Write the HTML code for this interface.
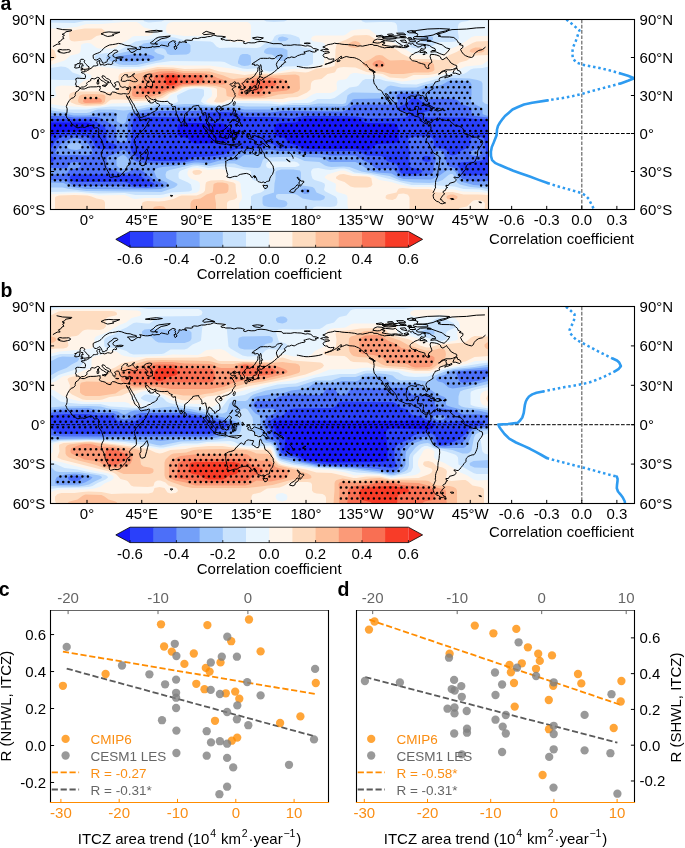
<!DOCTYPE html>
<html><head><meta charset="utf-8"><title>Figure</title>
<style>
html,body{margin:0;padding:0;background:#fff;}
svg{display:block;font-family:'Liberation Sans', Arial, sans-serif;font-size:15px;}
</style></head>
<body>
<svg width="685" height="848" viewBox="0 0 685 848">
<rect width="685" height="848" fill="#fff"/>
<clipPath id="clipa"><rect x="50.5" y="19.5" width="438" height="190"/></clipPath>
<g clip-path="url(#clipa)">
<rect x="50.5" y="19.5" width="438" height="190" fill="#fff4e9"/>
<rect x="49.5" y="18.5" width="440.0" height="192.0" fill="#1717fa"/>
<path fill="#2a40fa" fill-rule="evenodd" d="M49.5 18.5 489.5 18.5 489.5 210.5 49.5 210.5 49.5 137 52 136.5 56.5 133 59.5 132 88.5 131.5 93.5 129.5 95 127.5 94 125.5 93 124.5 90.5 123.5 87.5 122.5 49.5 122.5 49.5 18.5ZM180.5 123.5 178.5 124.5 177.5 126.5 177.5 134.5 180 136.5 187.5 138 191.5 142 194.5 143.5 223.5 143 226.5 141.5 228.5 139 230.5 138 236.5 136.5 238.5 136 240 133.5 238.5 131 236.5 130.5 230.5 129 225.5 124.5 222.5 123.5 196.5 123 184.5 123 180.5 123.5ZM303.5 118.5 295.5 122.5 280.5 123 276.5 124 275 125.5 274.5 127.5 274.5 133.5 275.5 135.5 277.5 136.5 284.5 138 290 143.5 296.5 145 302.5 148 306.5 149 355.5 149 367.5 150.5 371.5 149 374.5 145.5 377.5 144 394.5 143 397.5 142 399 140.5 398 126.5 397 124.5 394.5 123.5 366.5 123 363.5 122 358.5 119 354.5 118.5 303.5 118.5Z"/>
<path fill="#4c6ff9" fill-rule="evenodd" d="M49.5 18.5 489.5 18.5 489.5 119.5 475.5 119 464.5 117.5 428.5 117.5 424.5 117 422 115.5 422 113.5 424.5 112 431.5 110.5 433.5 108.5 433 106.5 430.5 105 424 103.5 418.5 99 415.5 98 411.5 98.5 406.5 103.5 399.5 106.5 398 107.5 397.5 108.5 398 109.5 399.5 110.5 408 112.5 409 114.5 408.5 116 405.5 117.5 396.5 118 367.5 118.5 356.5 116.5 343.5 116 304.5 116 292.5 118 280.5 117.5 269.5 117 245.5 117 241.5 116 234.5 112.5 222.5 112 206.5 112.5 204 113.5 199.5 117 196.5 117.5 136.5 117 134.5 117.5 133 120.5 132 126.5 131.5 140.5 130 146.5 132 152.5 134.5 155.5 143.5 160 154.5 161 173.5 161 185.5 160.5 194.5 157 209.5 156.5 224 154.5 226.5 153.5 231 150.5 237.5 149 259.5 148 261.5 147.5 265.5 144.5 269.5 143.5 273.5 144.5 277.5 147.5 279.5 148 282.5 148.5 294.5 148 302.5 151 305.5 151.5 355.5 151 359.5 152 366.5 155.5 381.5 156 384 157.5 387.5 161.5 394.5 163 396.5 164.5 398 166.5 399.5 171.5 401.5 173.5 404.5 174 415.5 174 419.5 173.5 421.5 172.5 422.5 171.5 422 170.5 420.5 169.5 412.5 168 410.5 167 409.5 165.5 409.5 146.5 408 140.5 409 138.5 410.5 137.5 416.5 136.5 427.5 136.5 431.5 137.5 433.5 139.5 434 145.5 434.5 146.5 436.5 147.5 444.5 149 447 150.5 449.5 154.5 452.5 155.5 456.5 154.5 461.5 150.5 468.5 147.5 470 145.5 470.5 139.5 471.5 138 475.5 136.5 480.5 137 483.5 138 484.5 139.5 485 146.5 486.5 152.5 486 155.5 484.5 158.5 482.5 160 479.5 161 460.5 162.5 458 163.5 457.5 164.5 457.5 165.5 460 168.5 462.5 174 464.5 175.5 489.5 175 489.5 210.5 49.5 210.5 49.5 162.5 53 161.5 54.5 159.5 53.5 157.5 49.5 155.5 49.5 149.5 52 147.5 54.5 142.5 56 140.5 60.5 137.5 64.5 136 72.5 135 80.5 135.5 86.5 136.5 90.5 138.5 93 141.5 95.5 147 98.5 149 112.5 149.5 115.5 148.5 117 146.5 116.5 145.5 115.5 144.5 107.5 141.5 106.5 139.5 106.5 131.5 105 127.5 103 125.5 94.5 121 91.5 120 87.5 119.5 49.5 119 49.5 18.5ZM424.5 156 422.5 157.5 422 158.5 422.5 160.5 424.5 161.5 427.5 162 429.5 161.5 430.5 160.5 431.5 158.5 430 156.5 427.5 156 424.5 156ZM73.5 174.5 71 175.5 69.5 177.5 70.5 179.5 74.5 182 123.5 182 127.5 182.5 132.5 185.5 135.5 186 149.5 186 154.5 184.5 154 183.5 152.5 182.5 145.5 179.5 140 175.5 136.5 174 123.5 175.5 111.5 174 98.5 174.5 73.5 174.5Z"/>
<path fill="#74a0f8" fill-rule="evenodd" d="M49.5 18.5 489.5 18.5 489.5 117.5 478.5 116.5 473 115.5 472 114.5 471.5 113.5 471.5 109.5 470.5 107.5 468.5 106.5 461.5 104 458 100.5 455.5 99.5 450.5 98.5 427.5 99 425.5 98.5 421.5 95.5 418.5 94 402.5 93 398.5 94 396.5 95.5 396.5 96.5 398 101.5 396 103.5 393.5 104.5 354.5 104.5 352 105.5 346.5 110 342.5 111.5 282.5 111 270.5 112.5 246.5 112.5 243.5 112.5 233.5 109.5 209.5 109.5 204.5 109.5 196.5 111 159.5 111 149.5 112.5 134.5 113.5 132.5 114 131 115.5 127.5 126.5 127 140.5 126.5 141.5 124.5 142.5 121.5 142.5 118.5 141.5 116.5 139.5 116 128.5 115.5 126.5 100.5 118 96.5 117 74.5 117.5 63.5 116 49.5 116 49.5 18.5ZM71.5 138.5 74.5 138 78.5 138.5 81.5 139.5 87.5 143 89 144.5 92.5 151.5 92.5 153.5 90.5 155 87.5 155.5 74.5 155 62.5 155.5 58.5 155 56 153.5 55 152.5 55.5 151.5 60.5 144 66.5 140.5 71.5 138.5ZM475 149.5 477.5 149.5 480.5 150.5 481.5 152.5 481 154.5 478.5 156 475.5 156 472.5 155.5 470 154.5 469.5 152.5 470.5 151.5 475 149.5ZM121 150.5 123.5 150 125.5 150.5 133.5 160 136.5 161.5 143.5 163 160.5 163.5 174.5 163.5 186.5 162 196.5 160 209.5 160.5 218.5 158 231.5 156.5 234 155.5 238 152.5 241.5 151.5 260.5 151 269.5 149.5 279.5 151 294.5 151 305.5 154 320.5 154 330.5 155.5 354.5 155.5 356.5 156 363.5 160.5 369.5 163 376 168.5 379.5 169 391.5 168.5 393.5 169.5 399.5 175.5 401.5 176.5 404.5 176.5 423.5 176 428.5 175 432 173.5 433.5 171.5 434 165.5 436 159.5 435.5 157.5 434 152.5 435 151.5 436.5 151 440.5 150.5 442.5 151.5 443.5 152.5 447.5 165.5 449 166.5 454.5 168 456.5 169.5 458 171.5 460.5 177 462.5 179 475.5 181.5 489.5 181 489.5 210.5 49.5 210.5 49.5 180 63.5 180 66.5 181 73.5 185.5 85.5 186 123.5 186 133.5 187.5 147.5 188 156.5 187 160 186.5 162 185.5 163 184.5 162.5 183.5 153.5 179.5 142.5 171 139.5 169.5 134.5 169 127.5 172.5 122.5 173 119.5 172.5 108 167.5 107 166.5 106.5 164.5 107 157.5 108.5 156 114.5 154 121 150.5ZM71.5 162.5 75.5 162 78.5 162.5 80.5 164.5 80.5 166.5 79.5 167.5 77.5 168.5 69.5 169.5 68 172.5 64.5 174.5 49.5 174.5 49.5 168 62.5 168.5 67.5 168 69.5 164 71.5 162.5Z"/>
<path fill="#9ec6fb" fill-rule="evenodd" d="M49.5 18.5 489.5 18.5 489.5 116 486.5 115.5 483.5 114.5 482.5 113.5 482.5 109.5 481.5 107.5 473 103.5 470.5 101.5 471.5 94.5 471.5 84.5 470.5 82.5 469 81.5 465.5 81 453.5 80.5 448.5 81 442.5 84.5 439.5 85.5 426.5 87 418.5 90.5 400.5 90.5 391.5 91.5 388.5 93.5 384.5 97 381.5 98.5 354.5 99 352.5 99.5 347.5 105 345.5 106 342.5 106.5 318.5 106.5 281.5 107.5 278.5 107.5 271.5 109.5 267.5 109.5 244.5 109.5 233.5 107 219.5 107.5 196.5 106.5 158.5 107 144.5 110 133.5 111.5 129.5 112.5 127.5 114.5 126 121.5 125.5 122.5 123.5 124 120.5 123.5 117 121.5 116.5 119.5 117 114.5 116.5 113.5 113.5 112.5 98.5 112.5 91.5 115 86.5 115.5 73.5 115.5 64.5 113.5 49.5 113 49.5 18.5ZM130.5 54.5 119.5 56 117 57.5 117 58.5 119.5 60.5 122.5 61.5 135.5 61.5 150.5 59.5 153.5 58.5 154.5 57.5 154 56.5 152 55.5 148.5 54.5 135.5 54 130.5 54.5ZM73 142.5 76.5 142.5 79.5 143.5 82 145.5 82 147.5 80.5 149 76.5 150 71.5 149.5 68.5 148.5 67.5 147.5 67.5 145.5 70 143.5 73 142.5ZM262.5 154.5 294.5 154 305.5 157 320.5 157.5 323.5 158.5 328.5 161.5 330.5 162 355.5 162 359 163.5 368 169.5 372.5 171.5 377.5 172.5 391.5 173.5 398.5 177.5 403.5 179 430.5 179.5 433.5 178.5 439.5 175.5 446.5 170.5 452.5 170 455.5 172 459.5 180 462.5 182 473.5 185 489.5 186 489.5 210.5 49.5 210.5 49.5 182.5 63.5 183 71.5 187 86.5 189 146.5 189.5 160.5 189 165.5 187.5 168 185.5 168.5 184.5 167 182.5 159.5 179.5 156.5 177.5 154 171.5 155 169.5 157.5 168 162.5 167 174.5 166 194.5 162.5 198.5 162.5 209.5 163.5 219.5 160.5 235.5 160.5 238 159.5 242.5 156 244.5 155 262.5 154.5ZM301.5 189.5 300.5 190.5 300.5 191.5 304.5 194 308.5 193.5 310 191.5 309.5 189.5 307.5 189 304.5 188.5 301.5 189.5ZM121.5 155.5 123.5 155 125.5 156 127 157.5 128.5 160.5 129.5 165.5 127.5 167.5 125.5 168.5 123.5 169 121 168.5 118.5 167.5 116.5 165.5 116.5 161.5 116.5 158.5 118.5 157 121.5 155.5Z"/>
<path fill="#c8e2fd" fill-rule="evenodd" d="M49.5 18.5 489.5 18.5 489.5 105 485 103.5 482.5 101.5 482.5 83.5 481.5 81.5 477.5 80 469.5 78.5 452.5 78 447.5 78.5 435.5 82.5 425.5 84.5 416.5 87.5 401.5 87.5 390.5 85.5 387.5 86.5 382.5 91.5 379.5 93 355.5 92.5 352.5 92.5 349.5 94 347.5 95.5 346 102.5 344.5 103.5 342.5 104 318.5 103.5 308.5 105 292.5 105 268.5 106.5 245.5 106.5 233.5 105 223.5 106 214.5 106 205.5 105.5 196.5 104 184.5 104 173.5 105 158.5 105 139.5 109 123.5 110.5 113.5 109.5 98.5 109.5 95.5 110 89.5 112.5 86.5 113 74.5 113 54.5 111 49.5 110 49.5 18.5ZM157.5 41.5 143.5 43.5 137.5 47.5 127.5 51.5 109.5 55.5 107 56.5 106 57.5 106.5 58.5 109.5 60.5 119 64.5 123.5 65 136.5 65 160.5 60 164 58.5 164.5 56.5 164 55.5 157.5 53.5 154.5 51.5 154.5 50.5 155 49.5 157.5 48.5 160.5 48 163.5 48.5 165.5 50 167.5 54 170.5 55 186.5 54.5 189 53.5 190.5 51.5 190.5 45.5 189.5 44 187.5 43 172.5 41 157.5 41.5ZM242.5 54 240.5 55 239.5 56.5 238 61.5 238 63.5 241.5 65.5 244.5 66 248.5 65.5 250.5 64.5 251 62.5 251 58.5 250.5 55.5 247.5 54 242.5 54ZM269.5 47.5 267.5 48 265 49.5 264 51.5 264 52.5 266.5 54 271.5 54.5 273.5 55.5 277 59.5 279.5 61 283.5 61 285.5 60.5 287 59.5 287.5 57.5 287.5 52.5 287.5 50.5 286.5 49.5 282.5 48 269.5 47.5ZM279.5 37 278 38.5 278 39.5 278.5 40.5 280.5 41.5 285.5 41 288 39.5 288.5 38.5 286.5 37.5 282.5 36.5 279.5 37ZM426.5 35.5 423.5 36 421.5 37 420.5 38.5 421.5 40.5 423.5 41.5 427.5 42 430.5 41.5 433 39.5 433 37.5 432 36.5 429.5 35.5 426.5 35.5ZM266.5 157.5 278.5 157 295.5 157 304.5 161 319.5 162 325 165.5 328 166.5 331.5 167 343.5 166.5 349.5 167 361.5 171.5 389.5 176 400.5 180.5 413.5 182.5 429.5 183 437.5 182 442.5 180 448.5 175 450.5 174 452.5 174 454.5 176.5 457 182.5 460 184.5 470.5 187 481.5 188 489.5 189 489.5 210.5 49.5 210.5 49.5 187.5 62.5 187.5 69.5 189 77.5 190 86.5 191 161.5 192 174.5 187.5 177 185.5 177.5 184.5 177 183.5 167 178.5 166 177.5 165.5 174.5 166.5 171.5 169.5 170 193.5 164.5 198.5 164.5 209.5 166 221.5 163.5 234.5 163.5 243.5 167 257.5 168 259.5 167.5 260.5 166.5 263 159.5 266.5 157.5ZM277.5 170.5 276 171.5 275.5 172.5 275.5 178.5 274.5 183.5 274 192.5 264.5 195.5 263 196.5 262.5 197.5 262.5 203.5 263.5 205.5 264.5 206 268.5 207 281.5 207.5 284.5 207 286.5 206 287.5 203.5 286.5 201.5 284.5 200.5 278.5 199.5 276 197.5 276 195.5 276.5 194.5 278.5 194 294.5 194 297.5 195 302.5 198.5 313.5 200.5 320.5 200.5 323.5 199.5 324.5 198.5 325 196.5 323.5 195.5 316.5 192.5 314.5 188.5 312.5 187 302.5 185.5 300.5 184.5 300 183.5 301 178.5 301 172.5 300 170.5 293.5 169.5 281.5 169.5 277.5 170.5Z"/>
<path fill="#e9f5fe" fill-rule="evenodd" d="M116 19.5 117 18.5 142 18.5 144.5 21.5 148.5 22.5 161.5 21.5 164.5 20 166 18.5 263.5 18.5 264.5 20.5 266.5 21.5 273.5 22 284 21.5 286.5 20.5 287.5 18.5 361 18.5 361.5 20.5 362.5 21.5 365.5 22.5 380.5 22 391.5 22 394.5 22.5 396 23.5 397 25.5 397.5 31.5 398 33.5 400.5 35 406.5 35.5 409.5 37 410.5 38.5 410.5 39.5 408.5 43.5 409 45.5 411.5 47.5 415.5 48.5 429.5 47.5 431.5 47 436.5 43 439.5 42 451.5 42 455.5 41.5 457.5 40.5 459 38.5 458 32.5 458 26.5 458.5 24.5 459.5 23 461.5 22 467.5 21 469.5 20 470 18.5 489.5 18.5 489.5 66.5 482.5 68 473.5 68.5 470.5 69.5 466.5 72.5 463.5 74 447.5 76 416.5 84.5 401.5 84 393.5 82 385.5 81 379.5 79 365.5 79 362.5 80.5 358.5 85.5 356.5 86.5 349.5 87.5 334.5 98 330.5 99 317.5 99 310.5 102.5 307.5 103 293.5 103 281.5 104.5 269.5 103.5 233.5 103 221.5 105.5 207.5 104.5 203.5 103.5 201 101.5 201.5 99.5 204 95.5 204 90.5 203.5 89.5 201.5 89 195.5 88.5 189 89.5 178.5 94.5 177 95.5 177 96.5 178 101.5 176.5 102.5 173.5 103.5 158.5 103 137.5 106.5 110.5 106.5 96.5 108 86.5 109.5 61.5 109.5 49.5 107 49.5 79.5 59.5 80 75.5 80 79.5 78.5 81.5 76.5 80.5 75.5 78.5 74.5 72.5 72.5 68.5 68.5 65.5 67 61 66.5 49.5 68 49.5 22.5 74.5 23 84.5 21 111.5 20.5 116 19.5ZM278.5 34.5 276.5 35 274.5 36.5 272.5 40.5 271.5 41.5 265.5 43 260.5 47 256.5 48 232.5 47.5 219.5 48 216.5 46.5 213 42.5 210.5 41.5 196.5 41 183.5 40 174.5 37.5 159.5 36 151 39.5 141.5 40.5 135.5 41.5 117 51.5 113 52.5 102.5 53.5 97.5 54 95.5 55.5 94.5 57.5 95.5 59.5 97.5 61 109.5 65 120.5 67 138.5 67 156.5 63 171.5 61 220.5 61.5 224.5 62 231.5 65.5 242.5 68.5 247.5 69 258.5 68 261.5 69 265 70.5 269.5 71.5 275 70.5 280.5 68 284.5 66.5 307.5 66 311.5 64.5 313 63.5 313 50.5 312.5 49.5 310.5 48.5 303.5 47.5 301 46.5 300 44.5 300 39.5 299 37.5 295.5 36 290.5 34.5 283.5 34 278.5 34.5ZM268.5 161.5 294.5 161.5 297.5 162.5 299.5 164.5 299.5 165.5 298.5 166 295.5 167 279.5 167 269.5 168.5 267 167.5 266 165.5 266.5 163 268.5 161.5ZM192.5 166.5 197.5 166 208.5 168 219.5 166.5 224.5 166.5 234.5 167.5 249.5 170.5 251 171.5 251 172.5 251.5 177.5 252.5 179.5 254.5 180.5 261.5 181.5 264 183.5 264.5 186.5 264 190.5 261 192.5 253.5 194.5 251 196.5 251 203.5 250 210.5 49.5 210.5 49.5 192 75.5 191.5 98.5 193.5 124.5 193 135.5 195 159.5 195 163.5 194.5 171.5 192.5 189 191.5 191.5 190.5 192 189.5 191 184.5 188 182.5 179 178.5 178.5 176.5 178.5 173.5 179.5 171.5 181 170.5 192.5 166.5ZM313.5 168.5 318.5 168 325.5 169.5 330.5 170 339.5 168.5 344.5 168.5 348.5 169.5 354.5 172.5 371.5 174.5 391.5 179.5 401.5 182.5 411.5 185 430.5 185 454.5 186.5 463.5 189 479.5 189.5 489.5 191.5 489.5 210.5 312 210.5 312.5 209 313.5 207.5 316.5 206.5 330.5 207 334.5 206.5 336.5 205.5 337.5 202.5 337 198.5 335.5 196.5 325.5 191.5 324.5 190.5 324 189.5 325 185.5 324.5 183.5 321.5 182 314.5 180 312.5 178.5 311.5 175.5 311 171.5 312 169.5 313.5 168.5Z"/>
<path fill="#fff4e9" fill-rule="evenodd" d="M118.5 22.5 123.5 22 136.5 22 139.5 23.5 144 27.5 152 29.5 153 30.5 153.5 32.5 152 34.5 148.5 36 135.5 36 132.5 36.5 126.5 41 120.5 43.5 115.5 47.5 112.5 48.5 98.5 48.5 96 47.5 91 43.5 87.5 43 83.5 43.5 81.5 44.5 81 45.5 80.5 51.5 79.5 53 77.5 54 70.5 55.5 64.5 60.5 49.5 65.5 49.5 28.5 63.5 28.5 76.5 27 86.5 24 101.5 24 118.5 22.5ZM169.5 22.5 173.5 22 247.5 22 250 23.5 251 25.5 251 38.5 250.5 40.5 247.5 42 232.5 42 229.5 41.5 225 36.5 221.5 35.5 184.5 36 169.5 34 166.5 32.5 166 29.5 166.5 25.5 167.5 24 169.5 22.5ZM357 29.5 365.5 29 369.5 29.5 376.5 35 381.5 37 388.5 41 395.5 43.5 411.5 53 415.5 54.5 441.5 54.5 444.5 53 449.5 49 456.5 46.5 465.5 41.5 471.5 37 475.5 36 489.5 36 489.5 60.5 487.5 61 482.5 64.5 480.5 65 465.5 66.5 455.5 71 432.5 77 406.5 81 402.5 81.5 388.5 79.5 379.5 75.5 365.5 74.5 356.5 73 353.5 73 350.5 74 346.5 79 344.5 79.5 339.5 80 337.5 81 336.5 83.5 337 89.5 333.5 92 330.5 93 316.5 93 312.5 94.5 305.5 99 300.5 100 291.5 100.5 283.5 102.5 279 102.5 270.5 101 233.5 101 230.5 101.5 225 103.5 221.5 104 210.5 103.5 207 102.5 206 101.5 207.5 99.5 211.5 96.5 212 93.5 211.5 89.5 210 88.5 206.5 87.5 196.5 87.5 184.5 88.5 177.5 92.5 171.5 94.5 170 95.5 167.5 99 165.5 100 149.5 102.5 111.5 103.5 103.5 106 86.5 107.5 60.5 105.5 49.5 104 49.5 98.5 54.5 97.5 56.5 95.5 55 89.5 55.5 87.5 56.5 86.5 61.5 85.5 76.5 86 78.5 85 83.5 81 89.5 79 91.5 77.5 91.5 75.5 90 74.5 83.5 72.5 80.5 70.5 80.5 69.5 81 68.5 83.5 67.5 99.5 66.5 119.5 69 135.5 69 139.5 69 158.5 65 184.5 65.5 209.5 65.5 234.5 69 243.5 71.5 257.5 71.5 269.5 73 276 72.5 291.5 69 307.5 68.5 322.5 64.5 324 63.5 324 62.5 324.5 51.5 325 44.5 324.5 43.5 322.5 42.5 314.5 41.5 312.5 41 311.5 39.5 311 38.5 312.5 36.5 315.5 35.5 318.5 35.5 343.5 35.5 346 34.5 351 30.5 357 29.5ZM192 168.5 196.5 168 208.5 170 219.5 169 223.5 169.5 226 170.5 226.5 171.5 227 176.5 228.5 178.5 236.5 180.5 239 181.5 240.5 183.5 241 190.5 242 196.5 241.5 199.5 239 203.5 239 210.5 49.5 210.5 49.5 194.5 54.5 194 75.5 193 89.5 194 98.5 195.5 124.5 195 127.5 196 132.5 198.5 135.5 199 145.5 198 161.5 198 176.5 194.5 191.5 193.5 197 192.5 199.5 190.5 200 185.5 199.5 182.5 197.5 181 190.5 178.5 188.5 176.5 187.5 174.5 187.5 172.5 188 170.5 192 168.5ZM340.5 170.5 344.5 170.5 353.5 174 370 175.5 373.5 176.5 379.5 180 391.5 182 399.5 184.5 408.5 186.5 414.5 187 429.5 187 439.5 189 454.5 189.5 462.5 191.5 477.5 192 489.5 193 489.5 210.5 348.5 210.5 347.5 204.5 347.5 197.5 347 195.5 345.5 194.5 338.5 192.5 336.5 191.5 335.5 189.5 336 185.5 335.5 183.5 327 179.5 324.5 177.5 325.5 176 327.5 174.5 340.5 170.5Z"/>
<path fill="#fedcc0" fill-rule="evenodd" d="M84.5 28.5 101.5 28.5 104.5 30.5 105 32.5 103 34.5 96.5 36 91.5 39.5 89.5 40 74.5 41.5 71.5 41 69.5 39.5 69 33.5 69.5 31.5 72.5 30.5 84.5 28.5ZM354 35.5 366.5 35 369.5 35.5 376.5 40 382.5 42.5 388.5 46.5 395.5 49 401.5 53.5 410.5 58 413.5 59 429.5 59 438.5 60 442.5 59.5 444.5 58.5 449.5 55 456.5 52 472.5 43 476.5 41.5 489.5 41 489.5 55 475.5 55.5 472.5 56.5 467 60.5 459.5 62.5 454.5 67 440 72.5 434.5 74 428.5 75 413.5 75 406.5 78 403.5 78.5 390 77.5 382.5 74 366.5 72 355.5 67.5 343.5 67 339.5 67.5 337 68.5 335.5 71.5 334.5 72.5 327.5 74 321.5 79 314.5 80 312 81.5 311 83.5 310.5 89.5 307 92.5 297.5 97 288.5 97.5 282.5 99 245.5 99.5 231.5 99.5 227.5 100 222.5 102.5 216.5 102.5 214 101.5 214.5 100.5 217 96.5 217 89.5 216.5 88.5 213.5 87.5 203.5 86.5 191.5 86.5 183 87.5 176 91.5 169.5 93.5 162.5 98 151.5 100.5 134.5 101 123.5 99.5 111.5 99.5 109.5 100.5 105.5 104 100.5 105.5 85.5 106 76 104.5 71 102.5 70 100.5 69 97.5 69 95.5 70 93.5 72 92.5 75.5 91.5 100.5 91.5 111.5 92.5 116.5 91.5 119 89.5 118.5 76.5 119.5 74.5 120.5 73.5 125.5 72 139.5 71 157.5 67 173.5 67.5 184.5 69 209.5 68.5 219.5 71.5 244.5 75 256.5 73.5 273.5 74 293.5 71.5 305.5 72.5 308.5 72 316.5 68.5 328.5 67.5 334.5 66 335 63.5 335.5 49.5 336.5 44.5 338.5 42.5 346.5 39.5 354 35.5ZM49.5 48.5 49.5 48 51.5 48.5 54.5 50.5 56.5 56.5 55.5 58.5 52.5 60.5 49.5 61.5 49.5 48.5ZM193.5 170.5 196.5 170 199.5 170 202 171.5 202 172.5 199.5 174.5 195.5 175 193.5 174 192.5 172.5 192.5 171.5 193.5 170.5ZM339.5 174.5 343.5 174 352.5 176 366.5 176.5 369.5 177 371.5 178.5 371.5 179.5 372.5 184.5 371 186.5 367.5 187.5 354.5 187.5 350.5 186.5 344.5 182 338.5 180 336 178.5 336 177.5 336.5 176.5 339.5 174.5ZM211 180.5 222.5 180 233.5 182.5 235.5 184 236 191.5 237 195.5 237 197.5 234.5 199.5 229.5 200.5 227.5 202 227 203.5 227 210.5 143 210.5 142 206.5 142 203.5 142.5 202.5 144.5 201.5 147.5 201 158.5 201.5 164.5 201 173.5 199 178.5 196.5 181.5 195.5 196.5 195.5 200.5 194 203.5 192.5 205 190.5 205.5 184.5 206 182.5 207.5 181.5 211 180.5ZM399 188.5 402.5 188 413.5 189 428.5 189 431.5 189.5 435.5 192 438.5 192.5 452.5 192 463.5 194.5 478.5 194.5 489.5 195 489.5 210.5 484.5 210.5 485 203.5 483.5 201.5 480.5 200.5 476.5 200 473.5 200.5 472 201.5 467 206.5 459.5 208 458 210.5 409.5 210.5 409.5 197.5 408.5 195.5 407.5 194.5 403.5 193.5 398.5 194 396 198.5 392.5 200 388 199.5 386 198.5 385.5 197.5 386 195.5 387.5 194.5 396.5 192.5 398 189.5 399 188.5ZM59 195.5 74.5 195 87.5 195.5 91.5 196.5 96.5 198.5 102 199.5 104 200.5 105 202.5 105 210.5 55 210.5 55 197.5 56 196.5 59 195.5Z"/>
<path fill="#fdbf9a" fill-rule="evenodd" d="M352.5 41.5 355.5 41 358.5 42 360.5 43.5 360.5 45.5 358.5 47 355.5 48 351.5 47.5 348.5 46.5 348 45.5 348.5 43.5 352.5 41.5ZM475.5 47.5 479.5 47.5 483 48.5 484 49.5 484.5 50.5 484 51.5 481.5 52.5 476.5 53 471.5 52.5 469.5 51.5 470.5 49.5 472.5 48.5 475.5 47.5ZM376 55.5 379.5 55 382.5 55.5 388 59.5 390.5 60.5 403.5 60 413.5 61.5 430.5 62 432.5 63 434 64.5 434.5 69.5 434 70.5 432.5 71.5 428.5 72.5 414.5 72.5 403.5 74 391.5 74 383.5 72 373 70.5 365.5 67 362.5 64.5 362.5 63.5 363.5 62 370 59.5 376 55.5ZM155.5 69.5 159.5 69 172.5 69 183.5 71 209.5 71.5 223.5 75.5 230.5 78.5 233.5 79 246.5 77.5 256.5 75.5 273.5 75.5 295.5 74.5 298.5 75.5 299.5 76.5 300 88.5 299 90.5 297.5 91.5 292.5 93.5 278.5 94.5 271 96.5 263.5 98 243.5 98.5 228 96.5 226.5 95.5 226.5 94.5 226 89.5 225 88.5 222 87.5 215.5 86 208.5 85.5 190.5 86 181.5 87 174.5 90.5 168 92.5 160.5 96.5 152.5 98.5 134.5 99 131 98.5 128.5 97 127.5 94.5 127 88.5 129.5 82.5 130 76.5 131 75.5 133.5 74.5 155.5 69.5ZM82.5 94.5 91.5 94 103 94.5 105 95.5 105.5 96.5 105 101.5 103 103.5 100.5 104 87.5 104.5 81.5 104 78.5 102.5 78 100.5 79 96.5 80 95.5 82.5 94.5ZM217.5 182.5 222.5 182.5 227 183.5 228 184.5 228.5 185.5 228.5 189.5 228 191.5 226.5 193 223.5 193.5 217.5 194 216 194.5 215 195.5 215 197.5 216 203.5 216 210.5 190.5 210.5 190.5 203.5 191.5 201 193.5 199.5 200.5 198.5 206.5 194.5 212.5 192.5 213 190.5 213.5 184.5 214.5 183.5 217.5 182.5ZM447.5 195.5 450.5 194.5 453.5 194.5 456 195.5 457.5 196.5 457.5 197.5 457 198.5 455.5 199.5 449.5 199.5 447.5 199 446.5 197.5 446.5 196.5 447.5 195.5ZM155 206.5 159.5 206 163.5 206.5 165.5 208 166 210.5 153 210.5 153.5 207.5 155 206.5Z"/>
<path fill="#fb9a78" fill-rule="evenodd" d="M377 60.5 379.5 60 383 61.5 384.5 63.5 384.5 65.5 382.5 67 380.5 67.5 377.5 67.5 374.5 66.5 372.5 64.5 372.5 63.5 374.5 61.5 377 60.5ZM159 71.5 172.5 71 183.5 73 198.5 73 205 73.5 210 74.5 217.5 78 222.5 79.5 225.5 81 226.5 82.5 225.5 84 222.5 84.5 207.5 84 183.5 85.5 179.5 86.5 173.5 89.5 167.5 91 160.5 94 151.5 96.5 135.5 97 132.5 96 132 93.5 132.5 88.5 134.5 86.5 140.5 83.5 141.5 82.5 142.5 76.5 146 74.5 159 71.5ZM252.5 78.5 257.5 77.5 270.5 77.5 282.5 79 285.5 80.5 287 81.5 288.5 84.5 289 88.5 288.5 89.5 286.5 90.5 272.5 92 269.5 92.5 264 95.5 260.5 96.5 244.5 96.5 241.5 96.5 238.5 95.5 238 94.5 238.5 92.5 240 84.5 241 82.5 243.5 81 252.5 78.5ZM85 98.5 87.5 98 99.5 98 101.5 99.5 102 101.5 100.5 102.5 99.5 102.5 85.5 103 84 102.5 83 101.5 83.5 99.5 85 98.5Z"/>
<path fill="#f96f53" fill-rule="evenodd" d="M163 73.5 172.5 73 183.5 75 198.5 75 201.5 75.5 203 76.5 203.5 78.5 203 81.5 200.5 83 197.5 83.5 182.5 84 172.5 88 160.5 91.5 147.5 93 143.5 92.5 141.5 91.5 140.5 89.5 141.5 88 144.5 87 150.5 85.5 153.5 83.5 154 77.5 155.5 75.5 163 73.5ZM256 80.5 272 80.5 275 81.5 276.5 82.5 276.5 83.5 276 84.5 274.5 86 265.5 87.5 259.5 93 255.5 93 252.5 92.5 250.5 90.5 250 84.5 251 82.5 252.5 81.5 256 80.5Z"/>
<path fill="#f83c28" fill-rule="evenodd" d="M167 75.5 172.5 75 176.5 75.5 178 77.5 178 82.5 175 84.5 171.5 85.5 168.5 85.5 166 84.5 165 82.5 165 77.5 165.5 76.5 167 75.5Z"/>
<path d="M134.7 54.4h0M140.2 54.4h0M145.7 54.4h0M120.9 59.8h0M126.4 59.8h0M131.9 59.8h0M137.4 59.8h0M142.9 59.8h0M148.4 59.8h0M376.6 65.3h0M382.1 65.3h0M145.7 76.2h0M151.2 76.2h0M156.7 76.2h0M162.2 76.2h0M167.7 76.2h0M173.2 76.2h0M178.7 76.2h0M184.2 76.2h0M189.7 76.2h0M195.2 76.2h0M200.7 76.2h0M206.2 76.2h0M211.7 76.2h0M142.9 81.7h0M148.4 81.7h0M153.9 81.7h0M159.4 81.7h0M164.9 81.7h0M170.4 81.7h0M175.9 81.7h0M181.4 81.7h0M186.9 81.7h0M192.4 81.7h0M197.9 81.7h0M203.4 81.7h0M208.9 81.7h0M214.4 81.7h0M219.9 81.7h0M225.4 81.7h0M247.4 81.7h0M252.9 81.7h0M258.4 81.7h0M263.9 81.7h0M269.4 81.7h0M274.9 81.7h0M280.4 81.7h0M285.9 81.7h0M450.9 81.7h0M456.4 81.7h0M461.9 81.7h0M467.4 81.7h0M134.7 87.2h0M140.2 87.2h0M145.7 87.2h0M151.2 87.2h0M156.7 87.2h0M162.2 87.2h0M167.7 87.2h0M173.2 87.2h0M239.2 87.2h0M244.7 87.2h0M250.2 87.2h0M255.7 87.2h0M261.1 87.2h0M266.6 87.2h0M272.1 87.2h0M277.6 87.2h0M283.1 87.2h0M288.6 87.2h0M426.1 87.2h0M431.6 87.2h0M437.1 87.2h0M442.6 87.2h0M448.1 87.2h0M453.6 87.2h0M459.1 87.2h0M464.6 87.2h0M470.1 87.2h0M137.4 92.7h0M142.9 92.7h0M148.4 92.7h0M153.9 92.7h0M159.4 92.7h0M241.9 92.7h0M247.4 92.7h0M252.9 92.7h0M258.4 92.7h0M263.9 92.7h0M269.4 92.7h0M390.4 92.7h0M395.9 92.7h0M401.4 92.7h0M406.9 92.7h0M412.4 92.7h0M417.9 92.7h0M423.4 92.7h0M428.9 92.7h0M434.4 92.7h0M439.9 92.7h0M445.4 92.7h0M450.9 92.7h0M456.4 92.7h0M461.9 92.7h0M467.4 92.7h0M85.2 98.1h0M90.7 98.1h0M96.2 98.1h0M382.1 98.1h0M387.6 98.1h0M393.1 98.1h0M398.6 98.1h0M404.1 98.1h0M409.6 98.1h0M415.1 98.1h0M420.6 98.1h0M426.1 98.1h0M431.6 98.1h0M437.1 98.1h0M442.6 98.1h0M448.1 98.1h0M453.6 98.1h0M459.1 98.1h0M464.6 98.1h0M470.1 98.1h0M351.9 103.6h0M357.4 103.6h0M362.9 103.6h0M368.4 103.6h0M373.9 103.6h0M379.4 103.6h0M384.9 103.6h0M390.4 103.6h0M395.9 103.6h0M401.4 103.6h0M406.9 103.6h0M412.4 103.6h0M417.9 103.6h0M423.4 103.6h0M428.9 103.6h0M434.4 103.6h0M439.9 103.6h0M445.4 103.6h0M450.9 103.6h0M456.4 103.6h0M461.9 103.6h0M467.4 103.6h0M472.9 103.6h0M151.2 109.1h0M156.7 109.1h0M162.2 109.1h0M167.7 109.1h0M173.2 109.1h0M178.7 109.1h0M184.2 109.1h0M189.7 109.1h0M195.2 109.1h0M200.7 109.1h0M206.2 109.1h0M211.7 109.1h0M217.2 109.1h0M222.7 109.1h0M228.2 109.1h0M233.7 109.1h0M239.2 109.1h0M272.1 109.1h0M277.6 109.1h0M283.1 109.1h0M288.6 109.1h0M294.1 109.1h0M299.6 109.1h0M305.1 109.1h0M310.6 109.1h0M316.1 109.1h0M321.6 109.1h0M327.1 109.1h0M332.6 109.1h0M338.1 109.1h0M343.6 109.1h0M349.1 109.1h0M354.6 109.1h0M360.1 109.1h0M365.6 109.1h0M371.1 109.1h0M376.6 109.1h0M382.1 109.1h0M387.6 109.1h0M393.1 109.1h0M398.6 109.1h0M404.1 109.1h0M409.6 109.1h0M415.1 109.1h0M420.6 109.1h0M426.1 109.1h0M431.6 109.1h0M437.1 109.1h0M442.6 109.1h0M448.1 109.1h0M453.6 109.1h0M459.1 109.1h0M464.6 109.1h0M470.1 109.1h0M475.6 109.1h0M481.1 109.1h0M54.9 114.5h0M60.4 114.5h0M65.9 114.5h0M93.4 114.5h0M98.9 114.5h0M104.4 114.5h0M109.9 114.5h0M115.4 114.5h0M131.9 114.5h0M137.4 114.5h0M142.9 114.5h0M148.4 114.5h0M153.9 114.5h0M159.4 114.5h0M164.9 114.5h0M170.4 114.5h0M175.9 114.5h0M181.4 114.5h0M186.9 114.5h0M192.4 114.5h0M197.9 114.5h0M203.4 114.5h0M208.9 114.5h0M214.4 114.5h0M219.9 114.5h0M225.4 114.5h0M230.9 114.5h0M236.4 114.5h0M241.9 114.5h0M247.4 114.5h0M252.9 114.5h0M258.4 114.5h0M263.9 114.5h0M269.4 114.5h0M274.9 114.5h0M280.4 114.5h0M285.9 114.5h0M291.4 114.5h0M296.9 114.5h0M302.4 114.5h0M307.9 114.5h0M313.4 114.5h0M318.9 114.5h0M324.4 114.5h0M329.9 114.5h0M335.4 114.5h0M340.9 114.5h0M346.4 114.5h0M351.9 114.5h0M357.4 114.5h0M362.9 114.5h0M368.4 114.5h0M373.9 114.5h0M379.4 114.5h0M384.9 114.5h0M390.4 114.5h0M395.9 114.5h0M401.4 114.5h0M406.9 114.5h0M412.4 114.5h0M417.9 114.5h0M423.4 114.5h0M428.9 114.5h0M434.4 114.5h0M439.9 114.5h0M445.4 114.5h0M450.9 114.5h0M456.4 114.5h0M461.9 114.5h0M467.4 114.5h0M472.9 114.5h0M478.4 114.5h0M52.2 120.0h0M57.7 120.0h0M63.2 120.0h0M68.7 120.0h0M74.2 120.0h0M79.7 120.0h0M85.2 120.0h0M90.7 120.0h0M96.2 120.0h0M101.7 120.0h0M107.2 120.0h0M112.7 120.0h0M129.2 120.0h0M134.7 120.0h0M140.2 120.0h0M145.7 120.0h0M151.2 120.0h0M156.7 120.0h0M162.2 120.0h0M167.7 120.0h0M173.2 120.0h0M178.7 120.0h0M184.2 120.0h0M189.7 120.0h0M195.2 120.0h0M200.7 120.0h0M206.2 120.0h0M211.7 120.0h0M217.2 120.0h0M222.7 120.0h0M228.2 120.0h0M233.7 120.0h0M239.2 120.0h0M244.7 120.0h0M250.2 120.0h0M255.7 120.0h0M261.1 120.0h0M266.6 120.0h0M272.1 120.0h0M277.6 120.0h0M283.1 120.0h0M288.6 120.0h0M294.1 120.0h0M299.6 120.0h0M305.1 120.0h0M310.6 120.0h0M316.1 120.0h0M321.6 120.0h0M327.1 120.0h0M332.6 120.0h0M338.1 120.0h0M343.6 120.0h0M349.1 120.0h0M354.6 120.0h0M360.1 120.0h0M365.6 120.0h0M371.1 120.0h0M376.6 120.0h0M382.1 120.0h0M387.6 120.0h0M393.1 120.0h0M398.6 120.0h0M404.1 120.0h0M409.6 120.0h0M415.1 120.0h0M420.6 120.0h0M426.1 120.0h0M431.6 120.0h0M437.1 120.0h0M442.6 120.0h0M448.1 120.0h0M453.6 120.0h0M459.1 120.0h0M464.6 120.0h0M470.1 120.0h0M475.6 120.0h0M481.1 120.0h0M486.6 120.0h0M54.9 125.5h0M60.4 125.5h0M65.9 125.5h0M71.4 125.5h0M76.9 125.5h0M82.4 125.5h0M87.9 125.5h0M93.4 125.5h0M98.9 125.5h0M104.4 125.5h0M109.9 125.5h0M115.4 125.5h0M120.9 125.5h0M126.4 125.5h0M131.9 125.5h0M137.4 125.5h0M142.9 125.5h0M148.4 125.5h0M153.9 125.5h0M159.4 125.5h0M164.9 125.5h0M170.4 125.5h0M175.9 125.5h0M181.4 125.5h0M186.9 125.5h0M192.4 125.5h0M197.9 125.5h0M203.4 125.5h0M208.9 125.5h0M214.4 125.5h0M219.9 125.5h0M225.4 125.5h0M230.9 125.5h0M236.4 125.5h0M241.9 125.5h0M247.4 125.5h0M252.9 125.5h0M258.4 125.5h0M263.9 125.5h0M269.4 125.5h0M274.9 125.5h0M280.4 125.5h0M285.9 125.5h0M291.4 125.5h0M296.9 125.5h0M302.4 125.5h0M307.9 125.5h0M313.4 125.5h0M318.9 125.5h0M324.4 125.5h0M329.9 125.5h0M335.4 125.5h0M340.9 125.5h0M346.4 125.5h0M351.9 125.5h0M357.4 125.5h0M362.9 125.5h0M368.4 125.5h0M373.9 125.5h0M379.4 125.5h0M384.9 125.5h0M390.4 125.5h0M395.9 125.5h0M401.4 125.5h0M406.9 125.5h0M412.4 125.5h0M417.9 125.5h0M423.4 125.5h0M428.9 125.5h0M434.4 125.5h0M439.9 125.5h0M445.4 125.5h0M450.9 125.5h0M456.4 125.5h0M461.9 125.5h0M467.4 125.5h0M472.9 125.5h0M478.4 125.5h0M483.9 125.5h0M52.2 130.9h0M57.7 130.9h0M63.2 130.9h0M68.7 130.9h0M74.2 130.9h0M79.7 130.9h0M85.2 130.9h0M90.7 130.9h0M96.2 130.9h0M101.7 130.9h0M107.2 130.9h0M112.7 130.9h0M118.2 130.9h0M123.7 130.9h0M129.2 130.9h0M134.7 130.9h0M140.2 130.9h0M145.7 130.9h0M151.2 130.9h0M156.7 130.9h0M162.2 130.9h0M167.7 130.9h0M173.2 130.9h0M178.7 130.9h0M184.2 130.9h0M189.7 130.9h0M195.2 130.9h0M200.7 130.9h0M206.2 130.9h0M211.7 130.9h0M217.2 130.9h0M222.7 130.9h0M228.2 130.9h0M233.7 130.9h0M239.2 130.9h0M244.7 130.9h0M250.2 130.9h0M255.7 130.9h0M261.1 130.9h0M266.6 130.9h0M272.1 130.9h0M277.6 130.9h0M283.1 130.9h0M288.6 130.9h0M294.1 130.9h0M299.6 130.9h0M305.1 130.9h0M310.6 130.9h0M316.1 130.9h0M321.6 130.9h0M327.1 130.9h0M332.6 130.9h0M338.1 130.9h0M343.6 130.9h0M349.1 130.9h0M354.6 130.9h0M360.1 130.9h0M365.6 130.9h0M371.1 130.9h0M376.6 130.9h0M382.1 130.9h0M387.6 130.9h0M393.1 130.9h0M398.6 130.9h0M404.1 130.9h0M409.6 130.9h0M415.1 130.9h0M420.6 130.9h0M426.1 130.9h0M431.6 130.9h0M437.1 130.9h0M442.6 130.9h0M448.1 130.9h0M453.6 130.9h0M459.1 130.9h0M464.6 130.9h0M470.1 130.9h0M475.6 130.9h0M481.1 130.9h0M486.6 130.9h0M54.9 136.4h0M60.4 136.4h0M65.9 136.4h0M71.4 136.4h0M76.9 136.4h0M82.4 136.4h0M87.9 136.4h0M93.4 136.4h0M98.9 136.4h0M104.4 136.4h0M109.9 136.4h0M115.4 136.4h0M120.9 136.4h0M126.4 136.4h0M131.9 136.4h0M137.4 136.4h0M142.9 136.4h0M148.4 136.4h0M153.9 136.4h0M159.4 136.4h0M164.9 136.4h0M170.4 136.4h0M175.9 136.4h0M181.4 136.4h0M186.9 136.4h0M192.4 136.4h0M197.9 136.4h0M203.4 136.4h0M208.9 136.4h0M214.4 136.4h0M219.9 136.4h0M225.4 136.4h0M230.9 136.4h0M236.4 136.4h0M241.9 136.4h0M247.4 136.4h0M252.9 136.4h0M258.4 136.4h0M263.9 136.4h0M269.4 136.4h0M274.9 136.4h0M280.4 136.4h0M285.9 136.4h0M291.4 136.4h0M296.9 136.4h0M302.4 136.4h0M307.9 136.4h0M313.4 136.4h0M318.9 136.4h0M324.4 136.4h0M329.9 136.4h0M335.4 136.4h0M340.9 136.4h0M346.4 136.4h0M351.9 136.4h0M357.4 136.4h0M362.9 136.4h0M368.4 136.4h0M373.9 136.4h0M379.4 136.4h0M384.9 136.4h0M390.4 136.4h0M395.9 136.4h0M401.4 136.4h0M406.9 136.4h0M412.4 136.4h0M417.9 136.4h0M423.4 136.4h0M428.9 136.4h0M434.4 136.4h0M439.9 136.4h0M445.4 136.4h0M450.9 136.4h0M456.4 136.4h0M461.9 136.4h0M467.4 136.4h0M472.9 136.4h0M478.4 136.4h0M483.9 136.4h0M52.2 141.9h0M57.7 141.9h0M63.2 141.9h0M68.7 141.9h0M74.2 141.9h0M79.7 141.9h0M85.2 141.9h0M90.7 141.9h0M96.2 141.9h0M101.7 141.9h0M107.2 141.9h0M112.7 141.9h0M118.2 141.9h0M123.7 141.9h0M129.2 141.9h0M134.7 141.9h0M140.2 141.9h0M145.7 141.9h0M151.2 141.9h0M156.7 141.9h0M162.2 141.9h0M167.7 141.9h0M173.2 141.9h0M178.7 141.9h0M184.2 141.9h0M189.7 141.9h0M195.2 141.9h0M200.7 141.9h0M206.2 141.9h0M211.7 141.9h0M217.2 141.9h0M222.7 141.9h0M228.2 141.9h0M233.7 141.9h0M239.2 141.9h0M244.7 141.9h0M250.2 141.9h0M255.7 141.9h0M261.1 141.9h0M266.6 141.9h0M272.1 141.9h0M277.6 141.9h0M283.1 141.9h0M288.6 141.9h0M294.1 141.9h0M299.6 141.9h0M305.1 141.9h0M310.6 141.9h0M316.1 141.9h0M321.6 141.9h0M327.1 141.9h0M332.6 141.9h0M338.1 141.9h0M343.6 141.9h0M349.1 141.9h0M354.6 141.9h0M360.1 141.9h0M365.6 141.9h0M371.1 141.9h0M376.6 141.9h0M382.1 141.9h0M387.6 141.9h0M393.1 141.9h0M398.6 141.9h0M404.1 141.9h0M409.6 141.9h0M415.1 141.9h0M420.6 141.9h0M426.1 141.9h0M431.6 141.9h0M437.1 141.9h0M442.6 141.9h0M448.1 141.9h0M453.6 141.9h0M459.1 141.9h0M464.6 141.9h0M470.1 141.9h0M475.6 141.9h0M481.1 141.9h0M486.6 141.9h0M54.9 147.3h0M60.4 147.3h0M65.9 147.3h0M82.4 147.3h0M87.9 147.3h0M93.4 147.3h0M98.9 147.3h0M104.4 147.3h0M109.9 147.3h0M115.4 147.3h0M120.9 147.3h0M126.4 147.3h0M131.9 147.3h0M137.4 147.3h0M142.9 147.3h0M148.4 147.3h0M153.9 147.3h0M159.4 147.3h0M164.9 147.3h0M170.4 147.3h0M175.9 147.3h0M181.4 147.3h0M186.9 147.3h0M192.4 147.3h0M197.9 147.3h0M203.4 147.3h0M208.9 147.3h0M214.4 147.3h0M219.9 147.3h0M225.4 147.3h0M230.9 147.3h0M236.4 147.3h0M241.9 147.3h0M247.4 147.3h0M252.9 147.3h0M258.4 147.3h0M263.9 147.3h0M269.4 147.3h0M274.9 147.3h0M280.4 147.3h0M285.9 147.3h0M291.4 147.3h0M296.9 147.3h0M302.4 147.3h0M307.9 147.3h0M313.4 147.3h0M318.9 147.3h0M324.4 147.3h0M329.9 147.3h0M335.4 147.3h0M340.9 147.3h0M346.4 147.3h0M351.9 147.3h0M357.4 147.3h0M362.9 147.3h0M368.4 147.3h0M373.9 147.3h0M379.4 147.3h0M384.9 147.3h0M390.4 147.3h0M395.9 147.3h0M401.4 147.3h0M406.9 147.3h0M412.4 147.3h0M417.9 147.3h0M423.4 147.3h0M428.9 147.3h0M434.4 147.3h0M439.9 147.3h0M445.4 147.3h0M450.9 147.3h0M456.4 147.3h0M461.9 147.3h0M467.4 147.3h0M472.9 147.3h0M478.4 147.3h0M483.9 147.3h0M52.2 152.8h0M57.7 152.8h0M63.2 152.8h0M68.7 152.8h0M74.2 152.8h0M79.7 152.8h0M85.2 152.8h0M90.7 152.8h0M96.2 152.8h0M101.7 152.8h0M107.2 152.8h0M112.7 152.8h0M118.2 152.8h0M123.7 152.8h0M129.2 152.8h0M134.7 152.8h0M140.2 152.8h0M145.7 152.8h0M151.2 152.8h0M156.7 152.8h0M162.2 152.8h0M167.7 152.8h0M173.2 152.8h0M178.7 152.8h0M184.2 152.8h0M189.7 152.8h0M195.2 152.8h0M200.7 152.8h0M206.2 152.8h0M211.7 152.8h0M217.2 152.8h0M222.7 152.8h0M228.2 152.8h0M233.7 152.8h0M239.2 152.8h0M244.7 152.8h0M250.2 152.8h0M255.7 152.8h0M261.1 152.8h0M266.6 152.8h0M272.1 152.8h0M277.6 152.8h0M283.1 152.8h0M288.6 152.8h0M294.1 152.8h0M299.6 152.8h0M305.1 152.8h0M310.6 152.8h0M316.1 152.8h0M321.6 152.8h0M327.1 152.8h0M332.6 152.8h0M338.1 152.8h0M343.6 152.8h0M349.1 152.8h0M354.6 152.8h0M360.1 152.8h0M365.6 152.8h0M371.1 152.8h0M376.6 152.8h0M382.1 152.8h0M387.6 152.8h0M393.1 152.8h0M398.6 152.8h0M404.1 152.8h0M409.6 152.8h0M415.1 152.8h0M420.6 152.8h0M426.1 152.8h0M431.6 152.8h0M437.1 152.8h0M442.6 152.8h0M448.1 152.8h0M453.6 152.8h0M459.1 152.8h0M464.6 152.8h0M470.1 152.8h0M475.6 152.8h0M481.1 152.8h0M486.6 152.8h0M54.9 158.3h0M60.4 158.3h0M65.9 158.3h0M71.4 158.3h0M76.9 158.3h0M82.4 158.3h0M87.9 158.3h0M93.4 158.3h0M98.9 158.3h0M104.4 158.3h0M109.9 158.3h0M115.4 158.3h0M131.9 158.3h0M137.4 158.3h0M142.9 158.3h0M148.4 158.3h0M153.9 158.3h0M159.4 158.3h0M164.9 158.3h0M170.4 158.3h0M175.9 158.3h0M181.4 158.3h0M186.9 158.3h0M192.4 158.3h0M197.9 158.3h0M203.4 158.3h0M208.9 158.3h0M214.4 158.3h0M219.9 158.3h0M225.4 158.3h0M230.9 158.3h0M236.4 158.3h0M324.4 158.3h0M329.9 158.3h0M335.4 158.3h0M340.9 158.3h0M346.4 158.3h0M351.9 158.3h0M357.4 158.3h0M362.9 158.3h0M368.4 158.3h0M373.9 158.3h0M379.4 158.3h0M384.9 158.3h0M390.4 158.3h0M395.9 158.3h0M401.4 158.3h0M406.9 158.3h0M412.4 158.3h0M417.9 158.3h0M423.4 158.3h0M428.9 158.3h0M434.4 158.3h0M439.9 158.3h0M445.4 158.3h0M450.9 158.3h0M456.4 158.3h0M461.9 158.3h0M467.4 158.3h0M472.9 158.3h0M478.4 158.3h0M483.9 158.3h0M52.2 163.8h0M57.7 163.8h0M63.2 163.8h0M68.7 163.8h0M74.2 163.8h0M79.7 163.8h0M85.2 163.8h0M90.7 163.8h0M96.2 163.8h0M101.7 163.8h0M107.2 163.8h0M112.7 163.8h0M129.2 163.8h0M134.7 163.8h0M140.2 163.8h0M145.7 163.8h0M151.2 163.8h0M156.7 163.8h0M162.2 163.8h0M167.7 163.8h0M173.2 163.8h0M178.7 163.8h0M184.2 163.8h0M206.2 163.8h0M360.1 163.8h0M365.6 163.8h0M371.1 163.8h0M376.6 163.8h0M382.1 163.8h0M387.6 163.8h0M393.1 163.8h0M398.6 163.8h0M404.1 163.8h0M409.6 163.8h0M415.1 163.8h0M420.6 163.8h0M426.1 163.8h0M431.6 163.8h0M437.1 163.8h0M442.6 163.8h0M448.1 163.8h0M453.6 163.8h0M459.1 163.8h0M464.6 163.8h0M470.1 163.8h0M475.6 163.8h0M481.1 163.8h0M486.6 163.8h0M54.9 169.2h0M60.4 169.2h0M65.9 169.2h0M71.4 169.2h0M76.9 169.2h0M82.4 169.2h0M87.9 169.2h0M93.4 169.2h0M98.9 169.2h0M104.4 169.2h0M109.9 169.2h0M115.4 169.2h0M120.9 169.2h0M126.4 169.2h0M131.9 169.2h0M137.4 169.2h0M142.9 169.2h0M148.4 169.2h0M153.9 169.2h0M368.4 169.2h0M373.9 169.2h0M379.4 169.2h0M384.9 169.2h0M390.4 169.2h0M395.9 169.2h0M401.4 169.2h0M406.9 169.2h0M412.4 169.2h0M417.9 169.2h0M423.4 169.2h0M428.9 169.2h0M434.4 169.2h0M439.9 169.2h0M445.4 169.2h0M450.9 169.2h0M456.4 169.2h0M461.9 169.2h0M467.4 169.2h0M472.9 169.2h0M478.4 169.2h0M483.9 169.2h0M52.2 174.7h0M57.7 174.7h0M63.2 174.7h0M68.7 174.7h0M74.2 174.7h0M79.7 174.7h0M85.2 174.7h0M90.7 174.7h0M96.2 174.7h0M101.7 174.7h0M107.2 174.7h0M112.7 174.7h0M118.2 174.7h0M123.7 174.7h0M129.2 174.7h0M134.7 174.7h0M140.2 174.7h0M145.7 174.7h0M151.2 174.7h0M398.6 174.7h0M404.1 174.7h0M409.6 174.7h0M415.1 174.7h0M420.6 174.7h0M426.1 174.7h0M431.6 174.7h0M437.1 174.7h0M459.1 174.7h0M464.6 174.7h0M470.1 174.7h0M475.6 174.7h0M481.1 174.7h0M486.6 174.7h0M54.9 180.2h0M60.4 180.2h0M65.9 180.2h0M71.4 180.2h0M76.9 180.2h0M82.4 180.2h0M87.9 180.2h0M93.4 180.2h0M98.9 180.2h0M104.4 180.2h0M109.9 180.2h0M115.4 180.2h0M120.9 180.2h0M126.4 180.2h0M131.9 180.2h0M137.4 180.2h0M142.9 180.2h0M148.4 180.2h0M153.9 180.2h0M159.4 180.2h0M461.9 180.2h0M467.4 180.2h0M472.9 180.2h0M478.4 180.2h0M483.9 180.2h0M68.7 185.6h0M74.2 185.6h0M79.7 185.6h0M85.2 185.6h0M90.7 185.6h0M96.2 185.6h0M101.7 185.6h0M107.2 185.6h0M112.7 185.6h0M118.2 185.6h0M123.7 185.6h0M129.2 185.6h0M134.7 185.6h0M140.2 185.6h0M145.7 185.6h0M151.2 185.6h0M156.7 185.6h0M162.2 185.6h0M167.7 185.6h0M481.1 185.6h0M486.6 185.6h0M302.4 191.1h0M307.9 191.1h0" stroke="#000" stroke-width="2.5" stroke-linecap="round"/>
<path d="M126.3 93.9 123.5 93.6 121.1 94.1 117.7 93.5 115.0 92.2 112.5 92.0 111.3 93.0 110.8 94.9 108.9 94.7 106.0 93.5 105.5 92.6 102.8 91.8 100.6 91.4 99.3 90.2 100.4 88.4 99.8 87.0 100.5 86.5 98.9 86.3 96.7 86.8 93.1 86.9 90.7 86.9 88.2 87.3 85.8 88.4 84.3 89.0 81.5 88.9 79.8 88.2 79.1 89.8 77.8 90.9 75.7 92.3 75.1 94.7 75.3 95.6 73.6 97.7 71.2 98.4 69.4 100.4 67.7 103.1 66.3 106.4 67.2 108.8 67.0 112.0 66.6 113.7 65.7 114.9 66.6 116.8 66.7 117.8 68.3 119.1 69.7 120.8 70.9 122.2 71.9 124.1 73.4 125.0 75.4 126.7 77.9 127.9 80.3 127.2 82.7 127.0 84.6 127.5 87.0 126.4 89.2 125.6 91.3 125.4 92.8 125.8 94.2 128.1 95.5 127.9 97.3 127.7 98.6 128.6 98.9 130.6 98.6 132.2 98.2 134.1 98.8 136.0 100.5 138.4 101.6 139.8 102.0 141.2 102.8 143.5 103.3 145.5 103.8 147.4 103.5 148.8 102.1 151.1 101.4 153.8 101.4 155.4 102.6 158.2 103.9 161.0 104.6 162.5 105.1 165.8 105.6 167.7 107.1 169.7 108.2 171.9 109.1 173.7 109.4 175.8 109.5 176.7 110.8 177.6 111.9 177.2 114.4 176.6 117.2 176.8 119.2 176.3 121.1 174.9 122.9 173.0 124.5 171.2 125.9 169.9 126.7 167.7 127.0 166.4 127.8 165.7 129.6 164.7 130.2 163.3 130.1 161.4 129.3 159.1 131.2 157.4 132.6 155.7 135.2 154.3 136.4 152.5 136.3 149.3 136.2 146.7 134.9 143.6 134.7 141.7 134.2 139.8 135.2 138.8 135.9 136.9 137.5 135.7 138.8 134.1 140.5 132.2 142.4 130.8 143.9 129.2 145.4 127.4 146.6 125.3 147.8 123.0 148.8 121.5 149.3 120.2 149.4 118.6 148.4 118.4 146.6 119.2 144.8 119.4 143.0 119.8 141.1 120.3 139.7 118.9 139.1 117.8 137.9 116.3 136.8 115.1 135.3 114.1 134.3 112.5 133.8 110.7 132.5 108.5 132.3 106.9 131.9 105.6 130.4 103.2 129.6 101.2 128.7 99.6 127.8 98.3 126.8 96.6 126.5 95.6M126.5 95.6 127.4 97.3 128.7 98.4 129.1 97.3 129.6 96.1 129.5 97.4 130.4 99.0 131.5 100.8 132.6 102.8 134.1 104.9 134.6 106.4 135.7 108.3 137.1 111.0 138.5 113.0 139.1 114.8 139.7 116.7 139.9 117.4 141.8 117.3 144.2 116.4 146.3 115.8 147.8 114.6 150.5 113.7 152.1 112.5 154.3 111.6 155.6 110.7 157.1 109.6 157.3 107.9 158.3 107.0 159.8 105.1 159.0 104.5 158.3 103.6 157.0 103.4 155.6 102.1 155.5 100.3 154.6 101.1 153.3 102.7 151.5 103.0 149.8 102.8 149.8 101.5 149.4 100.4 148.8 102.0 148.0 100.8 147.8 99.8 146.6 98.7 145.9 97.4 145.3 96.0 146.1 95.6 147.3 95.5 148.1 96.3 148.8 97.4 149.7 98.2 151.5 99.3 153.6 99.9 155.5 99.0 156.8 100.8 159.5 101.3 161.9 101.6 164.3 101.6 167.8 101.3 168.6 102.2 169.1 103.2 170.6 103.9 172.5 104.6 171.2 105.3 172.8 107.0 175.3 106.4 175.6 108.2 175.6 109.6 176.1 111.3 176.4 113.4 177.2 114.9 177.9 117.0 178.7 118.9 179.7 121.0 180.4 122.6 181.3 123.2 182.1 122.2 183.1 121.0 184.1 120.5 184.2 118.9 184.7 116.4 184.6 114.5 185.3 113.5 187.0 112.5 188.5 111.2 190.2 109.2 192.2 107.9 192.8 106.3 194.3 106.0 195.3 105.8 197.1 105.6 198.7 105.4 198.9 106.6 199.4 107.4 200.5 108.4 201.6 109.9 202.0 112.0 201.7 113.2 202.9 113.5 204.4 112.6 205.7 112.6 205.9 114.5 206.5 116.4 206.8 118.3 207.0 120.2 206.6 122.1 206.6 123.6 207.8 124.9 209.0 126.5 209.3 128.4 210.2 130.0 212.0 131.2 212.9 131.9 213.8 131.7 212.9 130.0 212.8 128.4 212.2 126.4 211.2 125.6 210.2 124.8 209.2 124.1 208.7 122.7 207.7 121.7 207.7 120.2 208.1 118.9 208.5 117.3 208.8 116.5 209.8 116.5 209.8 117.4 210.7 117.5 211.8 118.2 212.3 119.6 213.0 120.2 214.0 120.3 214.5 121.3 214.5 122.6 215.0 122.5 216.5 121.5 216.8 120.3 218.0 120.1 219.5 119.2 219.9 118.3 220.0 116.4 219.5 114.2 218.8 113.1 217.4 112.0 216.6 111.0 215.6 109.4 216.0 108.3 216.8 107.3 218.3 106.3 219.0 106.0 220.3 106.3 220.7 107.8 221.4 107.2 222.8 106.1 224.5 105.6 225.5 105.3 226.1 105.1 227.9 104.6 229.0 104.0 230.3 103.1 231.4 102.3 232.5 101.1 232.5 99.6 233.5 98.7 234.2 97.4 235.1 96.4 235.3 95.5 234.5 94.6 235.3 94.1 234.2 92.6 233.7 91.3 233.1 90.1 232.0 89.4 232.6 88.5 233.7 87.8 234.8 86.9 236.0 86.6 235.6 86.0 233.9 85.6 232.1 86.5 231.7 85.9 230.6 85.2 230.0 84.5 230.4 83.8 231.7 84.0 232.5 83.0 233.7 82.3 234.9 81.7 235.7 82.3 234.7 83.5 234.6 84.2 235.2 84.1 236.3 83.3 237.4 83.1 238.2 83.0 239.0 83.3 239.4 84.1 239.2 85.0 239.9 85.6 240.5 85.7 241.0 86.6 240.5 87.3 240.9 88.4 240.7 89.7 242.0 89.7 243.3 89.2 244.2 88.9 244.6 87.9 244.4 86.6 243.8 85.9 243.1 84.7 242.2 83.7 242.6 83.0 243.5 82.5 244.8 81.7 244.8 80.8 245.8 79.9 246.6 79.3 248.0 78.7 249.4 79.3 251.2 78.4 253.1 77.0 254.8 75.5 255.5 74.0 256.7 72.4 257.7 71.2 257.9 69.5 257.9 67.9 259.0 66.5 258.5 65.4 257.1 64.8 255.1 65.4 253.9 65.0 254.5 64.1 251.9 64.2 253.6 62.7 255.1 61.9 257.2 60.5 259.0 59.3 260.5 58.4 263.4 58.3 265.1 58.3 267.6 58.4 269.7 58.0 271.9 58.8 274.6 58.5 275.6 57.5 277.4 55.9 279.8 55.2 281.7 55.0 282.3 56.2 281.1 56.9 279.2 60.0 277.7 61.3 276.9 62.8 276.3 64.5 277.3 67.3 277.7 68.9 279.2 67.9 280.1 66.5 281.5 66.1 281.7 64.8 283.9 63.6 284.2 62.4 285.7 62.2 284.3 60.3 285.7 59.0 287.8 57.6 289.3 57.8 291.4 56.9 294.2 57.5 295.7 56.9 297.5 55.7 299.4 55.1 301.7 54.3 304.7 54.0 305.1 52.8 303.8 52.1 305.4 51.7 307.2 51.2 309.6 50.7 312.1 51.8 314.5 52.1 316.3 51.4 315.1 50.4 317.9 50.0 318.5 49.8 316.3 48.9 313.3 48.5 310.9 46.4 307.8 45.7 305.4 46.1 301.1 45.1 297.5 45.0 294.2 44.7 290.8 45.3 286.5 45.2 282.9 45.3 281.7 43.8 278.0 43.6 273.1 43.7 269.7 42.8 265.9 41.9 261.0 41.4 257.3 41.8 254.9 42.8 251.2 42.9 248.2 42.6 245.2 43.7 243.3 42.9 244.6 41.7 242.7 40.9 240.9 40.4 237.3 40.3 234.2 41.2 230.6 40.3 225.7 40.3 223.9 39.5 222.1 39.8 220.8 38.8 223.9 37.5 225.5 36.9 222.1 36.3 217.2 36.1 213.9 35.1 210.5 36.5 207.4 36.7 205.0 37.4 201.4 37.4 197.7 38.5 194.1 38.2 192.2 39.0 192.8 39.9 191.0 40.4 186.8 40.1 184.9 40.4 184.9 42.0 187.0 42.4 184.3 41.9 182.1 41.9 181.3 42.4 179.2 41.8 178.9 43.6 177.6 45.5 176.4 46.6 177.0 48.0 175.2 49.5 174.6 48.6 174.0 46.7 175.9 46.1 175.2 44.5 175.6 43.2 174.4 42.4 175.5 41.3 172.8 40.7 170.9 41.7 169.1 42.9 168.3 44.1 168.9 45.5 167.8 46.4 165.5 45.8 161.1 45.0 159.5 46.6 157.0 46.6 153.9 47.0 152.3 46.2 152.1 47.1 147.8 47.7 145.4 47.7 143.0 47.4 140.5 46.7 139.7 46.6 140.8 48.1 140.3 49.6 138.2 49.3 136.3 49.8 135.4 51.0 132.0 52.6 130.2 51.8 129.3 50.0 127.4 49.1 129.6 48.8 134.4 48.9 136.9 48.3 135.9 47.5 133.2 47.0 130.2 45.8 127.1 45.6 124.7 45.1 121.7 43.9 118.5 43.4 115.6 44.1 112.5 44.6 109.5 45.0 107.1 46.1 105.2 47.2 103.4 48.6 102.2 50.2 101.0 51.4 99.2 52.6 97.3 53.3 94.9 54.2 93.1 55.2 93.2 56.9 93.4 58.4 93.8 59.0 94.9 59.9 96.6 60.0 98.6 58.9 99.8 58.1 100.1 58.9 100.9 59.4 101.4 60.4 102.1 61.8 102.6 63.1 104.4 63.1 105.0 62.3 106.5 62.2 107.2 61.2 107.4 59.5 108.9 58.8 110.0 57.6 108.3 56.7 108.0 55.2 108.8 54.1 110.7 52.9 112.5 51.8 113.2 50.7 114.1 50.2 116.4 50.2 117.9 51.2 117.7 51.8 115.6 52.7 113.8 53.7 112.9 55.0 113.2 56.4 114.4 57.1 115.6 57.6 118.6 57.0 121.1 56.9 123.3 57.2 122.5 57.8 121.1 58.1 119.2 58.1 116.2 58.4 115.6 58.9 116.4 59.7 116.6 60.8 116.0 61.3 114.4 60.5 113.0 61.2 112.5 62.3 112.8 63.5 112.1 64.0 110.8 64.6 109.6 64.3 107.7 64.1 105.9 64.8 104.3 65.2 102.8 64.6 101.0 64.8 100.3 65.1 100.3 63.8 99.2 63.2 99.7 62.2 99.9 60.5 98.9 60.9 97.5 61.2 96.9 61.9 97.0 63.2 97.5 64.0 98.0 65.1 97.6 65.5 96.7 65.6 95.5 65.9 94.3 65.9 93.1 66.1 92.6 67.0 91.9 67.8 91.0 68.4 90.0 68.8 88.9 69.0 88.8 69.9 87.2 70.5 86.4 71.1 85.4 70.9 84.7 70.5 85.1 71.8 83.3 71.7 81.3 72.1 81.8 73.0 83.6 73.3 84.3 73.8 85.1 74.9 85.5 75.7 85.4 77.4 85.1 78.5 84.0 78.5 82.1 78.4 79.7 78.3 77.3 78.1 75.7 78.8 76.0 80.3 76.3 81.6 76.0 82.8 75.4 84.4 76.2 84.7 76.3 86.0 76.0 86.6 77.9 86.5 79.2 86.9 79.7 87.6 80.4 87.9 81.5 87.1 83.5 87.0 84.4 86.9 85.2 86.1 86.1 85.9 87.2 84.5 86.6 83.6 87.0 82.8 88.0 81.8 89.7 81.2 90.9 80.4 90.8 79.0 91.9 78.4 93.3 78.7 94.9 78.9 96.1 78.0 97.7 77.3 99.2 77.8 99.8 79.0 100.6 79.8 102.1 80.8 103.4 81.3 104.0 81.8 105.2 82.6 106.1 83.0 106.6 84.4 106.1 85.4 106.6 85.4 107.2 84.6 107.9 83.8 107.2 82.6 107.9 82.2 109.4 82.7 108.9 81.9 107.6 81.3 106.2 80.6 104.6 79.9 103.5 78.4 102.1 77.4 102.0 76.1 103.4 75.6 103.8 76.4 104.6 76.2 105.5 77.4 106.5 78.4 108.3 79.0 109.5 79.8 110.6 80.6 110.5 81.9 111.2 83.1 112.2 84.1 112.7 85.0 113.3 86.5 114.4 87.4 115.1 87.1 114.7 85.9 115.6 85.4 116.2 85.0 115.0 84.0 114.5 82.8 115.5 82.5 116.6 81.8 118.6 81.8 118.9 82.5 119.4 83.5 119.6 84.5 120.1 85.6 120.5 86.6 121.4 86.9 122.9 87.5 124.2 86.9 125.7 87.1 126.9 87.9 128.4 87.5 129.3 86.9 130.7 87.1 130.6 88.4 130.7 89.3 130.2 90.6 129.7 91.6 129.5 92.5 129.0 93.5 127.8 94.0 126.3 93.9M121.1 80.6 121.8 78.4 121.8 77.4 123.0 76.2 124.4 74.7 125.7 74.6 127.9 75.1 126.7 76.0 127.8 77.1 129.8 76.8 131.4 76.2 133.2 74.0 134.7 73.7 133.5 74.7 132.7 75.9 133.6 77.0 135.2 78.4 137.5 80.3 137.5 80.9 135.7 81.7 133.5 81.7 131.8 81.1 129.8 80.3 127.4 80.3 125.1 81.3 122.5 81.3 121.1 80.6M146.6 74.6 149.3 74.0 151.7 74.3 151.5 76.1 149.4 77.1 149.4 78.9 151.1 79.7 151.2 81.3 152.7 81.8 152.5 83.5 152.6 86.3 149.7 86.9 146.7 85.9 146.5 84.9 147.1 82.7 148.2 82.5 146.7 81.2 144.8 79.2 144.8 77.9 143.8 77.1 144.5 75.7 146.6 74.6M80.9 70.2 83.3 69.4 85.8 69.3 88.6 68.8 89.1 66.9 87.4 65.9 86.4 64.5 85.2 63.3 84.6 62.6 84.0 61.9 84.8 60.7 83.3 59.3 80.9 59.3 80.1 60.7 80.3 62.2 79.5 62.6 81.0 63.7 83.0 64.1 82.7 64.8 83.3 65.9 81.4 66.0 82.0 66.6 80.7 67.9 83.1 68.4 81.5 68.8 80.9 70.2M79.7 67.4 79.5 65.2 80.3 64.3 79.3 63.6 78.0 63.5 76.7 64.0 76.7 64.8 74.8 64.8 75.4 66.0 74.5 67.6 76.0 68.1 77.3 67.9 79.7 67.4M60.2 52.6 63.9 53.2 67.5 52.4 70.0 51.8 70.5 50.5 68.8 49.6 66.3 49.8 62.7 49.9 59.6 49.4 57.8 50.5 60.2 51.4 57.8 51.4 60.2 52.6M101.0 33.9 104.6 32.4 108.9 31.9 113.8 32.3 119.8 32.2 115.0 33.9 112.5 34.4 113.8 35.5 107.7 36.5 105.2 35.6 103.4 34.7 101.0 33.9M150.3 42.9 153.9 40.4 155.7 38.5 158.8 37.2 164.9 36.5 170.3 36.0 167.3 37.6 161.2 38.8 157.6 41.0 155.1 42.9 154.5 44.1 151.5 43.8 150.3 42.9M202.6 33.4 206.2 31.3 211.1 32.8 214.8 33.9 209.9 34.1 203.8 34.7 202.6 33.4M145.4 31.8 150.3 30.9 156.3 30.3 162.4 31.0 157.6 31.9 150.3 32.2 145.4 31.8M252.5 37.9 257.3 37.1 263.4 37.9 259.8 39.8 254.9 39.1 252.5 37.9M304.2 43.3 307.2 42.9 310.3 43.3 307.2 43.8 304.2 43.3M259.8 75.2 261.6 74.5 261.0 71.4 262.6 71.3 261.2 68.9 261.3 66.4 260.6 64.6 260.1 65.7 259.5 67.6 259.9 71.4 259.6 73.3 259.8 75.2M257.3 80.9 258.8 80.6 259.5 79.5 261.3 80.3 264.0 78.7 263.2 77.8 261.0 77.1 259.5 76.0 259.2 78.0 257.8 78.7 257.3 80.0 257.3 80.9M246.3 90.4 247.5 89.7 248.8 88.5 250.6 88.4 252.5 88.2 253.1 86.6 254.0 86.0 255.5 85.6 256.8 84.7 257.3 82.8 257.2 81.8 258.1 81.3 259.2 81.2 259.5 82.8 259.6 84.1 258.5 85.1 258.4 86.6 258.2 87.9 257.6 89.0 256.1 89.3 255.5 89.7 253.7 89.7 253.4 90.6 252.1 91.1 251.4 90.1 250.0 89.7 248.2 90.1 246.7 90.6 246.3 90.4M244.7 91.2 246.3 90.6 247.2 91.4 246.9 93.7 245.9 94.2 245.4 93.6 244.9 92.1 244.7 91.2M248.2 91.3 249.4 90.1 250.9 90.3 250.3 91.4 248.8 92.1 248.2 91.3M233.1 104.4 233.9 105.6 234.8 104.6 235.3 102.3 234.8 101.5 233.6 102.5 233.1 104.4M219.1 109.2 220.3 110.4 221.6 110.1 222.1 108.5 221.1 108.0 219.3 108.5 219.1 109.2M233.7 110.1 235.7 110.1 235.4 112.0 234.8 113.9 235.1 115.5 236.7 115.9 238.0 117.5 236.8 117.0 235.2 116.0 233.7 115.4 233.0 114.5 232.8 112.6 233.7 110.1M235.4 124.6 237.4 123.6 238.2 122.6 239.7 121.5 241.0 124.3 240.3 125.5 239.6 126.4 237.9 124.9 235.4 124.6M235.4 119.8 236.7 118.9 238.5 117.7 239.7 119.6 239.1 120.8 237.3 121.5 236.0 121.1 235.4 119.8M229.6 122.9 231.3 121.2 232.5 119.2 232.0 120.8 230.4 122.6 229.6 122.9M219.6 131.6 220.3 131.0 222.1 131.2 224.5 129.4 226.3 127.8 228.1 125.9 229.3 124.6 230.1 125.6 232.0 126.7 230.6 127.8 230.1 129.1 230.6 131.0 231.7 132.2 230.3 132.5 230.0 134.1 228.7 135.4 228.4 137.9 226.3 138.6 224.5 137.6 223.0 137.9 221.1 137.2 220.8 135.4 219.6 133.5 219.6 131.6M202.9 126.4 205.6 126.9 207.1 128.7 209.0 130.7 210.5 131.2 212.3 132.9 213.3 134.8 214.8 136.3 216.0 137.3 215.7 140.8 214.3 141.0 212.3 139.2 210.6 137.6 209.2 135.0 207.7 133.2 206.8 131.3 205.3 129.8 203.8 128.1 202.9 126.4M215.0 142.1 216.0 141.0 218.8 141.5 221.4 142.2 224.0 142.2 226.3 143.4 226.2 144.5 223.9 144.1 220.8 143.8 218.4 143.4 216.5 142.9 215.0 142.1M226.9 144.0 228.7 144.8 231.8 144.4 234.2 144.4 236.7 144.1 239.1 144.0 241.5 144.0 239.1 145.5 237.3 146.5 234.2 145.9 231.8 145.5 228.7 144.8M232.4 140.5 232.8 137.9 231.8 137.2 232.8 133.5 233.6 132.5 236.7 132.4 238.6 131.6 239.1 132.0 237.3 133.1 234.2 132.9 234.6 134.5 237.0 134.6 236.0 136.0 235.8 139.2 234.6 139.6 234.1 137.0 233.5 140.5 232.4 140.5M242.1 131.0 243.6 131.9 243.1 133.1 242.7 134.5 242.2 132.5 242.1 131.0M246.4 135.0 248.2 134.0 250.0 134.6 250.4 137.0 251.9 137.8 254.3 135.5 257.3 136.5 259.8 137.4 262.8 138.4 264.4 140.1 264.9 141.7 266.6 142.1 266.3 143.6 267.8 144.9 269.5 146.4 268.3 146.7 265.9 146.3 264.6 144.3 262.4 143.1 261.0 144.9 258.5 145.0 256.1 143.8 254.9 144.1 254.5 140.5 251.9 139.1 249.5 138.7 248.5 138.6 247.6 137.0 248.8 136.4 247.5 135.5 246.4 135.0M267.4 140.6 269.5 140.2 271.4 138.8 272.2 139.6 270.5 141.2 268.3 141.4 267.4 140.6M276.2 141.5 278.6 143.0 281.4 144.3 283.5 145.9 282.3 146.2 279.2 144.9 277.4 143.0 276.2 141.5M286.5 159.1 288.4 160.5 290.2 161.7 289.3 161.6 287.1 160.0 286.5 159.1M289.7 152.5 290.5 153.5 291.6 154.5 293.0 157.3 293.2 158.6M302.7 155.7 304.2 155.4 304.2 156.6 302.8 156.4 302.7 155.7 304.8 154.1 306.0 154.4 304.5 154.8M184.1 125.9 185.1 126.0 186.5 124.4 185.9 122.7 184.5 121.1 184.1 123.4 184.1 125.9M147.0 148.7 148.3 153.0 147.6 155.3 146.6 159.5 144.9 165.0 142.0 165.8 140.5 165.0 139.7 161.4 140.9 159.5 140.9 156.9 140.5 155.0 143.3 153.5 145.4 150.7 147.0 148.7M102.1 85.6 105.4 86.6 106.0 85.0 103.4 85.2 102.1 85.6M97.2 84.1 98.7 84.0 98.9 81.6 98.2 81.3 97.0 81.8 97.2 84.1M97.5 81.1 98.4 81.1 98.6 79.2 97.5 79.9 97.5 81.1M115.6 88.8 119.0 88.9 117.2 89.3 115.6 88.8M126.3 89.5 128.4 89.3 129.1 88.3 127.0 88.9 126.3 89.5M225.1 161.4 225.9 162.0 225.7 166.4 226.3 169.6 226.9 172.1 227.8 174.7 227.0 176.1 226.9 176.9 230.0 177.8 232.4 176.9 234.8 176.3 237.3 176.4 238.5 175.2 240.3 174.4 243.9 173.7 246.6 173.4 248.8 174.2 250.3 175.0 251.5 177.3 252.5 177.6 254.3 175.3 254.7 178.0 255.5 177.6 255.1 175.9 256.7 178.8 257.0 180.4 258.1 181.6 259.8 182.1 261.6 182.6 263.4 181.9 265.0 183.0 266.5 181.6 267.4 181.4 269.5 180.9 269.7 178.8 270.6 176.8 271.1 175.9 272.5 174.4 273.3 171.9 273.9 170.0 273.3 168.0 273.1 165.8 271.9 164.7 270.5 162.1 268.6 160.1 267.6 158.8 265.0 157.4 264.5 154.9 263.8 152.5 262.2 151.5 261.6 149.6 260.7 147.4 260.0 147.6 259.4 150.2 259.2 153.8 258.3 155.5 256.5 155.5 253.7 153.6 251.9 152.5 253.1 150.6 253.6 149.0 251.9 148.7 249.4 148.3 248.2 148.1 246.4 149.0 245.2 150.0 244.6 152.2 243.0 152.4 241.5 151.0 240.1 151.9 238.5 153.1 237.3 154.8 235.7 155.8 235.1 157.3 233.0 158.7 230.6 159.3 228.7 159.7 226.7 160.9 225.1 161.4M262.9 185.1 265.2 185.6 267.4 185.3 267.4 187.0 266.5 188.2 264.8 188.6 263.7 187.0 262.9 185.1M297.1 177.1 299.1 178.5 299.9 179.9 301.1 181.1 303.6 181.1 303.9 182.3 302.4 183.3 302.1 184.4 300.3 186.1 299.7 185.8 300.2 184.5 298.7 183.3 299.6 181.6 299.3 180.4 297.5 178.1 297.1 177.1M297.1 184.8 299.1 185.4 298.6 187.0 297.2 188.6 295.4 189.5 294.8 191.6 293.0 192.5 289.6 191.8 289.9 190.8 291.8 189.2 294.4 188.0 295.7 186.4 297.1 184.8M433.1 120.3 431.9 122.1 430.8 122.6 429.5 121.6 428.2 121.3 426.4 122.2 425.4 122.1 424.0 120.8 423.2 119.6 423.3 117.7 423.5 115.8 423.8 114.5 422.2 113.4 420.4 113.4 417.8 113.5 417.6 112.0 417.7 110.1 418.5 108.8 418.7 106.9 417.3 106.3 415.1 106.8 414.9 108.4 413.7 110.1 411.8 110.2 410.0 110.4 408.4 109.7 407.6 108.4 406.6 106.3 406.0 105.0 406.1 103.1 406.7 100.8 406.5 98.7 407.6 97.4 409.7 96.4 411.2 95.8 413.1 96.0 414.9 96.5 416.5 96.6 416.1 95.2 417.7 95.0 419.8 95.0 421.2 95.9 422.8 95.4 424.0 96.8 424.5 98.7 425.5 100.4 426.4 101.6 427.2 101.5 427.5 99.9 426.9 97.5 426.1 95.8 426.0 94.6 426.6 93.0 428.6 91.4 430.2 90.6 431.8 89.5 433.1 88.8 432.7 86.8 433.3 85.4 433.8 84.4 434.8 83.1 435.0 82.1 436.8 81.6 438.6 81.1 439.8 80.7 439.1 79.5 439.6 78.1 441.1 77.5 443.5 76.8 444.7 76.2 446.5 75.5 446.8 76.1 445.3 77.0 444.7 78.0 446.5 77.4 448.0 77.0 450.2 76.2 452.0 75.4 451.4 74.0 450.2 75.5 448.4 75.5 446.4 74.9 446.2 73.0 445.7 72.4 446.8 71.6 445.3 71.2 443.5 71.3 441.7 72.3 439.8 73.7 438.5 74.1 440.1 73.2 441.7 71.4 443.5 70.9 445.9 69.9 450.2 69.9 452.6 69.5 455.0 68.5 456.9 67.4 456.6 65.6 454.4 64.8 452.0 63.6 450.2 62.3 449.6 60.7 447.7 59.1 446.5 57.1 445.3 58.1 442.9 59.7 441.1 58.9 440.4 56.9 439.2 56.0 436.8 55.1 434.4 54.6 430.7 54.3 430.1 56.5 430.7 58.8 431.6 60.7 431.9 62.3 429.0 64.2 428.3 66.4 429.1 68.3 427.2 68.5 425.0 66.5 424.9 64.5 421.3 63.5 418.5 62.7 417.0 61.6 414.3 61.0 412.5 60.7 410.4 59.0 409.9 57.5 410.4 56.2 411.6 55.0 413.7 54.0 414.9 52.9 417.3 52.2 419.1 51.5 420.4 49.9 421.0 48.6 424.0 49.3 425.8 48.0 424.6 46.7 425.8 45.8 422.8 45.1 419.8 46.7 417.9 47.1 416.1 45.8 413.7 44.8 412.5 42.9 411.2 44.5 408.8 42.6 407.6 44.6 408.8 46.4 405.8 47.6 401.5 47.6 397.9 47.1 395.4 46.9 393.0 46.6 393.6 47.6 390.6 47.5 386.9 47.5 384.5 47.9 382.6 47.4 379.6 46.6 377.2 45.5 373.5 45.3 372.9 44.3 369.3 44.6 367.4 45.2 365.0 45.6 362.6 46.2 360.1 45.8 357.7 46.2 354.7 45.3 351.6 45.0 348.6 44.7 344.9 44.5 341.9 44.2 339.5 43.7 337.0 43.6 334.5 43.2 332.8 43.8 330.3 44.3 328.1 44.6 326.7 45.3 324.9 46.2 322.8 47.0 324.9 47.7 325.8 48.5 327.9 49.0 328.5 49.6 326.0 49.8 323.6 49.4 320.6 50.4 322.4 50.9 324.2 51.8 326.7 51.7 329.1 51.8 329.4 52.7 327.3 53.1 324.9 53.6 323.6 54.3 323.0 55.5 323.9 56.9 325.5 57.6 327.3 57.5 327.9 58.8 330.3 59.3 332.2 59.0 334.0 58.9 333.4 60.5 331.6 61.8 329.7 62.7 327.3 63.7 324.9 64.5 326.7 63.8 329.1 63.2 330.9 62.8 332.8 61.8 334.6 60.9 336.4 60.0 337.6 58.8 338.9 58.1 340.1 56.9 341.3 56.2 341.9 57.5 340.3 58.5 342.5 58.0 344.3 57.2 346.2 56.5 348.0 56.9 349.8 57.4 352.2 57.5 354.7 57.8 356.5 58.5 358.3 59.3 359.5 59.9 361.4 61.3 362.6 62.6 364.4 63.8 365.6 64.8 366.5 64.5 367.4 66.4 368.7 67.6 369.9 68.9 371.7 70.2 373.5 71.2 375.4 72.1 373.3 72.2 373.9 74.6 374.1 76.5 373.9 78.4 373.5 79.7 373.9 82.3 374.4 84.1 376.0 85.6 376.7 87.1 377.4 88.5 378.3 89.7 379.6 89.9 380.8 90.4 382.3 91.7 382.9 93.3 383.9 94.9 385.1 96.1 386.1 98.0 386.2 99.3 388.1 100.2 388.7 101.8 390.2 103.1 391.3 104.4 391.8 103.7 390.8 102.8 389.9 101.2 388.7 99.6 387.5 97.4 386.3 95.5 385.3 93.6 386.9 93.9 388.1 95.5 389.3 97.0 390.6 98.7 391.8 99.9 393.0 101.3 394.2 102.5 395.4 103.7 396.6 105.6 396.9 107.5 397.9 109.1 399.1 110.3 400.9 111.0 402.7 111.7 405.2 112.9 407.0 113.5 409.4 113.1 411.2 113.5 413.1 115.0 414.3 115.9 416.1 116.4 417.9 116.8 418.8 117.2 419.8 118.0 420.7 119.4 420.6 120.6 421.3 121.1 422.2 121.3 423.2 122.5 424.1 123.1 425.8 123.6 427.2 124.3 427.7 123.9 427.1 123.0 428.2 122.2 429.5 122.9 430.1 124.0 430.7 125.0 430.8 126.5 431.0 128.4 430.6 130.2 429.2 131.5 427.9 132.4 427.5 133.5 427.2 134.5 426.6 135.0 427.3 136.7 427.9 136.8 427.4 137.8 426.4 138.6 426.2 140.5 426.7 141.4 427.9 142.6 428.9 144.1 429.9 146.2 431.1 148.4 432.0 150.2 432.7 151.9 433.8 153.1 435.6 154.1 437.5 155.3 438.6 156.2 439.5 156.9 439.6 158.8 439.7 160.7 439.3 163.3 439.1 165.8 438.6 168.3 438.1 170.2 437.9 172.8 437.8 175.3 437.4 177.2 436.4 179.0 435.9 180.6 435.5 182.3 435.6 184.2 435.2 186.1 435.7 187.1 435.0 188.6 434.2 190.5 433.1 192.4 434.4 193.7 433.1 194.9 433.3 196.8 433.8 198.7 435.0 200.0 436.8 201.4 438.6 201.9 440.4 203.4 442.3 203.8 444.1 203.2 445.6 202.9 444.1 202.4 441.9 200.6 441.7 199.7 440.4 199.6 440.8 198.1 441.7 197.2 442.5 195.6 444.7 194.0 442.9 192.1 443.5 191.1 445.3 190.5 446.5 187.7 447.6 187.5 446.3 187.0 445.9 185.4 448.4 185.4 449.6 183.3 452.0 182.6 454.7 181.9 455.9 180.4 456.0 179.5 455.0 178.5 453.8 177.2 455.0 177.1 456.9 177.7 458.2 177.7 459.9 176.3 461.1 174.7 462.9 172.6 464.2 170.9 465.9 169.2 466.0 167.1 466.4 165.8 468.1 164.2 470.2 163.3 472.1 162.6 473.9 162.5 475.1 161.1 476.0 159.2 476.7 157.6 477.4 155.7 477.6 153.1 477.7 150.9 478.4 149.8 479.6 147.7 481.3 145.7 482.4 143.6 482.7 142.5 482.2 140.5 480.6 140.0 479.0 139.2 478.0 138.2 476.3 137.0 474.1 137.2 472.1 136.5 470.9 136.7 470.5 135.5 468.4 134.8 466.1 134.3 464.8 133.8 463.6 132.9 464.2 131.2 462.7 128.4 461.7 127.4 459.9 126.4 458.1 125.9 455.7 125.9 454.2 124.9 452.6 123.4 451.4 122.7 450.2 121.2 449.6 120.1 447.7 120.1 446.5 120.5 444.7 120.1 442.9 120.2 441.8 119.8 440.4 118.9 439.6 118.2 439.5 119.1 438.3 119.6 437.9 120.6 437.3 119.3 437.6 117.9 436.8 118.6 435.6 119.3 434.4 119.6 433.1 120.3M421.7 105.8 424.0 104.5 426.4 104.2 428.9 105.0 431.3 106.3 433.1 107.4 434.7 107.9 433.1 108.3 430.7 108.4 429.5 106.3 427.1 105.9 424.6 105.0 421.7 105.8M434.5 110.2 436.8 108.3 439.8 108.4 441.8 110.1 439.8 110.4 438.0 111.1 435.6 110.4 434.5 110.2M429.7 110.2 432.2 110.4 431.3 111.0 429.7 110.2M443.2 110.1 445.2 110.2 444.7 110.8 443.2 110.1M452.9 73.2 455.7 73.2 458.1 74.1 459.8 74.5 461.0 73.3 460.5 72.1 459.9 71.1 457.5 70.3 457.1 68.3 455.7 68.6 453.8 70.8 452.9 73.2M375.0 72.2 372.9 71.6 371.1 70.5 368.9 69.3 370.5 69.4 372.9 70.2 375.0 72.2M449.8 48.8 447.7 51.8 445.3 54.0 444.1 55.0 441.7 54.3 439.2 53.3 436.8 52.2 435.0 51.7 430.7 52.1 431.9 50.5 435.6 50.5 435.0 48.6 431.9 47.4 429.5 45.5 426.4 44.8 422.2 44.2 417.9 44.1 416.1 42.9 420.4 40.4 426.4 40.1 431.3 41.3 436.2 42.9 439.8 44.2 442.3 44.8 443.5 46.1 446.5 48.0 449.8 48.8M419.8 52.4 423.4 52.4 427.1 53.1 425.8 51.8 421.0 50.2 419.8 52.4M402.7 46.1 398.5 46.4 395.4 45.8 391.2 46.4 386.9 45.8 382.0 44.8 385.1 42.9 381.4 41.7 385.7 40.7 393.0 41.3 395.4 40.7 397.9 42.8 401.5 44.8 402.7 46.1M379.6 42.8 377.2 43.1 372.9 42.4 374.1 40.4 377.2 39.1 382.0 39.5 384.5 40.4 379.6 42.8M435.0 34.1 433.1 35.0 427.7 36.0 422.8 36.6 416.7 36.6 417.9 34.1 411.8 31.5 417.9 30.3 427.7 29.0 439.8 28.6 449.6 29.1 445.9 30.9 439.8 32.2 435.0 34.1M427.7 39.1 417.3 39.1 413.1 38.2 414.3 36.6 422.8 36.6 427.7 37.2 427.7 39.1M404.6 37.2 398.5 37.9 389.9 38.1 382.6 37.9 385.1 36.6 392.4 36.2 398.5 35.7 404.6 37.2M415.5 32.8 409.4 32.8 407.0 31.5 411.8 30.5 415.5 31.5 415.5 32.8M415.5 41.7 410.0 41.7 408.8 39.8 414.9 39.8 415.5 41.7M407.0 42.9 401.5 41.7 400.3 40.4 405.2 40.0 407.0 42.9M471.5 57.5 473.3 56.5 474.1 54.3 475.7 52.4 478.8 50.4 482.4 49.6 485.5 47.1M52.9 46.6 57.2 44.2 60.2 44.1 58.4 42.0 60.8 41.0 62.1 39.1 63.9 38.5 62.7 36.6 64.5 35.3 62.1 34.3 64.5 33.4 65.7 31.8 71.2 30.9 71.8 30.0 62.7 29.6 56.6 28.4M484.9 27.6 476.3 27.9 466.6 29.0 458.1 29.4 452.0 29.6 449.0 30.3 445.9 31.8 442.3 32.8 436.8 34.1 440.4 35.3 438.0 36.0 441.7 36.9 449.6 37.0 453.8 37.5 455.7 39.1 457.5 40.7 458.1 42.6 461.1 43.8 459.3 44.6 462.9 45.5 462.9 47.4 460.5 49.3 461.7 51.8 463.6 54.3 465.4 55.6 468.4 56.9 471.5 57.5M383.9 38.8 388.7 39.3 396.0 38.6 396.6 37.5 392.4 36.5 386.3 36.9 382.0 37.2 383.9 38.8M406.4 37.9 401.5 37.7 400.3 36.6 405.2 36.2 406.4 37.9M411.8 39.0 407.6 38.8 408.2 37.7 411.2 37.7 411.8 39.0M383.9 36.6 378.4 37.0 376.0 36.1 381.4 35.3 383.9 36.6M408.2 46.2 405.2 46.7 403.9 45.7 406.4 45.0 408.2 46.2M431.3 41.3 427.1 41.3 427.7 40.1 430.7 40.4 431.3 41.3M425.2 54.2 423.0 54.7 423.8 53.7 425.2 54.2M405.8 34.7 398.5 34.7 396.6 33.2 403.3 33.1 405.8 34.7M393.6 35.1 388.7 35.6 387.5 34.3 392.4 33.9 393.6 35.1M340.1 60.9 337.0 61.8 337.6 60.3 339.5 59.8 340.1 60.9M155.1 43.6 157.6 44.1 156.3 44.6 155.1 43.6M199.8 118.3 200.2 116.4 199.9 119.6 199.8 118.3M322.4 65.7 320.0 66.4 318.2 66.7 315.1 67.3 310.9 67.8 308.4 67.9 306.0 67.9 303.6 67.6 298.7 66.6 296.9 66.4M264.0 78.1 266.5 76.8 268.3 75.7 270.1 74.6 271.9 73.6 274.4 71.7 276.2 70.2 277.4 69.0M335.3 107.9 336.4 108.7 335.7 109.6 335.1 108.7 335.3 107.9M450.4 198.6 453.2 198.5 453.9 199.4 451.4 199.6 450.4 198.6M478.8 201.9 481.2 202.2 481.4 202.9 479.4 202.4 478.8 201.9M170.5 195.3 172.8 195.6 171.6 196.5 170.7 196.2 170.5 195.3" fill="none" stroke="#000" stroke-width="1" stroke-linejoin="round"/>
<line x1="50.5" y1="133.5" x2="488.5" y2="133.5" stroke="#000" stroke-width="1" stroke-dasharray="3.7,1.6"/>
</g>
<line x1="488.5" y1="133.5" x2="634.5" y2="133.5" stroke="#000" stroke-width="1" stroke-dasharray="3.7,1.6"/>
<line x1="581.8" y1="19.5" x2="581.8" y2="209.5" stroke="#666" stroke-width="1.2" stroke-dasharray="3.7,1.6"/>
<clipPath id="clippa"><rect x="488.5" y="19.5" width="146" height="190"/></clipPath>
<g clip-path="url(#clippa)" fill="none" stroke="#2e9bf0" stroke-linecap="round" stroke-linejoin="round">
<polyline points="566.4,19.5 572,24 579.4,30.3 577.5,36 575.8,41 572.8,48 572.3,53 572.8,58 575.8,62.2 581.7,64.5 592,66.5 603,68.8 612,71 620.6,73.5" stroke-width="2.5" stroke-linecap="butt" stroke-dasharray="2.5,2.8"/>
<polyline points="620.6,73.5 628,75.8 634.2,78.2 628,80.8 620.6,83.4" stroke-width="2.6"/>
<polyline points="620.6,83.4 612,85.8 603,88.1 592,91 581.7,94 573,96 565.2,97.6 556,99 547.5,100.4" stroke-width="2.5" stroke-linecap="butt" stroke-dasharray="2.5,2.8"/>
<polyline points="547.5,100.4 532.2,102.8 524,104.5 518,107 512.5,109.5 508.6,112.9 505,116 502.7,118.8 500,122.5 498,125.9 497,129.5 496.8,133 496.5,135.5 495.6,137.7 494.5,140.5 493.3,143.6 491.8,147 490.9,151.8 491,156 492.1,160.1 495,162.8 499.2,164.8 505.5,167.5 513.3,170.7 521,173.5 529.8,176.6 538,179.6 547.5,183" stroke-width="2.6"/>
<polyline points="547.5,183 556,185.8 565.2,188.4 573,190.6 581.7,193.1 585.5,195.5 588.8,199 591,203.5 593.5,208.4 594,209.3" stroke-width="2.5" stroke-linecap="butt" stroke-dasharray="2.5,2.8"/>
</g>
<rect x="50.5" y="19.5" width="584" height="190" fill="none" stroke="#000" stroke-width="1.1"/>
<line x1="488.5" y1="19.5" x2="488.5" y2="209.5" stroke="#000" stroke-width="1.1"/>
<path d="M50.5 19.5h3.6M634.5 19.5h-3.6M50.5 57.5h3.6M634.5 57.5h-3.6M50.5 95.5h3.6M634.5 95.5h-3.6M50.5 133.5h3.6M634.5 133.5h-3.6M50.5 171.5h3.6M634.5 171.5h-3.6M50.5 209.5h3.6M634.5 209.5h-3.6M87 209.5v-3.6M141.75 209.5v-3.6M196.5 209.5v-3.6M251.25 209.5v-3.6M306 209.5v-3.6M360.75 209.5v-3.6M415.5 209.5v-3.6M470.25 209.5v-3.6M511.66 209.5v-3.6M546.73 209.5v-3.6M581.8 209.5v-3.6M616.87 209.5v-3.6" stroke="#000" stroke-width="1" fill="none"/>
<text x="45.4" y="24.8" text-anchor="end">90°N</text>
<text x="639.6" y="24.8">90°N</text>
<text x="45.4" y="62.8" text-anchor="end">60°N</text>
<text x="639.6" y="62.8">60°N</text>
<text x="45.4" y="100.8" text-anchor="end">30°N</text>
<text x="639.6" y="100.8">30°N</text>
<text x="45.4" y="138.8" text-anchor="end">0°</text>
<text x="639.6" y="138.8">0°</text>
<text x="45.4" y="176.8" text-anchor="end">30°S</text>
<text x="639.6" y="176.8">30°S</text>
<text x="45.4" y="214.8" text-anchor="end">60°S</text>
<text x="639.6" y="214.8">60°S</text>
<text x="87" y="224.7" text-anchor="middle">0°</text>
<text x="141.75" y="224.7" text-anchor="middle">45°E</text>
<text x="196.5" y="224.7" text-anchor="middle">90°E</text>
<text x="251.25" y="224.7" text-anchor="middle">135°E</text>
<text x="306" y="224.7" text-anchor="middle">180°</text>
<text x="360.75" y="224.7" text-anchor="middle">135°W</text>
<text x="415.5" y="224.7" text-anchor="middle">90°W</text>
<text x="470.25" y="224.7" text-anchor="middle">45°W</text>
<text x="511.66" y="224.7" text-anchor="middle">-0.6</text>
<text x="546.73" y="224.7" text-anchor="middle">-0.3</text>
<text x="581.8" y="224.7" text-anchor="middle">0.0</text>
<text x="616.87" y="224.7" text-anchor="middle">0.3</text>
<text x="561.5" y="243.9" text-anchor="middle">Correlation coefficient</text>
<text x="0.4" y="10.1" font-size="19.5" font-weight="bold">a</text>
<polygon points="130,231.4 115.8,239.35 130,247.3" fill="#1717fa"/>
<rect x="130" y="231.4" width="24" height="15.9" fill="#2a40fa"/>
<rect x="153.2" y="231.4" width="24" height="15.9" fill="#4c6ff9"/>
<rect x="176.4" y="231.4" width="24" height="15.9" fill="#74a0f8"/>
<rect x="199.6" y="231.4" width="24" height="15.9" fill="#9ec6fb"/>
<rect x="222.8" y="231.4" width="24" height="15.9" fill="#c8e2fd"/>
<rect x="246" y="231.4" width="24" height="15.9" fill="#e9f5fe"/>
<rect x="269.2" y="231.4" width="24" height="15.9" fill="#fff4e9"/>
<rect x="292.4" y="231.4" width="24" height="15.9" fill="#fedcc0"/>
<rect x="315.6" y="231.4" width="24" height="15.9" fill="#fdbf9a"/>
<rect x="338.8" y="231.4" width="24" height="15.9" fill="#fb9a78"/>
<rect x="362" y="231.4" width="24" height="15.9" fill="#f96f53"/>
<rect x="385.2" y="231.4" width="23.2" height="15.9" fill="#f83c28"/>
<polygon points="408.4,231.4 422.6,239.35 408.4,247.3" fill="#f3291d"/>
<polygon points="130,231.4 408.4,231.4 422.6,239.35 408.4,247.3 130,247.3 115.8,239.35" fill="none" stroke="#000" stroke-width="0.8"/>
<text x="130" y="264.1" text-anchor="middle">-0.6</text>
<text x="176.4" y="264.1" text-anchor="middle">-0.4</text>
<text x="222.8" y="264.1" text-anchor="middle">-0.2</text>
<text x="269.2" y="264.1" text-anchor="middle">0.0</text>
<text x="315.6" y="264.1" text-anchor="middle">0.2</text>
<text x="362" y="264.1" text-anchor="middle">0.4</text>
<text x="408.4" y="264.1" text-anchor="middle">0.6</text>
<path d="M130 247.3v-2.5M176.4 247.3v-2.5M222.8 247.3v-2.5M269.2 247.3v-2.5M315.6 247.3v-2.5M362 247.3v-2.5M408.4 247.3v-2.5" stroke="#000" stroke-width="0.8" fill="none"/>
<text x="269.2" y="279" text-anchor="middle">Correlation coefficient</text>
<clipPath id="clipb"><rect x="50.5" y="306.5" width="438" height="197"/></clipPath>
<g clip-path="url(#clipb)">
<rect x="50.5" y="306.5" width="438" height="197" fill="#fff4e9"/>
<rect x="49.5" y="305.5" width="440.0" height="199.0" fill="#1717fa"/>
<path fill="#2a40fa" fill-rule="evenodd" d="M49.5 305.5 489.5 305.5 489.5 504.5 49.5 504.5 49.5 305.5ZM279.5 420.5 274.5 422.5 273.5 423.5 273 425.5 277.5 433.5 279 434.5 283.5 436 285.5 437.5 284.5 449.5 285.5 451.5 288.5 453 297.5 455 302.5 458.5 304.5 459.5 329.5 462.5 378.5 462 384.5 461.5 387 459.5 387.5 457.5 387.5 448.5 386 434.5 386 431.5 387.5 429.5 392.5 428.5 428.5 429.5 432.5 428 433.5 427.5 434.5 425.5 434 424.5 433 423.5 430.5 422.5 415.5 420.5 401.5 421 279.5 420.5Z"/>
<path fill="#4c6ff9" fill-rule="evenodd" d="M49.5 305.5 489.5 305.5 489.5 504.5 49.5 504.5 49.5 428.5 52.5 429.5 57.5 433 62.5 434 208.5 434 212.5 433 218.5 429.5 225.5 427.5 228 425.5 228 424.5 225.5 423 209.5 420.5 199.5 417 186.5 415.5 146.5 415.5 143 416.5 138.5 419.5 135.5 421 130.5 422 124.5 422.5 121.5 422 118.5 421.5 116.5 420 113.5 416.5 111.5 415.5 97.5 415.5 86.5 414 64.5 414 49.5 415.5 49.5 305.5ZM340.5 401.5 338.5 402.5 334.5 407 331.5 408 294.5 408.5 290.5 409 287.5 410.5 283.5 415 275.5 417.5 269.5 421 267.5 423.5 267.5 425.5 271.5 430.5 273.5 436.5 277.5 439 279 440.5 280 444.5 280.5 451.5 281.5 453 285.5 455 294.5 456.5 303 460.5 326.5 464.5 375.5 466 381.5 466.5 391.5 468 394.5 467 396 464.5 394.5 457.5 394.5 452.5 394.5 449.5 396 446.5 399 443.5 406.5 440.5 413.5 435.5 417.5 434 422.5 433.5 427.5 433 431.5 433.5 433.5 434.5 435.5 436.5 438 444.5 440.5 445.5 443.5 445 454.5 441.5 457.5 440 465.5 434 468.5 429.5 470.5 427.5 473.5 426.5 481.5 425.5 483.5 424.5 484 423.5 481.5 421.5 476.5 421 459.5 421 441.5 422.5 436.5 422 426 419.5 419.5 416 412.5 415 410.5 413.5 407.5 409.5 400 407.5 395.5 403 392.5 402 340.5 401.5Z"/>
<path fill="#74a0f8" fill-rule="evenodd" d="M49.5 305.5 489.5 305.5 489.5 369.5 462.5 371 459 371.5 457 372.5 456.5 373.5 459 380.5 460.5 382 463.5 383 480 380.5 487.5 376.5 489.5 376.5 489.5 415.5 477.5 414.5 462.5 414.5 454.5 410 438.5 408 436.5 407 435 405.5 434.5 398.5 432.5 396.5 427.5 394.5 413.5 395 411 393.5 407.5 389 405.5 388 403.5 388 378.5 388.5 353.5 388 350.5 389.5 346.5 394.5 342.5 395.5 338.5 394.5 335 389.5 333.5 388.5 329.5 388 326.5 389 323 393.5 319.5 395 292.5 394.5 279.5 396.5 271.5 401 256.5 401 254.5 402.5 253.5 404.5 254.5 407 256.5 408.5 271.5 408.5 274.5 409 276 410.5 276.5 411.5 275.5 413 268.5 416 266.5 417.5 264 422.5 263.5 425.5 264.5 427.5 266.5 431.5 267.5 438.5 269 439.5 274.5 441 276 442.5 277.5 445.5 279.5 453.5 281.5 456 293.5 458.5 301.5 461.5 321.5 465.5 367.5 468 378.5 469 389.5 471.5 394.5 471 397.5 469.5 399.5 467.5 400.5 465.5 401 463.5 400.5 452.5 401 449.5 408 443.5 412.5 441 422.5 437 428.5 436.5 430.5 437 432 438.5 435 444.5 437.5 446 444.5 446.5 455.5 445 460.5 443.5 463.5 441.5 466.5 438 470.5 431.5 472.5 429.5 475.5 428.5 489.5 426.5 489.5 504.5 49.5 504.5 49.5 435 55.5 436 62.5 436.5 209.5 436.5 214.5 435.5 230.5 430 233.5 428.5 235 425.5 235 424.5 233.5 423 226.5 420.5 200.5 415 185.5 413 141.5 413 135.5 414.5 129.5 418.5 124.5 419.5 120.5 418.5 116 414.5 113.5 413 97.5 413 87.5 410 61.5 410.5 49.5 413 49.5 305.5ZM74.5 475.5 69 476.5 68 477.5 68.5 479.5 71.5 481 75.5 481.5 79 480.5 81.5 478.5 81.5 477.5 80.5 476.5 74.5 475.5ZM435.5 415.5 441.5 415 444.5 416 445.5 417.5 445 418.5 443.5 419.5 440.5 420 437.5 420 434 418.5 433 417.5 433.5 416.5 435.5 415.5Z"/>
<path fill="#9ec6fb" fill-rule="evenodd" d="M49.5 305.5 489.5 305.5 489.5 367 453.5 370.5 450 371.5 444.5 375 438.5 376.5 437 377.5 436 379.5 438 381.5 442.5 382.5 444 383.5 448.5 387.5 452.5 388.5 467 386.5 489.5 380.5 489.5 413 478.5 410.5 463.5 410 449.5 406.5 447 405.5 446 404.5 446 398.5 444.5 397 436.5 394 430.5 389.5 424.5 388 418.5 383.5 415.5 383 402.5 383.5 394.5 383 389.5 381.5 383.5 377 379.5 376 365.5 376.5 363 377.5 358.5 380.5 355.5 381.5 342.5 381 332.5 383.5 318.5 383 315.5 383 312.5 384.5 307.5 388 303.5 389 291.5 390.5 283.5 393 276.5 393.5 256.5 396.5 254.5 397.5 252.5 399.5 249.5 404.5 249.5 406.5 253.5 411.5 255.5 413.5 259.5 415.5 260.5 416.5 260 428.5 265 439.5 266.5 441 272.5 442.5 274.5 444 276 446.5 278.5 455 279.5 457 281.5 458.5 317.5 466 356.5 468.5 380.5 471.5 389.5 473.5 393 473.5 397 472.5 401 470.5 404 467.5 405.5 464.5 405.5 455.5 406 451.5 411 445.5 414.5 443 423.5 440 427.5 439.5 430.5 441 434 445.5 437.5 447.5 442.5 448 463.5 448 465.5 447 467.5 444.5 471.5 435 474.5 431 479.5 429.5 489.5 428.5 489.5 504.5 49.5 504.5 49.5 439 86.5 438.5 128.5 439 148.5 439.5 160.5 441 169.5 440 178.5 439 210.5 438.5 217 437.5 234.5 432.5 237 429.5 238.5 425.5 238 423.5 236 421.5 226.5 418 186 410.5 171.5 410 134.5 410.5 130.5 411.5 125.5 414.5 123.5 414.5 117.5 411.5 114.5 411 98.5 410 88.5 408 61.5 408.5 49.5 410 49.5 305.5ZM74.5 473.5 65 474.5 58 476.5 56.5 477.5 55.5 479.5 55 482.5 55.5 483.5 57 484.5 61.5 485 79 484.5 85 482.5 90.5 479.5 92.5 477.5 91 476.5 87.5 475.5 79.5 474 74.5 473.5Z"/>
<path fill="#c8e2fd" fill-rule="evenodd" d="M49.5 305.5 489.5 305.5 489.5 364.5 474.5 367 454.5 369 447.5 370.5 435 375.5 432.5 377.5 430.5 380.5 427.5 381.5 417.5 380 400.5 380.5 396.5 379 392.5 375.5 390.5 375 385.5 374 379.5 373.5 365.5 373.5 355.5 377 341.5 377 331.5 380.5 315.5 380.5 297.5 386.5 288.5 387 266 390.5 253.5 394.5 250.5 396.5 247.5 400 245.5 401 232.5 401 229.5 403.5 227 411.5 225.5 412.5 222.5 413.5 206.5 412.5 190.5 409 181.5 408 172.5 406.5 146.5 409 123.5 410 108.5 408.5 100.5 406.5 89.5 406 61.5 406.5 49.5 407.5 49.5 376 58.5 371 66.5 368 71.5 364.5 77.5 361.5 79 359.5 79 358.5 78 357.5 75.5 357 62.5 356.5 58 357.5 52.5 360.5 49.5 361.5 49.5 305.5ZM144.5 329.5 142 331.5 142 333.5 143 334.5 144.5 335.5 151.5 337 155.5 341 158.5 342.5 169.5 343 184.5 343 189 341.5 190.5 340.5 191.5 338.5 191.5 332.5 189.5 330.5 187.5 330 149.5 329 144.5 329.5ZM242.5 336.5 239.5 337.5 238.5 338.5 238 345.5 239 347.5 240.5 348.5 244.5 349.5 258.5 349.5 260.5 348.5 265.5 344 272 342.5 273 340.5 272.5 337.5 269.5 336 242.5 336.5ZM280.5 316.5 277.5 317.5 276 318.5 276 320.5 277.5 322.5 279.5 323 282.5 323.5 285.5 322.5 287 321.5 287.5 319.5 286 317.5 283.5 316.5 280.5 316.5ZM425.5 329.5 421.5 331.5 421 332.5 422 333.5 425.5 334.5 430.5 335 433.5 334.5 434.5 333.5 434.5 331.5 432.5 330 428.5 329 425.5 329.5ZM486 384.5 489.5 384 489.5 410.5 480.5 409 465.5 407.5 461.5 406.5 458.5 404.5 458.5 396.5 460 391.5 463.5 390 486 384.5ZM243.5 408.5 245.5 408.5 247.5 409.5 252.5 417.5 253 421.5 253 430.5 253.5 432.5 259.5 436 261.5 440.5 263.5 442.5 270.5 443.5 273.5 445.5 275 448.5 277.5 456.5 280.5 459.5 295.5 463.5 306.5 465 316.5 467 352.5 469.5 380.5 473 390.5 475 394.5 475 399.5 473.5 404.5 471.5 407.5 469.5 409 465.5 409 457.5 410 454.5 415.5 447.5 419.5 444.5 423.5 443.5 427.5 443 429.5 443.5 433.5 447 436.5 448 452.5 450 462.5 453.5 467.5 453.5 469.5 452.5 471.5 450.5 474 437.5 475.5 434.5 480.5 431.5 484.5 430.5 489.5 430 489.5 460 473.5 461 470.5 462.5 469.5 463.5 470 465.5 474.5 467.5 489.5 468 489.5 504.5 49.5 504.5 49.5 486 62.5 486.5 78.5 486.5 84.5 485.5 89 484.5 94.5 481.5 101 478.5 102 477.5 101.5 476.5 99.5 475.5 78.5 472 59.5 472 56.5 471.5 54.5 470.5 51.5 467.5 49.5 466.5 49.5 441 61.5 440 86.5 439.5 121.5 440.5 142.5 442 148.5 443 156.5 445 160.5 445.5 180.5 441.5 197.5 441 218 439.5 235.5 435.5 239.5 433.5 241 430.5 242 424.5 241 421.5 238.5 418.5 238 415.5 240 410.5 241.5 409 243.5 408.5Z"/>
<path fill="#e9f5fe" fill-rule="evenodd" d="M444.5 306.5 445.5 305.5 489.5 305.5 489.5 362.5 480.5 363.5 446.5 369 439 371.5 429.5 376 427.5 376.5 415.5 377 408 376.5 403.5 375.5 398.5 372.5 393.5 371.5 367.5 370.5 363.5 371 355.5 374 339.5 374 315.5 377.5 295.5 383.5 277.5 384.5 263.5 388 251.5 392 244.5 395 231.5 397 228 399.5 221.5 408 217.5 409.5 212.5 410 206.5 410 197.5 407 182.5 406 169.5 403 166.5 401.5 162.5 397.5 148.5 394.5 145.5 394.5 143.5 395.5 141 397.5 141 398.5 144 400.5 150.5 402.5 152 404.5 151.5 405.5 145.5 407 136.5 408 110.5 406.5 100.5 404 81.5 404 65.5 402.5 60.5 401.5 52 395.5 49.5 394.5 49.5 380 52 379.5 58.5 375 72.5 370.5 80.5 366 83 363.5 84 359.5 83.5 357.5 82 355.5 79.5 354.5 76.5 354 60.5 354 49.5 357 49.5 308 61.5 307 111.5 307 137.5 307.5 148.5 309 198.5 309 201.5 310.5 202.5 312.5 201.5 315 198.5 316 159.5 316.5 156 317.5 152.5 321.5 149.5 323.5 146.5 323.5 136.5 322.5 133.5 323 126.5 327.5 119.5 330.5 114 334.5 108 336.5 105 338.5 104 340.5 104.5 346.5 106.5 347.5 116.5 348 123.5 350 126.5 351 130 353.5 133.5 354.5 161.5 354 164 353.5 170.5 349.5 184.5 349.5 187.5 348.5 192.5 344.5 199.5 341.5 201 340.5 202 329.5 202.5 326.5 204 324.5 207.5 323 221.5 323 224.5 323.5 226.5 325.5 228.5 346.5 230.5 348.5 242.5 355.5 247.5 356.5 259.5 356 261.5 354.5 265.5 350.5 268.5 349 281.5 350 284.5 349.5 286.5 348.5 287.5 346.5 287 344.5 284.5 343 279.5 342 278.5 340.5 276 332.5 277 330.5 278.5 329.5 282.5 329 294.5 329.5 319.5 329 322.5 327.5 326.5 324.5 334 322.5 337.5 318.5 339.5 317 346.5 315.5 350.5 310.5 352.5 309.5 355.5 309 403.5 309 413.5 307.5 439.5 307.5 444.5 306.5ZM436.5 318.5 430.5 322 424.5 323.5 419.5 327.5 412 330.5 410.5 331.5 410 332.5 411 333.5 413.5 334.5 429.5 338.5 436.5 340.5 441.5 341 446 339.5 447 338.5 446 333.5 446.5 332 448.5 330.5 454.5 328 455.5 326.5 455.5 325.5 453.5 323 444.5 318.5 440.5 317.5 436.5 318.5ZM485.5 387.5 489.5 387 489.5 408.5 475.5 406.5 472 405.5 470.5 404.5 470.5 403.5 470.5 398.5 470.5 393.5 471 391.5 476 389.5 485.5 387.5ZM484.5 434.5 489.5 433.5 489.5 455 484.5 453.5 482.5 451.5 482 449.5 480.5 438.5 481.5 436.5 484.5 434.5ZM75.5 440.5 91.5 440 124.5 442 138.5 444 159.5 447.5 163.5 447.5 182.5 443.5 197.5 443.5 206.5 442 230.5 441 234.5 442 239 444.5 242.5 445.5 256.5 446 270.5 445.5 272.5 447 273.5 448 276.5 457 278.5 460 281.5 461.5 292 464.5 316.5 468 334.5 469 346.5 470.5 356.5 472.5 380.5 474 391.5 476.5 406.5 473.5 411 471.5 413 467.5 413 457.5 413.5 455.5 421.5 447.5 424.5 446 427.5 446 435.5 449 446 451.5 455 454.5 456.5 455.5 458 457.5 458.5 464.5 473.5 473 476.5 474 489.5 474 489.5 504.5 49.5 504.5 49.5 489 57.5 488 80.5 487.5 88.5 487 92.5 486 97.5 483 105.5 479.5 108 477.5 107.5 476.5 106.5 475.5 103.5 474.5 86 471.5 77.5 469.5 64.5 468 54.5 463.5 49.5 462.5 49.5 443 59.5 441 75.5 440.5Z"/>
<path fill="#fff4e9" fill-rule="evenodd" d="M55.5 309.5 62.5 309 112.5 309 122.5 310 137.5 310.5 140.5 311.5 141.5 313.5 140.5 315.5 139.5 316 131.5 318 126 322.5 119.5 325 106.5 332.5 96 336.5 94.5 338.5 94 346.5 91.5 348.5 82.5 349.5 59.5 351.5 49.5 354 49.5 311 55.5 309.5ZM445 309.5 451.5 308.5 489.5 309 489.5 360.5 475.5 361 466.5 364 442.5 368.5 430.5 373 427.5 373.5 413.5 373.5 398.5 370 379.5 369 367.5 367.5 362.5 368 354.5 369 329.5 369.5 319.5 373.5 295.5 380 277.5 382.5 263 385.5 230.5 394 227.5 395.5 222.5 400.5 215.5 405.5 213.5 406.5 209.5 407.5 206.5 407 199.5 404 184.5 403.5 180.5 403 171.5 400 163.5 395.5 156.5 394 151 391.5 148.5 391 144.5 391 140.5 392 135 394.5 132 396.5 131 398.5 131.5 400.5 138.5 402.5 142 404.5 141 405.5 135.5 406 131 405.5 128.5 403 124.5 402 86.5 402 78.5 401 68.5 398.5 62 395.5 54.5 390.5 49.5 389 49.5 383 55.5 381.5 62.5 376.5 76.5 373.5 83.5 370.5 90 368.5 91.5 366.5 91.5 359.5 92.5 357.5 95.5 356 101.5 355 107 351.5 110.5 350.5 116.5 351.5 121.5 355 124.5 356 134.5 357.5 146.5 356.5 162.5 356 172.5 354.5 197.5 355 200.5 354 204.5 351 206.5 350 220.5 349 225 350.5 231.5 355.5 238.5 358.5 243.5 359.5 270.5 360 272.5 359.5 276.5 355.5 280.5 354.5 285.5 354.5 293.5 356.5 307.5 356 311.5 354.5 315.5 350.5 324.5 346.5 325.5 344.5 325.5 333.5 326 331.5 327.5 330.5 329.5 329 332.5 328.5 345.5 327.5 351.5 324 354.5 323.5 379.5 323.5 393.5 323 395.5 324 397 325.5 397 331.5 397 332.5 398.5 333.5 418.5 338.5 427.5 342.5 430.5 343 442.5 343 455.5 340.5 457.5 339.5 458 338.5 457 332.5 459.5 329 460 326.5 459 322.5 455.5 318.5 449.5 316.5 441.5 315 436.5 315.5 427.5 317 414.5 316.5 411.5 315.5 410 313.5 411 311.5 414.5 310 445 309.5ZM486.5 390.5 489.5 390 489.5 406.5 484.5 405.5 482 404.5 480.5 401.5 480 397.5 481 393.5 483.5 391.5 486.5 390.5ZM73.5 441.5 90.5 441 118.5 443 146.5 447 159.5 449.5 182.5 446 198.5 445 207.5 443.5 220.5 443.5 225.5 443.5 232 445.5 241.5 447 256.5 448 269.5 447.5 271.5 448.5 272.5 449.5 275 457.5 277 460.5 280.5 463 287.5 465 316.5 469.5 335.5 470.5 345.5 472.5 354.5 475.5 365.5 474.5 378.5 475 391.5 478 412.5 475.5 416.5 474.5 418.5 473.5 420.5 471.5 420.5 470.5 418 465.5 418 462.5 418.5 459.5 423.5 450.5 425.5 449 428.5 448.5 433.5 450.5 434.5 451.5 434 457.5 436 459.5 444.5 463 460.5 472.5 467.5 475.5 473.5 479.5 477.5 480.5 489.5 480 489.5 504.5 49.5 504.5 49.5 493 54.5 490.5 61 489.5 86.5 489.5 94.5 488.5 100.5 486.5 104.5 483.5 111.5 480.5 113.5 478.5 113.5 476.5 112.5 475.5 108.5 473.5 88.5 469.5 62.5 462.5 49.5 460 49.5 454 51.5 453.5 53 451.5 53 445.5 53.5 444.5 54.5 443.5 61.5 442 73.5 441.5ZM278.5 493.5 276.5 494.5 275.5 496.5 276 498.5 277.5 500.5 279.5 501 282.5 501.5 285.5 500.5 287 499.5 287.5 496.5 286.5 494.5 282.5 493 278.5 493.5Z"/>
<path fill="#fedcc0" fill-rule="evenodd" d="M58.5 311.5 63.5 311 111.5 311 115 311.5 116.5 312.5 117 313.5 117 314.5 115.5 315.5 108.5 317 106 318.5 105.5 320.5 106 326.5 103.5 329 99.5 330 87.5 329.5 84.5 330 82.5 331 78.5 335 76.5 336 71.5 336.5 68.5 338 67.5 339.5 68.5 345.5 67 347.5 63.5 348.5 55.5 348.5 49.5 349.5 49.5 315.5 51.5 315 58.5 311.5ZM360.5 328.5 377.5 328 383.5 328.5 385.5 329.5 389 333.5 391.5 335 409.5 339.5 413.5 341.5 420 345.5 426.5 347.5 429.5 347.5 437.5 345 463.5 342.5 466.5 341.5 471 337.5 474.5 336 489.5 336.5 489.5 356 474.5 357 465.5 361.5 451.5 363.5 439.5 367 429.5 371 415.5 371 402.5 369 381.5 367.5 375.5 366 367.5 362.5 353.5 362 350.5 361 347 357.5 344.5 356 328.5 355.5 325.5 355 323.5 353.5 323.5 352.5 324.5 351.5 333.5 348.5 336 346.5 336.5 339.5 335.5 333.5 336.5 332 339.5 331 347.5 330.5 360.5 328.5ZM206 356.5 208.5 356 211.5 356.5 217.5 360.5 220.5 361 234.5 361 268.5 362 273.5 361.5 279.5 358 282.5 357.5 292.5 360.5 320.5 362.5 322.5 363.5 324 365.5 322.5 367.5 321 368.5 305.5 374.5 286.5 379 249.5 386 226.5 392 219.5 395 206.5 396.5 200.5 399.5 197.5 400 185.5 400.5 181.5 400 165.5 394.5 158.5 392.5 153.5 390.5 149.5 389.5 142.5 389.5 132.5 391 129.5 392 121.5 395.5 109.5 397 102.5 399.5 99.5 400 86.5 400 82.5 399.5 72 394.5 69.5 392.5 69 391.5 70 385.5 67.5 379.5 68 378.5 69.5 377.5 73.5 376.5 85.5 375.5 98.5 376 102.5 375.5 105 374.5 110 369.5 115 367.5 121.5 363.5 124.5 362.5 137.5 360.5 146.5 358 197.5 357.5 206 356.5ZM489 394.5 489.5 394.5 489.5 402.5 487.5 401.5 486 398.5 487.5 395.5 489 394.5ZM73.5 442.5 89.5 441.5 116.5 444.5 144.5 448.5 149 449.5 155.5 452.5 159.5 453.5 162.5 453 170.5 450 185.5 449 192.5 447.5 208.5 446 222.5 446 232.5 447.5 256.5 450 268.5 449.5 270.5 450 271.5 451.5 273.5 457.5 275.5 460.5 278.5 463.5 281.5 465 290.5 467 306 469.5 316.5 472.5 331.5 473 353.5 478 356.5 478 366.5 476.5 379.5 476.5 390.5 479 418.5 478 429.5 474 431.5 472.5 432.5 470.5 431.5 468.5 425 466.5 423 464.5 423.5 462.5 424.5 461.5 428.5 461 433 462.5 436.5 466 442.5 467.5 446 469.5 447 471.5 446 477.5 447 479.5 448.5 480.5 451.5 481 462.5 480 465.5 480 468 481.5 472.5 485.5 480.5 487 482.5 488 483.5 488.5 484 490.5 484 504.5 326 504.5 326 497.5 325 495.5 322.5 494 316.5 493.5 313.5 492.5 312 490.5 312 484.5 311.5 483.5 310.5 482.5 307.5 482 296.5 482 290 482.5 283.5 486 279.5 487.5 267 488.5 260.5 492.5 253.5 494 252.5 494.5 251.5 496.5 251 504.5 56.5 504.5 55 500.5 55 496.5 57.5 494 61.5 493 74.5 493 82.5 492 88.5 491.5 101.5 492 111.5 494 123.5 493.5 148.5 493.5 152.5 492.5 153.5 491 154.5 488 159.5 487 164.5 488 167.5 492.5 170.5 493.5 175.5 493 177.5 491.5 178 490.5 177 488.5 175.5 487.5 168.5 485.5 165.5 482.5 160.5 480.5 157.5 480.5 155.5 481.5 154.5 482.5 153.5 486 152.5 486.5 147.5 487 133.5 486.5 131 485.5 128 481.5 126.5 480.5 120.5 479 116.5 474.5 113 472.5 61.5 459.5 57.5 457.5 57.5 456.5 59.5 451.5 59 445.5 59.5 444.5 63.5 443 73.5 442.5Z"/>
<path fill="#fdbf9a" fill-rule="evenodd" d="M363.5 331.5 367.5 331 380.5 331.5 382.5 332 388.5 336.5 400 340.5 409 345.5 425.5 350.5 431.5 350.5 439.5 348.5 442.5 348.5 444.5 349.5 445.5 351.5 446 354.5 445 358.5 442.5 361.5 432 368.5 427.5 369.5 415.5 369.5 404.5 367 386.5 366 382 364.5 372.5 358.5 368.5 357.5 358.5 357 353.5 356 351.5 354.5 349.5 351.5 348.5 346.5 349 338.5 351 336.5 356.5 335 363.5 331.5ZM49.5 336.5 49.5 336 51.5 336.5 55 337.5 56 338.5 56 340.5 53.5 342.5 49.5 343 49.5 336.5ZM487 342.5 489.5 342 489.5 350 486 348.5 484.5 346.5 484.5 344.5 487 342.5ZM147.5 360.5 162.5 360 208.5 361 211.5 361.5 218.5 363.5 221.5 364 233.5 364 243.5 362 269.5 363 282.5 362 289.5 363 295.5 363.5 298.5 364.5 300 366.5 300 370.5 300 371.5 298.5 373 290.5 375.5 262.5 381.5 244.5 384 212.5 393 204.5 394 197.5 395.5 183.5 395.5 171.5 393.5 154.5 388.5 148.5 388 133.5 388.5 124.5 388.5 121.5 389.5 115.5 393.5 99.5 396 85.5 396 82 394.5 80 392.5 80 385.5 80.5 383.5 81.5 382.5 86.5 381.5 111.5 382 113.5 381.5 115.5 379.5 115 372.5 116 370.5 117.5 369.5 123.5 367 147.5 360.5ZM85 442.5 91.5 442.5 114.5 445.5 135.5 449 140 450.5 141.5 451.5 141.5 452.5 140 457.5 141 464.5 143.5 466.5 149.5 467.5 152.5 468.5 153.5 469.5 153.5 471.5 152.5 473 149.5 474 123.5 474 115.5 470.5 105.5 468.5 94.5 464.5 78.5 460.5 69 457.5 66.5 455.5 65.5 453.5 65.5 450.5 65.5 447.5 67 445.5 69.5 444.5 85 442.5ZM198.5 449.5 220.5 449 246.5 450 250.5 451 256.5 453.5 268.5 454 270.5 455.5 275 462.5 278.5 465.5 295 469.5 307.5 473.5 311 475.5 311.5 477.5 310.5 478.5 307.5 479 292.5 479.5 272.5 485 246.5 488 192.5 488 184.5 486.5 171.5 482 168 480.5 165.5 478.5 164.5 475.5 164.5 462.5 165.5 459.5 168.5 456.5 171 454.5 173.5 453.5 186.5 452.5 193.5 450 198.5 449.5ZM370.5 478.5 379.5 478 390.5 480 425.5 480.5 428.5 481 434.5 484.5 437.5 485.5 449.5 486 453.5 487 456 488.5 457 490.5 457 504.5 333.5 504.5 334 496.5 334.5 490.5 334.5 483.5 335 481.5 336.5 480 342.5 478.5 355.5 480.5 370.5 478.5ZM85.5 494.5 101.5 495 104.5 496.5 108.5 499.5 115.5 501.5 117 502.5 117.5 504.5 67.5 504.5 68 502.5 69.5 501.5 77.5 499.5 83 495.5 85.5 494.5Z"/>
<path fill="#fb9a78" fill-rule="evenodd" d="M365.5 335.5 377.5 335 380.5 335.5 388.5 341 395.5 343.5 401.5 348 406.5 349 417 350.5 424.5 354.5 432.5 356 434.5 357.5 434.5 360.5 432 365.5 429.5 367 415.5 367.5 411.5 366.5 407.5 364 404.5 363.5 389.5 363 386.5 361.5 382.5 358 379.5 356.5 373.5 355 362.5 354 360.5 353 359.5 351.5 359.5 339.5 361 337.5 365.5 335.5ZM153 362.5 159.5 362 172.5 362 184.5 363.5 209.5 364 212.5 364.5 218.5 367.5 221.5 368 233.5 368 238.5 364.5 243.5 363.5 248.5 363.5 256.5 364.5 270.5 365 275 365.5 284.5 369 286.5 370 287.5 371.5 287 372.5 285.5 373.5 282.5 374.5 261.5 379.5 240.5 381 231.5 383.5 223.5 387 209.5 389 171.5 389 154.5 386.5 134.5 386.5 130.5 385.5 123 382.5 121 380.5 120.5 372.5 122 370.5 128.5 368.5 139.5 366 153 362.5ZM81 444.5 85.5 444 89.5 444 93 444.5 99.5 446.5 113.5 447 127.5 450.5 130.5 451.5 132 453.5 132.5 457.5 132 460.5 130.5 463.5 128.5 465 123.5 467.5 116.5 468 107.5 467 104 465.5 99.5 462 95.5 461 84.5 459.5 71.5 453.5 70.5 452 70.5 450.5 71.5 448 81 444.5ZM194 454.5 245.5 454 247.5 454.5 253.5 459.5 256.5 460.5 269.5 460.5 271.5 462 275.5 467 278.5 468 285.5 469.5 288 470.5 288.5 471.5 288.5 474.5 287 477.5 283.5 479 270.5 481.5 256.5 480.5 249.5 484.5 245.5 485.5 195.5 485.5 191.5 484.5 185.5 482.5 175.5 480.5 170.5 478.5 169 476.5 169 465.5 169.5 463.5 170.5 461.5 177 457.5 180.5 456 194 454.5ZM374 480.5 379.5 480 402.5 482.5 418.5 483 444.5 489.5 445.5 490.5 446 491.5 446 497.5 447 504.5 339 504.5 339.5 490.5 338.5 484.5 339.5 482.5 342.5 481.5 354.5 482.5 366.5 482 374 480.5Z"/>
<path fill="#f96f53" fill-rule="evenodd" d="M156.5 364.5 173.5 364.5 184.5 368 210.5 368.5 212.5 369.5 214.5 371.5 214.5 379.5 213 381.5 209.5 382.5 184.5 382.5 172.5 382 164.5 383.5 159.5 384 148.5 383 134.5 383 131 381.5 128.5 379.5 128 377.5 128 373.5 129 371.5 133.5 370 147.5 368 156.5 364.5ZM242 365.5 244.5 364.5 246.5 364.5 256.5 368 270.5 368 272.5 368.5 275.5 370.5 276 371.5 276 372.5 274.5 373.5 271.5 374.5 259.5 376 243.5 376 240.5 375 239 372.5 240 369.5 242 365.5ZM107.5 449.5 110.5 449 114.5 449.5 124.5 453.5 127 455.5 127.5 456.5 127.5 458.5 125.5 460.5 116.5 465 113.5 465.5 109.5 465.5 107 463.5 105.5 458.5 105.5 451.5 106 450.5 107.5 449.5ZM187.5 459.5 232.5 459 242.5 459.5 246.5 461 252.5 466 261.5 468 263 469.5 263 471.5 262.5 472.5 260.5 474 253.5 475.5 248.5 480 245.5 481 233.5 481 223.5 482.5 207.5 482.5 179 478.5 177.5 477.5 177 476.5 178 463.5 182.5 460.5 187.5 459.5ZM377 482.5 393.5 483 401.5 485 417.5 486.5 430 488.5 434.5 490.5 435 492.5 434.5 497.5 433.5 499.5 432.5 500 424.5 501.5 422.5 503 421.5 504.5 347 504.5 348 497.5 348 490.5 349.5 488 354.5 486 368.5 485 377 482.5Z"/>
<path fill="#f83c28" fill-rule="evenodd" d="M157.5 368.5 160.5 368 173.5 368 176.5 370 178 372.5 177 374.5 175.5 375.5 168.5 377 162.5 380.5 157.5 381 154.5 379.5 154 378.5 154 374.5 154 372.5 155 370.5 157.5 368.5ZM191.5 462.5 196.5 462 233.5 462 238.5 463 239.5 463.5 240 465.5 238.5 471.5 236.5 474 229.5 475.5 225 478.5 222.5 479.5 208.5 479.5 204.5 478.5 199.5 475 192.5 474 190 472.5 189.5 470.5 189.5 464.5 190 463.5 191.5 462.5ZM376.5 486.5 392.5 486 406.5 488.5 408.5 489.5 409 490.5 409 491.5 407.5 492.5 400.5 494 398 495.5 397.5 497.5 397 504.5 373 504.5 372.5 503.5 370.5 502 363.5 500.5 360.5 499 360 497.5 359.5 494.5 359.5 491.5 360.5 489.5 363.5 488.5 376.5 486.5Z"/>
<path d="M360.1 339.8h0M365.6 339.8h0M371.1 339.8h0M376.6 339.8h0M382.1 339.8h0M362.9 345.3h0M368.4 345.3h0M373.9 345.3h0M379.4 345.3h0M384.9 345.3h0M390.4 345.3h0M395.9 345.3h0M360.1 350.7h0M365.6 350.7h0M371.1 350.7h0M376.6 350.7h0M382.1 350.7h0M387.6 350.7h0M393.1 350.7h0M398.6 350.7h0M404.1 350.7h0M409.6 350.7h0M415.1 350.7h0M379.4 356.2h0M384.9 356.2h0M390.4 356.2h0M395.9 356.2h0M401.4 356.2h0M406.9 356.2h0M412.4 356.2h0M417.9 356.2h0M423.4 356.2h0M428.9 356.2h0M387.6 361.7h0M393.1 361.7h0M398.6 361.7h0M404.1 361.7h0M409.6 361.7h0M415.1 361.7h0M420.6 361.7h0M426.1 361.7h0M431.6 361.7h0M137.4 367.1h0M142.9 367.1h0M148.4 367.1h0M153.9 367.1h0M159.4 367.1h0M164.9 367.1h0M170.4 367.1h0M175.9 367.1h0M181.4 367.1h0M186.9 367.1h0M192.4 367.1h0M197.9 367.1h0M203.4 367.1h0M208.9 367.1h0M214.4 367.1h0M236.4 367.1h0M241.9 367.1h0M247.4 367.1h0M252.9 367.1h0M258.4 367.1h0M263.9 367.1h0M269.4 367.1h0M274.9 367.1h0M123.7 372.6h0M129.2 372.6h0M134.7 372.6h0M140.2 372.6h0M145.7 372.6h0M151.2 372.6h0M156.7 372.6h0M162.2 372.6h0M167.7 372.6h0M173.2 372.6h0M178.7 372.6h0M184.2 372.6h0M189.7 372.6h0M195.2 372.6h0M200.7 372.6h0M206.2 372.6h0M211.7 372.6h0M217.2 372.6h0M222.7 372.6h0M228.2 372.6h0M233.7 372.6h0M239.2 372.6h0M244.7 372.6h0M250.2 372.6h0M255.7 372.6h0M261.1 372.6h0M266.6 372.6h0M272.1 372.6h0M277.6 372.6h0M283.1 372.6h0M448.1 372.6h0M453.6 372.6h0M459.1 372.6h0M464.6 372.6h0M470.1 372.6h0M475.6 372.6h0M481.1 372.6h0M486.6 372.6h0M126.4 378.1h0M131.9 378.1h0M137.4 378.1h0M142.9 378.1h0M148.4 378.1h0M153.9 378.1h0M159.4 378.1h0M164.9 378.1h0M170.4 378.1h0M175.9 378.1h0M181.4 378.1h0M186.9 378.1h0M192.4 378.1h0M197.9 378.1h0M203.4 378.1h0M208.9 378.1h0M214.4 378.1h0M219.9 378.1h0M225.4 378.1h0M230.9 378.1h0M236.4 378.1h0M241.9 378.1h0M247.4 378.1h0M252.9 378.1h0M258.4 378.1h0M263.9 378.1h0M362.9 378.1h0M368.4 378.1h0M373.9 378.1h0M379.4 378.1h0M384.9 378.1h0M439.9 378.1h0M445.4 378.1h0M450.9 378.1h0M456.4 378.1h0M461.9 378.1h0M467.4 378.1h0M472.9 378.1h0M478.4 378.1h0M483.9 378.1h0M129.2 383.5h0M134.7 383.5h0M140.2 383.5h0M145.7 383.5h0M151.2 383.5h0M156.7 383.5h0M162.2 383.5h0M167.7 383.5h0M173.2 383.5h0M178.7 383.5h0M184.2 383.5h0M189.7 383.5h0M195.2 383.5h0M200.7 383.5h0M206.2 383.5h0M211.7 383.5h0M217.2 383.5h0M222.7 383.5h0M228.2 383.5h0M316.1 383.5h0M321.6 383.5h0M327.1 383.5h0M332.6 383.5h0M338.1 383.5h0M343.6 383.5h0M349.1 383.5h0M354.6 383.5h0M360.1 383.5h0M365.6 383.5h0M371.1 383.5h0M376.6 383.5h0M382.1 383.5h0M387.6 383.5h0M393.1 383.5h0M398.6 383.5h0M404.1 383.5h0M409.6 383.5h0M415.1 383.5h0M448.1 383.5h0M453.6 383.5h0M459.1 383.5h0M464.6 383.5h0M470.1 383.5h0M475.6 383.5h0M302.4 389.0h0M307.9 389.0h0M313.4 389.0h0M318.9 389.0h0M324.4 389.0h0M329.9 389.0h0M335.4 389.0h0M340.9 389.0h0M346.4 389.0h0M351.9 389.0h0M357.4 389.0h0M362.9 389.0h0M368.4 389.0h0M373.9 389.0h0M379.4 389.0h0M384.9 389.0h0M390.4 389.0h0M395.9 389.0h0M401.4 389.0h0M406.9 389.0h0M412.4 389.0h0M417.9 389.0h0M423.4 389.0h0M428.9 389.0h0M272.1 394.5h0M277.6 394.5h0M283.1 394.5h0M288.6 394.5h0M294.1 394.5h0M299.6 394.5h0M305.1 394.5h0M310.6 394.5h0M316.1 394.5h0M321.6 394.5h0M327.1 394.5h0M332.6 394.5h0M338.1 394.5h0M343.6 394.5h0M349.1 394.5h0M354.6 394.5h0M360.1 394.5h0M365.6 394.5h0M371.1 394.5h0M376.6 394.5h0M382.1 394.5h0M387.6 394.5h0M393.1 394.5h0M398.6 394.5h0M404.1 394.5h0M409.6 394.5h0M415.1 394.5h0M420.6 394.5h0M426.1 394.5h0M431.6 394.5h0M437.1 394.5h0M252.9 400.0h0M258.4 400.0h0M263.9 400.0h0M269.4 400.0h0M274.9 400.0h0M280.4 400.0h0M285.9 400.0h0M291.4 400.0h0M296.9 400.0h0M302.4 400.0h0M307.9 400.0h0M313.4 400.0h0M318.9 400.0h0M324.4 400.0h0M329.9 400.0h0M335.4 400.0h0M340.9 400.0h0M346.4 400.0h0M351.9 400.0h0M357.4 400.0h0M362.9 400.0h0M368.4 400.0h0M373.9 400.0h0M379.4 400.0h0M384.9 400.0h0M390.4 400.0h0M395.9 400.0h0M401.4 400.0h0M406.9 400.0h0M412.4 400.0h0M417.9 400.0h0M423.4 400.0h0M428.9 400.0h0M434.4 400.0h0M439.9 400.0h0M445.4 400.0h0M250.2 405.4h0M255.7 405.4h0M261.1 405.4h0M266.6 405.4h0M272.1 405.4h0M277.6 405.4h0M283.1 405.4h0M288.6 405.4h0M294.1 405.4h0M299.6 405.4h0M305.1 405.4h0M310.6 405.4h0M316.1 405.4h0M321.6 405.4h0M327.1 405.4h0M332.6 405.4h0M338.1 405.4h0M343.6 405.4h0M349.1 405.4h0M354.6 405.4h0M360.1 405.4h0M365.6 405.4h0M371.1 405.4h0M376.6 405.4h0M382.1 405.4h0M387.6 405.4h0M393.1 405.4h0M398.6 405.4h0M404.1 405.4h0M409.6 405.4h0M415.1 405.4h0M420.6 405.4h0M426.1 405.4h0M431.6 405.4h0M437.1 405.4h0M442.6 405.4h0M54.9 410.9h0M60.4 410.9h0M65.9 410.9h0M71.4 410.9h0M76.9 410.9h0M82.4 410.9h0M87.9 410.9h0M93.4 410.9h0M98.9 410.9h0M104.4 410.9h0M109.9 410.9h0M153.9 410.9h0M159.4 410.9h0M164.9 410.9h0M170.4 410.9h0M175.9 410.9h0M181.4 410.9h0M258.4 410.9h0M263.9 410.9h0M269.4 410.9h0M274.9 410.9h0M280.4 410.9h0M285.9 410.9h0M291.4 410.9h0M296.9 410.9h0M302.4 410.9h0M307.9 410.9h0M313.4 410.9h0M318.9 410.9h0M324.4 410.9h0M329.9 410.9h0M335.4 410.9h0M340.9 410.9h0M346.4 410.9h0M351.9 410.9h0M357.4 410.9h0M362.9 410.9h0M368.4 410.9h0M373.9 410.9h0M379.4 410.9h0M384.9 410.9h0M390.4 410.9h0M395.9 410.9h0M401.4 410.9h0M406.9 410.9h0M412.4 410.9h0M417.9 410.9h0M423.4 410.9h0M428.9 410.9h0M434.4 410.9h0M439.9 410.9h0M445.4 410.9h0M450.9 410.9h0M456.4 410.9h0M461.9 410.9h0M467.4 410.9h0M472.9 410.9h0M52.2 416.4h0M57.7 416.4h0M63.2 416.4h0M68.7 416.4h0M74.2 416.4h0M79.7 416.4h0M85.2 416.4h0M90.7 416.4h0M96.2 416.4h0M101.7 416.4h0M107.2 416.4h0M112.7 416.4h0M118.2 416.4h0M123.7 416.4h0M129.2 416.4h0M134.7 416.4h0M140.2 416.4h0M145.7 416.4h0M151.2 416.4h0M156.7 416.4h0M162.2 416.4h0M167.7 416.4h0M173.2 416.4h0M178.7 416.4h0M184.2 416.4h0M189.7 416.4h0M195.2 416.4h0M200.7 416.4h0M206.2 416.4h0M211.7 416.4h0M217.2 416.4h0M261.1 416.4h0M266.6 416.4h0M272.1 416.4h0M277.6 416.4h0M283.1 416.4h0M288.6 416.4h0M294.1 416.4h0M299.6 416.4h0M305.1 416.4h0M310.6 416.4h0M316.1 416.4h0M321.6 416.4h0M327.1 416.4h0M332.6 416.4h0M338.1 416.4h0M343.6 416.4h0M349.1 416.4h0M354.6 416.4h0M360.1 416.4h0M365.6 416.4h0M371.1 416.4h0M376.6 416.4h0M382.1 416.4h0M387.6 416.4h0M393.1 416.4h0M398.6 416.4h0M404.1 416.4h0M409.6 416.4h0M415.1 416.4h0M420.6 416.4h0M426.1 416.4h0M431.6 416.4h0M437.1 416.4h0M442.6 416.4h0M448.1 416.4h0M453.6 416.4h0M459.1 416.4h0M464.6 416.4h0M470.1 416.4h0M475.6 416.4h0M481.1 416.4h0M486.6 416.4h0M54.9 421.8h0M60.4 421.8h0M65.9 421.8h0M71.4 421.8h0M76.9 421.8h0M82.4 421.8h0M87.9 421.8h0M93.4 421.8h0M98.9 421.8h0M104.4 421.8h0M109.9 421.8h0M115.4 421.8h0M120.9 421.8h0M126.4 421.8h0M131.9 421.8h0M137.4 421.8h0M142.9 421.8h0M148.4 421.8h0M153.9 421.8h0M159.4 421.8h0M164.9 421.8h0M170.4 421.8h0M175.9 421.8h0M181.4 421.8h0M186.9 421.8h0M192.4 421.8h0M197.9 421.8h0M203.4 421.8h0M208.9 421.8h0M214.4 421.8h0M219.9 421.8h0M225.4 421.8h0M230.9 421.8h0M263.9 421.8h0M269.4 421.8h0M274.9 421.8h0M280.4 421.8h0M285.9 421.8h0M291.4 421.8h0M296.9 421.8h0M302.4 421.8h0M307.9 421.8h0M313.4 421.8h0M318.9 421.8h0M324.4 421.8h0M329.9 421.8h0M335.4 421.8h0M340.9 421.8h0M346.4 421.8h0M351.9 421.8h0M357.4 421.8h0M362.9 421.8h0M368.4 421.8h0M373.9 421.8h0M379.4 421.8h0M384.9 421.8h0M390.4 421.8h0M395.9 421.8h0M401.4 421.8h0M406.9 421.8h0M412.4 421.8h0M417.9 421.8h0M423.4 421.8h0M428.9 421.8h0M434.4 421.8h0M439.9 421.8h0M445.4 421.8h0M450.9 421.8h0M456.4 421.8h0M461.9 421.8h0M467.4 421.8h0M472.9 421.8h0M478.4 421.8h0M483.9 421.8h0M52.2 427.3h0M57.7 427.3h0M63.2 427.3h0M68.7 427.3h0M74.2 427.3h0M79.7 427.3h0M85.2 427.3h0M90.7 427.3h0M96.2 427.3h0M101.7 427.3h0M107.2 427.3h0M112.7 427.3h0M118.2 427.3h0M123.7 427.3h0M129.2 427.3h0M134.7 427.3h0M140.2 427.3h0M145.7 427.3h0M151.2 427.3h0M156.7 427.3h0M162.2 427.3h0M167.7 427.3h0M173.2 427.3h0M178.7 427.3h0M184.2 427.3h0M189.7 427.3h0M195.2 427.3h0M200.7 427.3h0M206.2 427.3h0M211.7 427.3h0M217.2 427.3h0M222.7 427.3h0M228.2 427.3h0M233.7 427.3h0M261.1 427.3h0M266.6 427.3h0M272.1 427.3h0M277.6 427.3h0M283.1 427.3h0M288.6 427.3h0M294.1 427.3h0M299.6 427.3h0M305.1 427.3h0M310.6 427.3h0M316.1 427.3h0M321.6 427.3h0M327.1 427.3h0M332.6 427.3h0M338.1 427.3h0M343.6 427.3h0M349.1 427.3h0M354.6 427.3h0M360.1 427.3h0M365.6 427.3h0M371.1 427.3h0M376.6 427.3h0M382.1 427.3h0M387.6 427.3h0M393.1 427.3h0M398.6 427.3h0M404.1 427.3h0M409.6 427.3h0M415.1 427.3h0M420.6 427.3h0M426.1 427.3h0M431.6 427.3h0M437.1 427.3h0M442.6 427.3h0M448.1 427.3h0M453.6 427.3h0M459.1 427.3h0M464.6 427.3h0M470.1 427.3h0M475.6 427.3h0M481.1 427.3h0M486.6 427.3h0M54.9 432.8h0M60.4 432.8h0M65.9 432.8h0M71.4 432.8h0M76.9 432.8h0M82.4 432.8h0M87.9 432.8h0M93.4 432.8h0M98.9 432.8h0M104.4 432.8h0M109.9 432.8h0M115.4 432.8h0M120.9 432.8h0M126.4 432.8h0M131.9 432.8h0M137.4 432.8h0M142.9 432.8h0M148.4 432.8h0M153.9 432.8h0M159.4 432.8h0M164.9 432.8h0M170.4 432.8h0M175.9 432.8h0M181.4 432.8h0M186.9 432.8h0M192.4 432.8h0M197.9 432.8h0M203.4 432.8h0M208.9 432.8h0M214.4 432.8h0M219.9 432.8h0M225.4 432.8h0M230.9 432.8h0M263.9 432.8h0M269.4 432.8h0M274.9 432.8h0M280.4 432.8h0M285.9 432.8h0M291.4 432.8h0M296.9 432.8h0M302.4 432.8h0M307.9 432.8h0M313.4 432.8h0M318.9 432.8h0M324.4 432.8h0M329.9 432.8h0M335.4 432.8h0M340.9 432.8h0M346.4 432.8h0M351.9 432.8h0M357.4 432.8h0M362.9 432.8h0M368.4 432.8h0M373.9 432.8h0M379.4 432.8h0M384.9 432.8h0M390.4 432.8h0M395.9 432.8h0M401.4 432.8h0M406.9 432.8h0M412.4 432.8h0M417.9 432.8h0M423.4 432.8h0M428.9 432.8h0M434.4 432.8h0M439.9 432.8h0M445.4 432.8h0M450.9 432.8h0M456.4 432.8h0M461.9 432.8h0M467.4 432.8h0M472.9 432.8h0M52.2 438.2h0M57.7 438.2h0M107.2 438.2h0M112.7 438.2h0M118.2 438.2h0M123.7 438.2h0M129.2 438.2h0M134.7 438.2h0M140.2 438.2h0M145.7 438.2h0M151.2 438.2h0M156.7 438.2h0M162.2 438.2h0M167.7 438.2h0M173.2 438.2h0M178.7 438.2h0M184.2 438.2h0M189.7 438.2h0M195.2 438.2h0M200.7 438.2h0M206.2 438.2h0M211.7 438.2h0M266.6 438.2h0M272.1 438.2h0M277.6 438.2h0M283.1 438.2h0M288.6 438.2h0M294.1 438.2h0M299.6 438.2h0M305.1 438.2h0M310.6 438.2h0M316.1 438.2h0M321.6 438.2h0M327.1 438.2h0M332.6 438.2h0M338.1 438.2h0M343.6 438.2h0M349.1 438.2h0M354.6 438.2h0M360.1 438.2h0M365.6 438.2h0M371.1 438.2h0M376.6 438.2h0M382.1 438.2h0M387.6 438.2h0M393.1 438.2h0M398.6 438.2h0M404.1 438.2h0M409.6 438.2h0M415.1 438.2h0M420.6 438.2h0M426.1 438.2h0M431.6 438.2h0M437.1 438.2h0M442.6 438.2h0M448.1 438.2h0M453.6 438.2h0M459.1 438.2h0M464.6 438.2h0M274.9 443.7h0M280.4 443.7h0M285.9 443.7h0M291.4 443.7h0M296.9 443.7h0M302.4 443.7h0M307.9 443.7h0M313.4 443.7h0M318.9 443.7h0M324.4 443.7h0M329.9 443.7h0M335.4 443.7h0M340.9 443.7h0M346.4 443.7h0M351.9 443.7h0M357.4 443.7h0M362.9 443.7h0M368.4 443.7h0M373.9 443.7h0M379.4 443.7h0M384.9 443.7h0M390.4 443.7h0M395.9 443.7h0M401.4 443.7h0M406.9 443.7h0M412.4 443.7h0M434.4 443.7h0M439.9 443.7h0M445.4 443.7h0M450.9 443.7h0M456.4 443.7h0M461.9 443.7h0M467.4 443.7h0M74.2 449.2h0M79.7 449.2h0M85.2 449.2h0M90.7 449.2h0M96.2 449.2h0M101.7 449.2h0M107.2 449.2h0M112.7 449.2h0M118.2 449.2h0M123.7 449.2h0M277.6 449.2h0M283.1 449.2h0M288.6 449.2h0M294.1 449.2h0M299.6 449.2h0M305.1 449.2h0M310.6 449.2h0M316.1 449.2h0M321.6 449.2h0M327.1 449.2h0M332.6 449.2h0M338.1 449.2h0M343.6 449.2h0M349.1 449.2h0M354.6 449.2h0M360.1 449.2h0M365.6 449.2h0M371.1 449.2h0M376.6 449.2h0M382.1 449.2h0M387.6 449.2h0M393.1 449.2h0M398.6 449.2h0M404.1 449.2h0M76.9 454.7h0M82.4 454.7h0M87.9 454.7h0M93.4 454.7h0M98.9 454.7h0M104.4 454.7h0M109.9 454.7h0M115.4 454.7h0M120.9 454.7h0M126.4 454.7h0M131.9 454.7h0M197.9 454.7h0M203.4 454.7h0M208.9 454.7h0M214.4 454.7h0M219.9 454.7h0M225.4 454.7h0M230.9 454.7h0M236.4 454.7h0M241.9 454.7h0M280.4 454.7h0M285.9 454.7h0M291.4 454.7h0M296.9 454.7h0M302.4 454.7h0M307.9 454.7h0M313.4 454.7h0M318.9 454.7h0M324.4 454.7h0M329.9 454.7h0M335.4 454.7h0M340.9 454.7h0M346.4 454.7h0M351.9 454.7h0M357.4 454.7h0M362.9 454.7h0M368.4 454.7h0M373.9 454.7h0M379.4 454.7h0M384.9 454.7h0M390.4 454.7h0M395.9 454.7h0M401.4 454.7h0M96.2 460.1h0M101.7 460.1h0M107.2 460.1h0M112.7 460.1h0M118.2 460.1h0M123.7 460.1h0M129.2 460.1h0M173.2 460.1h0M178.7 460.1h0M184.2 460.1h0M189.7 460.1h0M195.2 460.1h0M200.7 460.1h0M206.2 460.1h0M211.7 460.1h0M217.2 460.1h0M222.7 460.1h0M228.2 460.1h0M233.7 460.1h0M239.2 460.1h0M244.7 460.1h0M250.2 460.1h0M255.7 460.1h0M266.6 460.1h0M294.1 460.1h0M299.6 460.1h0M305.1 460.1h0M310.6 460.1h0M316.1 460.1h0M321.6 460.1h0M327.1 460.1h0M332.6 460.1h0M338.1 460.1h0M343.6 460.1h0M349.1 460.1h0M354.6 460.1h0M360.1 460.1h0M365.6 460.1h0M371.1 460.1h0M376.6 460.1h0M382.1 460.1h0M387.6 460.1h0M393.1 460.1h0M398.6 460.1h0M404.1 460.1h0M104.4 465.6h0M109.9 465.6h0M115.4 465.6h0M120.9 465.6h0M126.4 465.6h0M170.4 465.6h0M175.9 465.6h0M181.4 465.6h0M186.9 465.6h0M192.4 465.6h0M197.9 465.6h0M203.4 465.6h0M208.9 465.6h0M214.4 465.6h0M219.9 465.6h0M225.4 465.6h0M230.9 465.6h0M236.4 465.6h0M241.9 465.6h0M247.4 465.6h0M252.9 465.6h0M258.4 465.6h0M263.9 465.6h0M269.4 465.6h0M318.9 465.6h0M324.4 465.6h0M329.9 465.6h0M335.4 465.6h0M340.9 465.6h0M346.4 465.6h0M351.9 465.6h0M357.4 465.6h0M362.9 465.6h0M368.4 465.6h0M373.9 465.6h0M379.4 465.6h0M384.9 465.6h0M390.4 465.6h0M395.9 465.6h0M401.4 465.6h0M173.2 471.1h0M178.7 471.1h0M184.2 471.1h0M189.7 471.1h0M195.2 471.1h0M200.7 471.1h0M206.2 471.1h0M211.7 471.1h0M217.2 471.1h0M222.7 471.1h0M228.2 471.1h0M233.7 471.1h0M239.2 471.1h0M244.7 471.1h0M250.2 471.1h0M255.7 471.1h0M261.1 471.1h0M266.6 471.1h0M272.1 471.1h0M277.6 471.1h0M283.1 471.1h0M288.6 471.1h0M382.1 471.1h0M387.6 471.1h0M393.1 471.1h0M398.6 471.1h0M60.4 476.5h0M65.9 476.5h0M71.4 476.5h0M76.9 476.5h0M82.4 476.5h0M87.9 476.5h0M170.4 476.5h0M175.9 476.5h0M181.4 476.5h0M186.9 476.5h0M192.4 476.5h0M197.9 476.5h0M203.4 476.5h0M208.9 476.5h0M214.4 476.5h0M219.9 476.5h0M225.4 476.5h0M230.9 476.5h0M236.4 476.5h0M241.9 476.5h0M247.4 476.5h0M252.9 476.5h0M258.4 476.5h0M263.9 476.5h0M269.4 476.5h0M274.9 476.5h0M280.4 476.5h0M285.9 476.5h0M57.7 482.0h0M63.2 482.0h0M68.7 482.0h0M74.2 482.0h0M79.7 482.0h0M189.7 482.0h0M195.2 482.0h0M200.7 482.0h0M206.2 482.0h0M211.7 482.0h0M217.2 482.0h0M222.7 482.0h0M228.2 482.0h0M233.7 482.0h0M239.2 482.0h0M244.7 482.0h0M250.2 482.0h0M343.6 482.0h0M349.1 482.0h0M354.6 482.0h0M360.1 482.0h0M365.6 482.0h0M371.1 482.0h0M376.6 482.0h0M382.1 482.0h0M387.6 482.0h0M393.1 482.0h0M398.6 482.0h0M340.9 487.5h0M346.4 487.5h0M351.9 487.5h0M357.4 487.5h0M362.9 487.5h0M368.4 487.5h0M373.9 487.5h0M379.4 487.5h0M384.9 487.5h0M390.4 487.5h0M395.9 487.5h0M401.4 487.5h0M406.9 487.5h0M412.4 487.5h0M417.9 487.5h0M423.4 487.5h0M428.9 487.5h0M434.4 487.5h0M343.6 492.9h0M349.1 492.9h0M354.6 492.9h0M360.1 492.9h0M365.6 492.9h0M371.1 492.9h0M376.6 492.9h0M382.1 492.9h0M387.6 492.9h0M393.1 492.9h0M398.6 492.9h0M404.1 492.9h0M409.6 492.9h0M415.1 492.9h0M420.6 492.9h0M426.1 492.9h0M431.6 492.9h0M437.1 492.9h0M442.6 492.9h0M340.9 498.4h0M346.4 498.4h0M351.9 498.4h0M357.4 498.4h0M362.9 498.4h0M368.4 498.4h0M373.9 498.4h0M379.4 498.4h0M384.9 498.4h0M390.4 498.4h0M395.9 498.4h0M401.4 498.4h0M406.9 498.4h0M412.4 498.4h0M417.9 498.4h0M423.4 498.4h0M428.9 498.4h0M434.4 498.4h0M439.9 498.4h0M445.4 498.4h0" stroke="#000" stroke-width="2.5" stroke-linecap="round"/>
<path d="M126.3 383.6 123.5 383.3 121.1 383.9 117.7 383.2 115.0 381.9 112.5 381.6 111.3 382.7 110.8 384.6 108.9 384.5 106.0 383.2 105.5 382.3 102.8 381.5 100.6 381.1 99.3 379.8 100.4 377.9 99.8 376.5 100.5 376.0 98.9 375.7 96.7 376.2 93.1 376.4 90.7 376.4 88.2 376.8 85.8 377.9 84.3 378.6 81.5 378.5 79.8 377.7 79.1 379.4 77.8 380.6 75.7 382.0 75.1 384.5 75.3 385.4 73.6 387.5 71.2 388.3 69.4 390.4 67.7 393.2 66.3 396.6 67.2 399.1 67.0 402.4 66.6 404.2 65.7 405.4 66.6 407.4 66.7 408.4 68.3 409.7 69.7 411.6 70.9 413.0 71.9 415.0 73.4 415.9 75.4 417.6 77.9 418.9 80.3 418.1 82.7 418.0 84.6 418.5 87.0 417.3 89.2 416.6 91.3 416.3 92.8 416.7 94.2 419.1 95.5 418.9 97.3 418.7 98.6 419.6 98.9 421.7 98.6 423.4 98.2 425.4 98.8 427.3 100.5 429.8 101.6 431.3 102.0 432.7 102.8 435.1 103.3 437.2 103.8 439.1 103.5 440.6 102.1 443.0 101.4 445.7 101.4 447.4 102.6 450.3 103.9 453.2 104.6 454.8 105.1 458.2 105.6 460.2 107.1 462.3 108.2 464.5 109.1 466.3 109.4 468.6 109.5 469.5 110.8 470.4 111.9 470.0 114.4 469.4 117.2 469.6 119.2 469.1 121.1 467.6 122.9 465.7 124.5 463.8 125.9 462.4 126.7 460.2 127.0 458.8 127.8 458.1 129.6 457.0 130.2 455.6 130.1 453.6 129.3 451.2 131.2 449.5 132.6 447.7 135.2 446.2 136.4 444.4 136.3 441.1 136.2 438.4 134.9 435.2 134.7 433.2 134.2 431.3 135.2 430.2 135.9 428.2 137.5 426.9 138.8 425.4 140.5 423.4 142.4 421.9 143.9 420.2 145.4 418.4 146.6 416.2 147.8 413.8 148.8 412.2 149.3 410.9 149.4 409.2 148.4 409.1 146.6 409.9 144.8 410.1 143.0 410.5 141.1 411.0 139.7 409.6 139.1 408.4 137.9 406.8 136.8 405.7 135.3 404.6 134.3 402.9 133.8 401.1 132.5 398.8 132.3 397.1 131.9 395.8 130.4 393.3 129.6 391.2 128.7 389.5 127.8 388.2 126.8 386.5 126.5 385.4M126.5 385.4 127.4 387.1 128.7 388.3 129.1 387.1 129.6 386.0 129.5 387.3 130.4 389.0 131.5 390.8 132.6 392.9 134.1 395.0 134.6 396.6 135.7 398.6 137.1 401.3 138.5 403.4 139.1 405.3 139.7 407.2 139.9 408.0 141.8 407.9 144.2 407.0 146.3 406.3 147.8 405.1 150.5 404.2 152.1 402.9 154.3 402.0 155.6 401.1 157.1 399.9 157.3 398.2 158.3 397.3 159.8 395.3 159.0 394.6 158.3 393.7 157.0 393.4 155.6 392.1 155.5 390.3 154.6 391.1 153.3 392.8 151.5 393.0 149.8 392.9 149.8 391.5 149.4 390.4 148.8 392.0 148.0 390.8 147.8 389.8 146.6 388.6 145.9 387.3 145.3 385.8 146.1 385.4 147.3 385.3 148.1 386.1 148.8 387.3 149.7 388.1 151.5 389.2 153.6 389.9 155.5 389.0 156.8 390.8 159.5 391.3 161.9 391.6 164.3 391.6 167.8 391.3 168.6 392.3 169.1 393.3 170.6 394.0 172.5 394.8 171.2 395.4 172.8 397.3 175.3 396.6 175.6 398.4 175.6 399.9 176.1 401.7 176.4 403.8 177.2 405.4 177.9 407.6 178.7 409.6 179.7 411.7 180.4 413.4 181.3 414.1 182.1 413.0 183.1 411.7 184.1 411.2 184.2 409.6 184.7 407.0 184.6 405.0 185.3 403.9 187.0 402.9 188.5 401.6 190.2 399.5 192.2 398.2 192.8 396.5 194.3 396.2 195.3 395.9 197.1 395.8 198.7 395.5 198.9 396.9 199.4 397.6 200.5 398.7 201.6 400.3 202.0 402.4 201.7 403.7 202.9 403.9 204.4 403.0 205.7 403.0 205.9 405.0 206.5 407.0 206.8 408.9 207.0 410.9 206.6 412.9 206.6 414.5 207.8 415.8 209.0 417.5 209.3 419.4 210.2 421.0 212.0 422.3 212.9 423.0 213.8 422.9 212.9 421.0 212.8 419.4 212.2 417.3 211.2 416.6 210.2 415.6 209.2 415.0 208.7 413.5 207.7 412.5 207.7 410.9 208.1 409.6 208.5 407.9 208.8 407.1 209.8 407.1 209.8 408.0 210.7 408.2 211.8 408.8 212.3 410.3 213.0 410.9 214.0 411.0 214.5 412.1 214.5 413.4 215.0 413.3 216.5 412.2 216.8 411.0 218.0 410.8 219.5 409.9 219.9 408.9 220.0 407.0 219.5 404.7 218.8 403.6 217.4 402.4 216.6 401.3 215.6 399.7 216.0 398.6 216.8 397.5 218.3 396.5 219.0 396.2 220.3 396.5 220.7 398.0 221.4 397.4 222.8 396.3 224.5 395.8 225.5 395.4 226.1 395.3 227.9 394.8 229.0 394.1 230.3 393.2 231.4 392.4 232.5 391.1 232.5 389.5 233.5 388.6 234.2 387.3 235.1 386.2 235.3 385.3 234.5 384.4 235.3 383.9 234.2 382.3 233.7 381.0 233.1 379.7 232.0 379.0 232.6 378.1 233.7 377.3 234.8 376.4 236.0 376.1 235.6 375.4 233.9 375.1 232.1 376.0 231.7 375.3 230.6 374.7 230.0 373.9 230.4 373.2 231.7 373.3 232.5 372.3 233.7 371.6 234.9 371.0 235.7 371.6 234.7 372.8 234.6 373.6 235.2 373.5 236.3 372.7 237.4 372.4 238.2 372.3 239.0 372.7 239.4 373.5 239.2 374.4 239.9 375.1 240.5 375.2 241.0 376.1 240.5 376.8 240.9 377.9 240.7 379.3 242.0 379.3 243.3 378.7 244.2 378.5 244.6 377.4 244.4 376.1 243.8 375.3 243.1 374.1 242.2 373.1 242.6 372.3 243.5 371.8 244.8 371.0 244.8 370.1 245.8 369.1 246.6 368.5 248.0 367.8 249.4 368.5 251.2 367.6 253.1 366.1 254.8 364.5 255.5 363.0 256.7 361.4 257.7 360.1 257.9 358.4 257.9 356.7 259.0 355.2 258.5 354.0 257.1 353.5 255.1 354.0 253.9 353.6 254.5 352.7 251.9 352.9 253.6 351.3 255.1 350.5 257.2 349.1 259.0 347.7 260.5 346.8 263.4 346.7 265.1 346.7 267.6 346.8 269.7 346.4 271.9 347.2 274.6 347.0 275.6 345.9 277.4 344.2 279.8 343.5 281.7 343.3 282.3 344.6 281.1 345.2 279.2 348.5 277.7 349.8 276.9 351.4 276.3 353.1 277.3 356.0 277.7 357.7 279.2 356.7 280.1 355.2 281.5 354.8 281.7 353.5 283.9 352.2 284.2 351.0 285.7 350.8 284.3 348.8 285.7 347.5 287.8 346.0 289.3 346.2 291.4 345.2 294.2 345.9 295.7 345.2 297.5 344.1 299.4 343.4 301.7 342.6 304.7 342.2 305.1 341.0 303.8 340.3 305.4 339.9 307.2 339.3 309.6 338.8 312.1 340.0 314.5 340.3 316.3 339.6 315.1 338.5 317.9 338.2 318.5 337.9 316.3 337.0 313.3 336.6 310.9 334.3 307.8 333.7 305.4 334.1 301.1 333.0 297.5 332.9 294.2 332.6 290.8 333.3 286.5 333.2 282.9 333.3 281.7 331.7 278.0 331.5 273.1 331.6 269.7 330.7 265.9 329.7 261.0 329.2 257.3 329.6 254.9 330.7 251.2 330.8 248.2 330.4 245.2 331.6 243.3 330.8 244.6 329.5 242.7 328.7 240.9 328.2 237.3 328.0 234.2 329.0 230.6 328.0 225.7 328.0 223.9 327.3 222.1 327.5 220.8 326.5 223.9 325.1 225.5 324.5 222.1 324.0 217.2 323.7 213.9 322.7 210.5 324.1 207.4 324.4 205.0 325.0 201.4 325.0 197.7 326.2 194.1 325.9 192.2 326.7 192.8 327.6 191.0 328.2 186.8 327.9 184.9 328.2 184.9 329.9 187.0 330.3 184.3 329.7 182.1 329.7 181.3 330.3 179.2 329.6 178.9 331.5 177.6 333.4 176.4 334.6 177.0 336.1 175.2 337.6 174.6 336.7 174.0 334.7 175.9 334.1 175.2 332.4 175.6 331.1 174.4 330.3 175.5 329.1 172.8 328.4 170.9 329.5 169.1 330.8 168.3 332.0 168.9 333.4 167.8 334.3 165.5 333.8 161.1 332.9 159.5 334.6 157.0 334.6 153.9 335.0 152.3 334.2 152.1 335.1 147.8 335.8 145.4 335.8 143.0 335.4 140.5 334.7 139.7 334.6 140.8 336.2 140.3 337.8 138.2 337.4 136.3 337.9 135.4 339.2 132.0 340.8 130.2 340.0 129.3 338.2 127.4 337.2 129.6 336.8 134.4 337.0 136.9 336.3 135.9 335.5 133.2 335.0 130.2 333.8 127.1 333.6 124.7 333.0 121.7 331.8 118.5 331.3 115.6 332.0 112.5 332.5 109.5 332.9 107.1 334.1 105.2 335.3 103.4 336.7 102.2 338.3 101.0 339.6 99.2 340.8 97.3 341.6 94.9 342.5 93.1 343.5 93.2 345.2 93.4 346.8 93.8 347.5 94.9 348.4 96.6 348.5 98.6 347.3 99.8 346.6 100.1 347.3 100.9 347.9 101.4 348.9 102.1 350.4 102.6 351.7 104.4 351.7 105.0 350.9 106.5 350.8 107.2 349.7 107.4 348.0 108.9 347.2 110.0 346.0 108.3 345.1 108.0 343.5 108.8 342.4 110.7 341.2 112.5 340.0 113.2 338.8 114.1 338.3 116.4 338.3 117.9 339.3 117.7 340.0 115.6 340.9 113.8 342.0 112.9 343.3 113.2 344.7 114.4 345.5 115.6 346.0 118.6 345.4 121.1 345.2 123.3 345.6 122.5 346.2 121.1 346.6 119.2 346.6 116.2 346.8 115.6 347.3 116.4 348.1 116.6 349.3 116.0 349.8 114.4 349.1 113.0 349.7 112.5 350.9 112.8 352.1 112.1 352.6 110.8 353.3 109.6 353.0 107.7 352.7 105.9 353.5 104.3 353.9 102.8 353.3 101.0 353.5 100.3 353.8 100.3 352.5 99.2 351.8 99.7 350.8 99.9 349.1 98.9 349.4 97.5 349.7 96.9 350.5 97.0 351.8 97.5 352.6 98.0 353.8 97.6 354.2 96.7 354.3 95.5 354.6 94.3 354.6 93.1 354.8 92.6 355.8 91.9 356.5 91.0 357.2 90.0 357.6 88.9 357.9 88.8 358.8 87.2 359.4 86.4 360.0 85.4 359.8 84.7 359.4 85.1 360.7 83.3 360.6 81.3 361.0 81.8 361.9 83.6 362.3 84.3 362.8 85.1 363.9 85.5 364.8 85.4 366.5 85.1 367.7 84.0 367.7 82.1 367.6 79.7 367.4 77.3 367.3 75.7 368.0 76.0 369.5 76.3 370.9 76.0 372.2 75.4 373.7 76.2 374.1 76.3 375.4 76.0 376.1 77.9 376.0 79.2 376.4 79.7 377.2 80.4 377.4 81.5 376.6 83.5 376.5 84.4 376.4 85.2 375.6 86.1 375.3 87.2 373.9 86.6 373.0 87.0 372.2 88.0 371.1 89.7 370.5 90.9 369.7 90.8 368.2 91.9 367.6 93.3 367.8 94.9 368.1 96.1 367.2 97.7 366.4 99.2 366.9 99.8 368.2 100.6 369.0 102.1 370.1 103.4 370.6 104.0 371.1 105.2 371.9 106.1 372.3 106.6 373.7 106.1 374.8 106.6 374.8 107.2 374.0 107.9 373.2 107.2 371.9 107.9 371.5 109.4 372.0 108.9 371.2 107.6 370.6 106.2 369.8 104.6 369.1 103.5 367.6 102.1 366.5 102.0 365.2 103.4 364.7 103.8 365.5 104.6 365.3 105.5 366.5 106.5 367.6 108.3 368.2 109.5 369.0 110.6 369.8 110.5 371.2 111.2 372.4 112.2 373.5 112.7 374.4 113.3 376.0 114.4 376.9 115.1 376.6 114.7 375.3 115.6 374.8 116.2 374.4 115.0 373.3 114.5 372.2 115.5 371.8 116.6 371.1 118.6 371.1 118.9 371.8 119.4 372.8 119.6 373.9 120.1 375.1 120.5 376.1 121.4 376.4 122.9 377.0 124.2 376.4 125.7 376.6 126.9 377.4 128.4 377.0 129.3 376.4 130.7 376.6 130.6 377.9 130.7 378.9 130.2 380.2 129.7 381.2 129.5 382.1 129.0 383.2 127.8 383.7 126.3 383.6M121.1 369.8 121.8 367.6 121.8 366.5 123.0 365.3 124.4 363.8 125.7 363.6 127.9 364.2 126.7 365.1 127.8 366.3 129.8 365.9 131.4 365.3 133.2 363.0 134.7 362.7 133.5 363.8 132.7 364.9 133.6 366.1 135.2 367.6 137.5 369.5 137.5 370.2 135.7 371.0 133.5 371.0 131.8 370.3 129.8 369.5 127.4 369.5 125.1 370.6 122.5 370.6 121.1 369.8M146.6 363.6 149.3 363.0 151.7 363.4 151.5 365.2 149.4 366.3 149.4 368.1 151.1 368.9 151.2 370.6 152.7 371.1 152.5 372.8 152.6 375.7 149.7 376.4 146.7 375.3 146.5 374.3 147.1 372.0 148.2 371.8 146.7 370.5 144.8 368.4 144.8 367.0 143.8 366.3 144.5 364.8 146.6 363.6M80.9 359.0 83.3 358.2 85.8 358.1 88.6 357.6 89.1 355.6 87.4 354.6 86.4 353.1 85.2 351.9 84.6 351.2 84.0 350.5 84.8 349.2 83.3 347.7 80.9 347.7 80.1 349.2 80.3 350.8 79.5 351.2 81.0 352.3 83.0 352.7 82.7 353.5 83.3 354.6 81.4 354.7 82.0 355.4 80.7 356.7 83.1 357.2 81.5 357.6 80.9 359.0M79.7 356.1 79.5 353.9 80.3 353.0 79.3 352.2 78.0 352.1 76.7 352.6 76.7 353.5 74.8 353.5 75.4 354.7 74.5 356.4 76.0 356.9 77.3 356.7 79.7 356.1M60.2 340.8 63.9 341.4 67.5 340.6 70.0 340.0 70.5 338.7 68.8 337.8 66.3 337.9 62.7 338.0 59.6 337.5 57.8 338.7 60.2 339.6 57.8 339.6 60.2 340.8M101.0 321.5 104.6 319.9 108.9 319.4 113.8 319.8 119.8 319.6 115.0 321.5 112.5 322.0 113.8 323.0 107.7 324.1 105.2 323.2 103.4 322.3 101.0 321.5M150.3 330.8 153.9 328.2 155.7 326.2 158.8 324.9 164.9 324.1 170.3 323.6 167.3 325.3 161.2 326.5 157.6 328.8 155.1 330.8 154.5 332.0 151.5 331.7 150.3 330.8M202.6 320.9 206.2 318.7 211.1 320.3 214.8 321.5 209.9 321.6 203.8 322.3 202.6 320.9M145.4 319.2 150.3 318.3 156.3 317.7 162.4 318.5 157.6 319.4 150.3 319.6 145.4 319.2M252.5 325.5 257.3 324.8 263.4 325.5 259.8 327.5 254.9 326.9 252.5 325.5M304.2 331.2 307.2 330.8 310.3 331.2 307.2 331.7 304.2 331.2M259.8 364.3 261.6 363.5 261.0 360.3 262.6 360.2 261.2 357.7 261.3 355.1 260.6 353.3 260.1 354.4 259.5 356.4 259.9 360.3 259.6 362.3 259.8 364.3M257.3 370.2 258.8 369.8 259.5 368.8 261.3 369.5 264.0 367.8 263.2 366.9 261.0 366.3 259.5 365.1 259.2 367.2 257.8 367.8 257.3 369.3 257.3 370.2M246.3 380.0 247.5 379.3 248.8 378.1 250.6 377.9 252.5 377.7 253.1 376.1 254.0 375.4 255.5 375.1 256.8 374.1 257.3 372.2 257.2 371.1 258.1 370.6 259.2 370.5 259.5 372.2 259.6 373.5 258.5 374.5 258.4 376.1 258.2 377.4 257.6 378.6 256.1 378.9 255.5 379.3 253.7 379.3 253.4 380.2 252.1 380.7 251.4 379.7 250.0 379.3 248.2 379.7 246.7 380.2 246.3 380.0M244.7 380.8 246.3 380.2 247.2 381.1 246.9 383.5 245.9 384.0 245.4 383.3 244.9 381.8 244.7 380.8M248.2 381.0 249.4 379.7 250.9 379.9 250.3 381.1 248.8 381.8 248.2 381.0M233.1 394.5 233.9 395.8 234.8 394.8 235.3 392.4 234.8 391.5 233.6 392.5 233.1 394.5M219.1 399.5 220.3 400.8 221.6 400.4 222.1 398.8 221.1 398.3 219.3 398.8 219.1 399.5M233.7 400.4 235.7 400.4 235.4 402.4 234.8 404.3 235.1 406.1 236.7 406.4 238.0 408.2 236.8 407.6 235.2 406.6 233.7 405.9 233.0 405.0 232.8 403.0 233.7 400.4M235.4 415.5 237.4 414.5 238.2 413.4 239.7 412.2 241.0 415.1 240.3 416.4 239.6 417.3 237.9 415.8 235.4 415.5M235.4 410.5 236.7 409.6 238.5 408.3 239.7 410.3 239.1 411.6 237.3 412.2 236.0 411.8 235.4 410.5M229.6 413.7 231.3 412.0 232.5 409.9 232.0 411.6 230.4 413.4 229.6 413.7M219.6 422.7 220.3 422.1 222.1 422.3 224.5 420.5 226.3 418.8 228.1 416.8 229.3 415.5 230.1 416.6 232.0 417.6 230.6 418.8 230.1 420.1 230.6 422.1 231.7 423.4 230.3 423.6 230.0 425.4 228.7 426.7 228.4 429.3 226.3 430.0 224.5 428.9 223.0 429.3 221.1 428.5 220.8 426.7 219.6 424.7 219.6 422.7M202.9 417.3 205.6 417.9 207.1 419.7 209.0 421.8 210.5 422.3 212.3 424.0 213.3 426.0 214.8 427.6 216.0 428.6 215.7 432.3 214.3 432.4 212.3 430.6 210.6 428.9 209.2 426.3 207.7 424.4 206.8 422.5 205.3 420.9 203.8 419.1 202.9 417.3M215.0 433.6 216.0 432.4 218.8 433.0 221.4 433.8 224.0 433.8 226.3 434.9 226.2 436.1 223.9 435.7 220.8 435.3 218.4 434.9 216.5 434.4 215.0 433.6M226.9 435.6 228.7 436.4 231.8 436.0 234.2 436.0 236.7 435.7 239.1 435.6 241.5 435.6 239.1 437.2 237.3 438.2 234.2 437.6 231.8 437.2 228.7 436.4M232.4 431.9 232.8 429.3 231.8 428.5 232.8 424.7 233.6 423.6 236.7 423.5 238.6 422.7 239.1 423.1 237.3 424.3 234.2 424.0 234.6 425.8 237.0 425.9 236.0 427.3 235.8 430.6 234.6 431.0 234.1 428.4 233.5 431.9 232.4 431.9M242.1 422.1 243.6 423.0 243.1 424.3 242.7 425.8 242.2 423.6 242.1 422.1M246.4 426.3 248.2 425.2 250.0 425.9 250.4 428.4 251.9 429.2 254.3 426.8 257.3 427.9 259.8 428.8 262.8 429.8 264.4 431.5 264.9 433.2 266.6 433.6 266.3 435.2 267.8 436.5 269.5 438.1 268.3 438.4 265.9 438.0 264.6 435.9 262.4 434.7 261.0 436.5 258.5 436.7 256.1 435.3 254.9 435.7 254.5 431.9 251.9 430.5 249.5 430.1 248.5 430.0 247.6 428.4 248.8 427.7 247.5 426.8 246.4 426.3M267.4 432.1 269.5 431.7 271.4 430.2 272.2 431.0 270.5 432.7 268.3 432.8 267.4 432.1M276.2 433.0 278.6 434.6 281.4 435.9 283.5 437.6 282.3 437.8 279.2 436.5 277.4 434.6 276.2 433.0M286.5 451.2 288.4 452.7 290.2 454.0 289.3 453.9 287.1 452.1 286.5 451.2M289.7 444.4 290.5 445.5 291.6 446.5 293.0 449.4 293.2 450.7M302.7 447.7 304.2 447.4 304.2 448.6 302.8 448.5 302.7 447.7 304.8 446.1 306.0 446.4 304.5 446.8M184.1 416.8 185.1 417.0 186.5 415.2 185.9 413.5 184.5 411.8 184.1 414.2 184.1 416.8M147.0 440.5 148.3 444.9 147.6 447.3 146.6 451.6 144.9 457.4 142.0 458.2 140.5 457.4 139.7 453.6 140.9 451.6 140.9 449.0 140.5 447.0 143.3 445.5 145.4 442.6 147.0 440.5M102.1 375.1 105.4 376.1 106.0 374.4 103.4 374.7 102.1 375.1M97.2 373.5 98.7 373.3 98.9 370.9 98.2 370.6 97.0 371.1 97.2 373.5M97.5 370.3 98.4 370.3 98.6 368.4 97.5 369.1 97.5 370.3M115.6 378.3 119.0 378.5 117.2 378.9 115.6 378.3M126.3 379.1 128.4 378.9 129.1 377.8 127.0 378.5 126.3 379.1M225.1 453.6 225.9 454.2 225.7 458.8 226.3 462.1 226.9 464.8 227.8 467.4 227.0 468.8 226.9 469.7 230.0 470.7 232.4 469.7 234.8 469.1 237.3 469.2 238.5 467.9 240.3 467.1 243.9 466.3 246.6 466.1 248.8 466.9 250.3 467.8 251.5 470.1 252.5 470.4 254.3 468.0 254.7 470.8 255.5 470.4 255.1 468.7 256.7 471.7 257.0 473.3 258.1 474.6 259.8 475.1 261.6 475.7 263.4 474.9 265.0 476.1 266.5 474.6 267.4 474.3 269.5 473.8 269.7 471.7 270.6 469.6 271.1 468.7 272.5 467.1 273.3 464.5 273.9 462.5 273.3 460.4 273.1 458.2 271.9 457.0 270.5 454.4 268.6 452.3 267.6 451.0 265.0 449.5 264.5 446.9 263.8 444.4 262.2 443.3 261.6 441.4 260.7 439.1 260.0 439.3 259.4 442.0 259.2 445.7 258.3 447.6 256.5 447.6 253.7 445.6 251.9 444.4 253.1 442.4 253.6 440.7 251.9 440.5 249.4 440.1 248.2 439.8 246.4 440.7 245.2 441.8 244.6 444.1 243.0 444.3 241.5 442.8 240.1 443.7 238.5 445.1 237.3 446.8 235.7 447.8 235.1 449.4 233.0 450.8 230.6 451.5 228.7 451.9 226.7 453.1 225.1 453.6M262.9 478.2 265.2 478.7 267.4 478.4 267.4 480.1 266.5 481.4 264.8 481.8 263.7 480.1 262.9 478.2M297.1 469.9 299.1 471.3 299.9 472.8 301.1 474.1 303.6 474.1 303.9 475.3 302.4 476.3 302.1 477.5 300.3 479.2 299.7 478.9 300.2 477.6 298.7 476.3 299.6 474.6 299.3 473.3 297.5 470.9 297.1 469.9M297.1 477.9 299.1 478.5 298.6 480.1 297.2 481.8 295.4 482.7 294.8 485.0 293.0 485.9 289.6 485.1 289.9 484.1 291.8 482.5 294.4 481.2 295.7 479.6 297.1 477.9M433.1 411.0 431.9 412.9 430.8 413.4 429.5 412.4 428.2 412.1 426.4 413.0 425.4 412.9 424.0 411.6 423.2 410.3 423.3 408.3 423.5 406.3 423.8 405.0 422.2 403.8 420.4 403.8 417.8 403.9 417.6 402.4 417.7 400.4 418.5 399.1 418.7 397.1 417.3 396.5 415.1 397.0 414.9 398.7 413.7 400.4 411.8 400.5 410.0 400.8 408.4 400.0 407.6 398.7 406.6 396.5 406.0 395.1 406.1 393.2 406.7 390.8 406.5 388.6 407.6 387.3 409.7 386.2 411.2 385.6 413.1 385.8 414.9 386.4 416.5 386.5 416.1 385.0 417.7 384.8 419.8 384.8 421.2 385.7 422.8 385.2 424.0 386.6 424.5 388.6 425.5 390.4 426.4 391.6 427.2 391.5 427.5 389.9 426.9 387.4 426.1 385.6 426.0 384.4 426.6 382.7 428.6 381.1 430.2 380.2 431.8 379.1 433.1 378.3 432.7 376.2 433.3 374.8 433.8 373.7 434.8 372.4 435.0 371.4 436.8 370.9 438.6 370.3 439.8 369.9 439.1 368.8 439.6 367.3 441.1 366.7 443.5 365.9 444.7 365.3 446.5 364.5 446.8 365.2 445.3 366.1 444.7 367.2 446.5 366.5 448.0 366.1 450.2 365.3 452.0 364.4 451.4 363.0 450.2 364.5 448.4 364.5 446.4 363.9 446.2 361.9 445.7 361.4 446.8 360.5 445.3 360.1 443.5 360.2 441.7 361.3 439.8 362.7 438.5 363.1 440.1 362.2 441.7 360.3 443.5 359.8 445.9 358.8 450.2 358.8 452.6 358.4 455.0 357.3 456.9 356.1 456.6 354.3 454.4 353.5 452.0 352.2 450.2 350.9 449.6 349.2 447.7 347.6 446.5 345.5 445.3 346.6 442.9 348.1 441.1 347.3 440.4 345.2 439.2 344.3 436.8 343.4 434.4 342.9 430.7 342.6 430.1 344.8 430.7 347.2 431.6 349.2 431.9 350.9 429.0 352.9 428.3 355.1 429.1 357.1 427.2 357.3 425.0 355.2 424.9 353.1 421.3 352.1 418.5 351.3 417.0 350.1 414.3 349.6 412.5 349.2 410.4 347.5 409.9 345.9 410.4 344.6 411.6 343.3 413.7 342.2 414.9 341.2 417.3 340.4 419.1 339.7 420.4 338.0 421.0 336.7 424.0 337.4 425.8 336.1 424.6 334.7 425.8 333.8 422.8 333.0 419.8 334.7 417.9 335.1 416.1 333.8 413.7 332.8 412.5 330.8 411.2 332.4 408.8 330.4 407.6 332.5 408.8 334.3 405.8 335.7 401.5 335.7 397.9 335.1 395.4 334.9 393.0 334.6 393.6 335.7 390.6 335.5 386.9 335.5 384.5 335.9 382.6 335.4 379.6 334.6 377.2 333.4 373.5 333.3 372.9 332.2 369.3 332.5 367.4 333.2 365.0 333.6 362.6 334.2 360.1 333.8 357.7 334.2 354.7 333.3 351.6 332.9 348.6 332.6 344.9 332.4 341.9 332.1 339.5 331.6 337.0 331.5 334.5 331.1 332.8 331.7 330.3 332.2 328.1 332.5 326.7 333.3 324.9 334.2 322.8 335.0 324.9 335.8 325.8 336.6 327.9 337.1 328.5 337.8 326.0 337.9 323.6 337.5 320.6 338.5 322.4 339.1 324.2 340.0 326.7 339.9 329.1 340.0 329.4 340.9 327.3 341.3 324.9 341.8 323.6 342.6 323.0 343.8 323.9 345.2 325.5 346.0 327.3 345.9 327.9 347.2 330.3 347.7 332.2 347.5 334.0 347.3 333.4 349.1 331.6 350.4 329.7 351.3 327.3 352.3 324.9 353.1 326.7 352.5 329.1 351.8 330.9 351.4 332.8 350.4 334.6 349.4 336.4 348.5 337.6 347.2 338.9 346.6 340.1 345.2 341.3 344.6 341.9 345.9 340.3 347.0 342.5 346.4 344.3 345.6 346.2 344.8 348.0 345.2 349.8 345.8 352.2 345.9 354.7 346.2 356.5 347.0 358.3 347.7 359.5 348.4 361.4 349.8 362.6 351.2 364.4 352.5 365.6 353.5 366.5 353.1 367.4 355.1 368.7 356.4 369.9 357.7 371.7 359.0 373.5 360.1 375.4 361.0 373.3 361.1 373.9 363.6 374.1 365.6 373.9 367.6 373.5 368.9 373.9 371.6 374.4 373.5 376.0 375.1 376.7 376.6 377.4 378.1 378.3 379.3 379.6 379.5 380.8 380.0 382.3 381.4 382.9 383.1 383.9 384.6 385.1 386.0 386.1 387.9 386.2 389.2 388.1 390.2 388.7 391.9 390.2 393.2 391.3 394.5 391.8 393.8 390.8 392.9 389.9 391.2 388.7 389.5 387.5 387.3 386.3 385.3 385.3 383.3 386.9 383.6 388.1 385.3 389.3 386.9 390.6 388.6 391.8 389.9 393.0 391.3 394.2 392.5 395.4 393.8 396.6 395.8 396.9 397.8 397.9 399.4 399.1 400.7 400.9 401.3 402.7 402.1 405.2 403.3 407.0 403.9 409.4 403.6 411.2 403.9 413.1 405.5 414.3 406.4 416.1 407.0 417.9 407.4 418.8 407.8 419.8 408.7 420.7 410.1 420.6 411.3 421.3 411.8 422.2 412.1 423.2 413.3 424.1 413.9 425.8 414.5 427.2 415.1 427.7 414.7 427.1 413.8 428.2 413.0 429.5 413.7 430.1 414.9 430.7 415.9 430.8 417.5 431.0 419.4 430.6 421.3 429.2 422.6 427.9 423.5 427.5 424.7 427.2 425.8 426.6 426.3 427.3 428.0 427.9 428.1 427.4 429.2 426.4 430.0 426.2 431.9 426.7 432.8 427.9 434.2 428.9 435.7 429.9 437.8 431.1 440.2 432.0 442.0 432.7 443.7 433.8 445.1 435.6 446.1 437.5 447.3 438.6 448.2 439.5 449.0 439.6 451.0 439.7 452.9 439.3 455.6 439.1 458.2 438.6 460.8 438.1 462.8 437.9 465.4 437.8 468.0 437.4 470.0 436.4 471.8 435.9 473.6 435.5 475.3 435.6 477.2 435.2 479.2 435.7 480.3 435.0 481.8 434.2 483.8 433.1 485.8 434.4 487.1 433.1 488.4 433.3 490.4 433.8 492.3 435.0 493.6 436.8 495.1 438.6 495.6 440.4 497.2 442.3 497.6 444.1 496.9 445.6 496.7 444.1 496.1 441.9 494.3 441.7 493.4 440.4 493.3 440.8 491.7 441.7 490.8 442.5 489.1 444.7 487.5 442.9 485.5 443.5 484.5 445.3 483.8 446.5 480.9 447.6 480.6 446.3 480.1 445.9 478.5 448.4 478.5 449.6 476.3 452.0 475.7 454.7 474.9 455.9 473.3 456.0 472.4 455.0 471.3 453.8 470.0 455.0 469.9 456.9 470.5 458.2 470.5 459.9 469.1 461.1 467.4 462.9 465.3 464.2 463.4 465.9 461.7 466.0 459.5 466.4 458.2 468.1 456.5 470.2 455.6 472.1 454.9 473.9 454.8 475.1 453.3 476.0 451.4 476.7 449.7 477.4 447.7 477.6 445.1 477.7 442.7 478.4 441.6 479.6 439.4 481.3 437.3 482.4 435.2 482.7 434.0 482.2 431.9 480.6 431.4 479.0 430.6 478.0 429.6 476.3 428.4 474.1 428.5 472.1 427.9 470.9 428.0 470.5 426.8 468.4 426.0 466.1 425.5 464.8 425.0 463.6 424.0 464.2 422.3 462.7 419.4 461.7 418.4 459.9 417.3 458.1 416.8 455.7 416.8 454.2 415.8 452.6 414.2 451.4 413.5 450.2 412.0 449.6 410.8 447.7 410.8 446.5 411.2 444.7 410.8 442.9 410.9 441.8 410.5 440.4 409.6 439.6 408.8 439.5 409.7 438.3 410.3 437.9 411.3 437.3 410.0 437.6 408.5 436.8 409.2 435.6 410.0 434.4 410.3 433.1 411.0M421.7 395.9 424.0 394.6 426.4 394.4 428.9 395.1 431.3 396.5 433.1 397.6 434.7 398.2 433.1 398.6 430.7 398.7 429.5 396.5 427.1 396.1 424.6 395.1 421.7 395.9M434.5 400.5 436.8 398.6 439.8 398.7 441.8 400.4 439.8 400.8 438.0 401.5 435.6 400.8 434.5 400.5M429.7 400.5 432.2 400.8 431.3 401.3 429.7 400.5M443.2 400.4 445.2 400.5 444.7 401.2 443.2 400.4M452.9 362.2 455.7 362.2 458.1 363.1 459.8 363.5 461.0 362.3 460.5 361.0 459.9 360.0 457.5 359.2 457.1 357.1 455.7 357.5 453.8 359.7 452.9 362.2M375.0 361.1 372.9 360.5 371.1 359.4 368.9 358.1 370.5 358.2 372.9 359.0 375.0 361.1M449.8 336.8 447.7 340.0 445.3 342.2 444.1 343.3 441.7 342.6 439.2 341.6 436.8 340.4 435.0 339.9 430.7 340.3 431.9 338.7 435.6 338.7 435.0 336.7 431.9 335.4 429.5 333.4 426.4 332.8 422.2 332.1 417.9 332.0 416.1 330.8 420.4 328.2 426.4 327.9 431.3 329.1 436.2 330.8 439.8 332.1 442.3 332.8 443.5 334.1 446.5 336.1 449.8 336.8M419.8 340.6 423.4 340.6 427.1 341.3 425.8 340.0 421.0 338.3 419.8 340.6M402.7 334.1 398.5 334.3 395.4 333.8 391.2 334.3 386.9 333.8 382.0 332.8 385.1 330.8 381.4 329.5 385.7 328.4 393.0 329.1 395.4 328.4 397.9 330.7 401.5 332.8 402.7 334.1M379.6 330.7 377.2 330.9 372.9 330.3 374.1 328.2 377.2 326.9 382.0 327.3 384.5 328.2 379.6 330.7M435.0 321.6 433.1 322.5 427.7 323.6 422.8 324.2 416.7 324.2 417.9 321.6 411.8 319.0 417.9 317.7 427.7 316.4 439.8 316.0 449.6 316.5 445.9 318.3 439.8 319.6 435.0 321.6M427.7 326.9 417.3 326.9 413.1 325.9 414.3 324.2 422.8 324.2 427.7 324.9 427.7 326.9M404.6 324.9 398.5 325.5 389.9 325.8 382.6 325.5 385.1 324.2 392.4 323.8 398.5 323.3 404.6 324.9M415.5 320.3 409.4 320.3 407.0 319.0 411.8 317.9 415.5 319.0 415.5 320.3M415.5 329.5 410.0 329.5 408.8 327.5 414.9 327.5 415.5 329.5M407.0 330.8 401.5 329.5 400.3 328.2 405.2 327.8 407.0 330.8M471.5 345.9 473.3 344.8 474.1 342.6 475.7 340.6 478.8 338.5 482.4 337.8 485.5 335.1M52.9 334.6 57.2 332.1 60.2 332.0 58.4 329.9 60.8 328.8 62.1 326.9 63.9 326.2 62.7 324.2 64.5 322.9 62.1 321.9 64.5 320.9 65.7 319.2 71.2 318.3 71.8 317.4 62.7 317.0 56.6 315.7M484.9 314.9 476.3 315.2 466.6 316.4 458.1 316.7 452.0 317.0 449.0 317.7 445.9 319.2 442.3 320.3 436.8 321.6 440.4 322.9 438.0 323.6 441.7 324.5 449.6 324.6 453.8 325.1 455.7 326.9 457.5 328.4 458.1 330.4 461.1 331.7 459.3 332.5 462.9 333.4 462.9 335.4 460.5 337.4 461.7 340.0 463.6 342.6 465.4 343.9 468.4 345.2 471.5 345.9M383.9 326.5 388.7 327.0 396.0 326.3 396.6 325.1 392.4 324.1 386.3 324.5 382.0 324.9 383.9 326.5M406.4 325.5 401.5 325.4 400.3 324.2 405.2 323.8 406.4 325.5M411.8 326.7 407.6 326.5 408.2 325.4 411.2 325.4 411.8 326.7M383.9 324.2 378.4 324.6 376.0 323.7 381.4 322.9 383.9 324.2M408.2 334.2 405.2 334.7 403.9 333.7 406.4 332.9 408.2 334.2M431.3 329.1 427.1 329.1 427.7 327.9 430.7 328.2 431.3 329.1M425.2 342.5 423.0 343.0 423.8 342.0 425.2 342.5M405.8 322.3 398.5 322.3 396.6 320.7 403.3 320.6 405.8 322.3M393.6 322.7 388.7 323.2 387.5 321.9 392.4 321.5 393.6 322.7M340.1 349.4 337.0 350.4 337.6 348.8 339.5 348.3 340.1 349.4M155.1 331.5 157.6 332.0 156.3 332.5 155.1 331.5M199.8 408.9 200.2 407.0 199.9 410.3 199.8 408.9M322.4 354.4 320.0 355.1 318.2 355.5 315.1 356.0 310.9 356.5 308.4 356.7 306.0 356.7 303.6 356.4 298.7 355.4 296.9 355.1M264.0 367.3 266.5 365.9 268.3 364.8 270.1 363.6 271.9 362.6 274.4 360.6 276.2 359.0 277.4 357.9M335.3 398.2 336.4 399.0 335.7 399.9 335.1 399.0 335.3 398.2M450.4 492.2 453.2 492.1 453.9 493.0 451.4 493.3 450.4 492.2M478.8 495.6 481.2 495.9 481.4 496.7 479.4 496.1 478.8 495.6M170.5 488.8 172.8 489.1 171.6 490.0 170.7 489.7 170.5 488.8" fill="none" stroke="#000" stroke-width="1" stroke-linejoin="round"/>
<line x1="50.5" y1="424.7" x2="488.5" y2="424.7" stroke="#000" stroke-width="1" stroke-dasharray="3.7,1.6"/>
</g>
<line x1="488.5" y1="424.7" x2="634.5" y2="424.7" stroke="#000" stroke-width="1" stroke-dasharray="3.7,1.6"/>
<line x1="581.8" y1="306.5" x2="581.8" y2="503.5" stroke="#666" stroke-width="1.2" stroke-dasharray="3.7,1.6"/>
<clipPath id="clippb"><rect x="488.5" y="306.5" width="146" height="197"/></clipPath>
<g clip-path="url(#clippb)" fill="none" stroke="#2e9bf0" stroke-linecap="round" stroke-linejoin="round">
<polyline points="566,306.8 570.5,310.5 574.5,314.1 574.5,318 573.3,322.6 571,326.5 569.6,329.8 570.5,333.5 573.3,337.1 577,340.2 581.7,342.6 589,346.5 596.2,350.4 605,354.8 613.2,358.8" stroke-width="2.5" stroke-linecap="butt" stroke-dasharray="2.5,2.8"/>
<polyline points="613.2,358.8 617,360.5 619.2,362.5 620.9,366.1 618.8,368.8 615.6,370.9" stroke-width="2.6"/>
<polyline points="615.6,370.9 609.5,374 603.5,377 597.5,379.5 591.4,381.8 586.5,383.1 581.7,384.2 573,385.8 564.8,387.1 554,389.2 543,391.5" stroke-width="2.5" stroke-linecap="butt" stroke-dasharray="2.5,2.8"/>
<polyline points="543,391.5 536.5,392.8 532.2,394.4 529,396.5 527.3,398.7 525.8,401.5 524.9,404.8 524.3,409 523.7,413.2 522.3,417.5 520.1,420.5 517.6,422.9 508,424 498.3,424.6 499.2,426.8 500.7,429 504.5,434 509.2,438.6 516,442.5 523.7,445.9 530,448.8 535.8,451.9 541.5,455 546.7,458" stroke-width="2.6"/>
<polyline points="546.7,458 556,460.6 564.8,462.8 573,465 581.7,467.2 591.5,469.8 601.1,472.5 609,474.6 616.8,476.6" stroke-width="2.5" stroke-linecap="butt" stroke-dasharray="2.5,2.8"/>
<polyline points="616.8,476.6 617.6,479 617.5,481 617,485 616.8,488.2 618,491.5 620.4,494.3 622.8,497.5 624.8,501.5 624.9,503.3" stroke-width="2.6"/>
</g>
<rect x="50.5" y="306.5" width="584" height="197" fill="none" stroke="#000" stroke-width="1.1"/>
<line x1="488.5" y1="306.5" x2="488.5" y2="503.5" stroke="#000" stroke-width="1.1"/>
<path d="M50.5 306.5h3.6M634.5 306.5h-3.6M50.5 345.9h3.6M634.5 345.9h-3.6M50.5 385.3h3.6M634.5 385.3h-3.6M50.5 424.7h3.6M634.5 424.7h-3.6M50.5 464.1h3.6M634.5 464.1h-3.6M50.5 503.5h3.6M634.5 503.5h-3.6M87 503.5v-3.6M141.75 503.5v-3.6M196.5 503.5v-3.6M251.25 503.5v-3.6M306 503.5v-3.6M360.75 503.5v-3.6M415.5 503.5v-3.6M470.25 503.5v-3.6M511.66 503.5v-3.6M546.73 503.5v-3.6M581.8 503.5v-3.6M616.87 503.5v-3.6" stroke="#000" stroke-width="1" fill="none"/>
<text x="45.4" y="311.8" text-anchor="end">90°N</text>
<text x="639.6" y="311.8">90°N</text>
<text x="45.4" y="351.2" text-anchor="end">60°N</text>
<text x="639.6" y="351.2">60°N</text>
<text x="45.4" y="390.6" text-anchor="end">30°N</text>
<text x="639.6" y="390.6">30°N</text>
<text x="45.4" y="430" text-anchor="end">0°</text>
<text x="639.6" y="430">0°</text>
<text x="45.4" y="469.4" text-anchor="end">30°S</text>
<text x="639.6" y="469.4">30°S</text>
<text x="45.4" y="508.8" text-anchor="end">60°S</text>
<text x="639.6" y="508.8">60°S</text>
<text x="87" y="518.7" text-anchor="middle">0°</text>
<text x="141.75" y="518.7" text-anchor="middle">45°E</text>
<text x="196.5" y="518.7" text-anchor="middle">90°E</text>
<text x="251.25" y="518.7" text-anchor="middle">135°E</text>
<text x="306" y="518.7" text-anchor="middle">180°</text>
<text x="360.75" y="518.7" text-anchor="middle">135°W</text>
<text x="415.5" y="518.7" text-anchor="middle">90°W</text>
<text x="470.25" y="518.7" text-anchor="middle">45°W</text>
<text x="511.66" y="518.7" text-anchor="middle">-0.6</text>
<text x="546.73" y="518.7" text-anchor="middle">-0.3</text>
<text x="581.8" y="518.7" text-anchor="middle">0.0</text>
<text x="616.87" y="518.7" text-anchor="middle">0.3</text>
<text x="561.5" y="536.8" text-anchor="middle">Correlation coefficient</text>
<text x="0.4" y="296.5" font-size="19.5" font-weight="bold">b</text>
<polygon points="130,527.2 115.8,534.9 130,542.6" fill="#1717fa"/>
<rect x="130" y="527.2" width="24" height="15.4" fill="#2a40fa"/>
<rect x="153.2" y="527.2" width="24" height="15.4" fill="#4c6ff9"/>
<rect x="176.4" y="527.2" width="24" height="15.4" fill="#74a0f8"/>
<rect x="199.6" y="527.2" width="24" height="15.4" fill="#9ec6fb"/>
<rect x="222.8" y="527.2" width="24" height="15.4" fill="#c8e2fd"/>
<rect x="246" y="527.2" width="24" height="15.4" fill="#e9f5fe"/>
<rect x="269.2" y="527.2" width="24" height="15.4" fill="#fff4e9"/>
<rect x="292.4" y="527.2" width="24" height="15.4" fill="#fedcc0"/>
<rect x="315.6" y="527.2" width="24" height="15.4" fill="#fdbf9a"/>
<rect x="338.8" y="527.2" width="24" height="15.4" fill="#fb9a78"/>
<rect x="362" y="527.2" width="24" height="15.4" fill="#f96f53"/>
<rect x="385.2" y="527.2" width="23.2" height="15.4" fill="#f83c28"/>
<polygon points="408.4,527.2 422.6,534.9 408.4,542.6" fill="#f3291d"/>
<polygon points="130,527.2 408.4,527.2 422.6,534.9 408.4,542.6 130,542.6 115.8,534.9" fill="none" stroke="#000" stroke-width="0.8"/>
<text x="130" y="559.4" text-anchor="middle">-0.6</text>
<text x="176.4" y="559.4" text-anchor="middle">-0.4</text>
<text x="222.8" y="559.4" text-anchor="middle">-0.2</text>
<text x="269.2" y="559.4" text-anchor="middle">0.0</text>
<text x="315.6" y="559.4" text-anchor="middle">0.2</text>
<text x="362" y="559.4" text-anchor="middle">0.4</text>
<text x="408.4" y="559.4" text-anchor="middle">0.6</text>
<path d="M130 542.6v-2.5M176.4 542.6v-2.5M222.8 542.6v-2.5M269.2 542.6v-2.5M315.6 542.6v-2.5M362 542.6v-2.5M408.4 542.6v-2.5" stroke="#000" stroke-width="0.8" fill="none"/>
<text x="269.2" y="574.3" text-anchor="middle">Correlation coefficient</text>
<line x1="62.9" y1="651.6" x2="315.8" y2="694.1" stroke="#ff8c00" stroke-width="1.8" stroke-dasharray="6.2,2.7"/>
<line x1="66.7" y1="668.6" x2="314" y2="736.1" stroke="#5a5a5a" stroke-width="1.8" stroke-dasharray="6.2,2.7"/>
<g fill="#ff8c00" fill-opacity="0.78">
<circle cx="62.9" cy="685.8" r="4.15"/>
<circle cx="105.6" cy="674" r="4.15"/>
<circle cx="161" cy="624.3" r="4.15"/>
<circle cx="164.1" cy="646.5" r="4.15"/>
<circle cx="171.8" cy="651.6" r="4.15"/>
<circle cx="184.4" cy="663.9" r="4.15"/>
<circle cx="193.8" cy="653.5" r="4.15"/>
<circle cx="196.3" cy="683.8" r="4.15"/>
<circle cx="204.5" cy="689.2" r="4.15"/>
<circle cx="205.8" cy="667.9" r="4.15"/>
<circle cx="207.4" cy="625.1" r="4.15"/>
<circle cx="209.6" cy="671.6" r="4.15"/>
<circle cx="215" cy="720.8" r="4.15"/>
<circle cx="220.5" cy="662.4" r="4.15"/>
<circle cx="225.8" cy="693.3" r="4.15"/>
<circle cx="231.2" cy="641.2" r="4.15"/>
<circle cx="235.2" cy="691.6" r="4.15"/>
<circle cx="239.3" cy="698.7" r="4.15"/>
<circle cx="231.8" cy="740.7" r="4.15"/>
<circle cx="237.2" cy="737.6" r="4.15"/>
<circle cx="249" cy="619.5" r="4.15"/>
<circle cx="260.6" cy="651.4" r="4.15"/>
<circle cx="280.1" cy="723" r="4.15"/>
<circle cx="300.4" cy="716.4" r="4.15"/>
<circle cx="315.8" cy="683" r="4.15"/>
</g>
<g fill="#808080" fill-opacity="0.8">
<circle cx="66.7" cy="646.9" r="4.15"/>
<circle cx="122" cy="665.5" r="4.15"/>
<circle cx="149.4" cy="674.3" r="4.15"/>
<circle cx="162" cy="720.2" r="4.15"/>
<circle cx="165.1" cy="684.3" r="4.15"/>
<circle cx="174.8" cy="643.8" r="4.15"/>
<circle cx="176.4" cy="656" r="4.15"/>
<circle cx="176.1" cy="679.6" r="4.15"/>
<circle cx="176.1" cy="692.8" r="4.15"/>
<circle cx="176.1" cy="697.7" r="4.15"/>
<circle cx="176.1" cy="708" r="4.15"/>
<circle cx="176.4" cy="730.6" r="4.15"/>
<circle cx="176.4" cy="753" r="4.15"/>
<circle cx="206.7" cy="731.2" r="4.15"/>
<circle cx="206.7" cy="755.7" r="4.15"/>
<circle cx="210.8" cy="662.5" r="4.15"/>
<circle cx="210.7" cy="689.9" r="4.15"/>
<circle cx="211" cy="742.4" r="4.15"/>
<circle cx="219.9" cy="694" r="4.15"/>
<circle cx="219.9" cy="741.2" r="4.15"/>
<circle cx="221.8" cy="656.7" r="4.15"/>
<circle cx="227.3" cy="636.7" r="4.15"/>
<circle cx="227.1" cy="712" r="4.15"/>
<circle cx="227.1" cy="743.7" r="4.15"/>
<circle cx="227.1" cy="757.9" r="4.15"/>
<circle cx="233.2" cy="767.4" r="4.15"/>
<circle cx="227.1" cy="786.7" r="4.15"/>
<circle cx="219.4" cy="794.2" r="4.15"/>
<circle cx="236.9" cy="656.7" r="4.15"/>
<circle cx="237.3" cy="705.4" r="4.15"/>
<circle cx="236.9" cy="719.3" r="4.15"/>
<circle cx="247.2" cy="682.1" r="4.15"/>
<circle cx="248.3" cy="725.2" r="4.15"/>
<circle cx="260.6" cy="695.4" r="4.15"/>
<circle cx="289" cy="764.8" r="4.15"/>
<circle cx="314" cy="739.4" r="4.15"/>
<circle cx="315.1" cy="668.9" r="4.15"/>
</g>
<path d="M50.5 610.5H328.5" stroke="#666" stroke-width="1.1" fill="none"/>
<path d="M50.5 610V803 M328.5 610V803" stroke="#000" stroke-width="1.1" fill="none"/>
<path d="M50 802.5H329" stroke="#ff8c00" stroke-width="1.1" fill="none"/>
<text x="46" y="639.86" text-anchor="end">0.6</text>
<text x="46" y="676.84" text-anchor="end">0.4</text>
<text x="46" y="713.82" text-anchor="end">0.2</text>
<text x="46" y="750.8" text-anchor="end">0.0</text>
<text x="46" y="787.78" text-anchor="end">-0.2</text>
<path d="M50.5 634.56h3.6M50.5 671.54h3.6M50.5 708.52h3.6M50.5 745.5h3.6M50.5 782.48h3.6" stroke="#000" stroke-width="1" fill="none"/>
<text x="60.9" y="817.7" text-anchor="middle" fill="#fa8e14">-30</text>
<text x="119.2" y="817.7" text-anchor="middle" fill="#fa8e14">-20</text>
<text x="177.5" y="817.7" text-anchor="middle" fill="#fa8e14">-10</text>
<text x="235.8" y="817.7" text-anchor="middle" fill="#fa8e14">0</text>
<text x="294.1" y="817.7" text-anchor="middle" fill="#fa8e14">10</text>
<path d="M60.9 802.5v-3.6M119.2 802.5v-3.6M177.5 802.5v-3.6M235.8 802.5v-3.6M294.1 802.5v-3.6" stroke="#ff8c00" stroke-width="1" fill="none"/>
<text x="68.1" y="603.3" text-anchor="middle" fill="#666666">-20</text>
<text x="158" y="603.3" text-anchor="middle" fill="#666666">-10</text>
<text x="247.9" y="603.3" text-anchor="middle" fill="#666666">0</text>
<path d="M68.1 610.5v3.6M158 610.5v3.6M247.9 610.5v3.6" stroke="#666" stroke-width="1" fill="none"/>
<text transform="translate(10.5,706.2) rotate(-90)" text-anchor="middle">R (NHWL, ITCZ)</text>
<text x="189.5" y="843.5" text-anchor="middle">ITCZ area trend (10<tspan font-size="10.5" dx="0.8" dy="-7">4</tspan><tspan dx="0.8" dy="7"> km</tspan><tspan font-size="10.5" dx="0.8" dy="-7">2</tspan><tspan dx="0.8" dy="7">·year</tspan><tspan font-size="10.5" dx="0.8" dy="-7">−1</tspan><tspan dx="0.8" dy="7">)</tspan></text>
<circle cx="65.6" cy="738.9" r="4.15" fill="#ff8c00" fill-opacity="0.78"/>
<circle cx="65.6" cy="755.5" r="4.15" fill="#808080" fill-opacity="0.8"/>
<path d="M51.7 772.4H79.1" stroke="#ff8c00" stroke-width="1.8" stroke-dasharray="6.2,2.7"/>
<path d="M51.7 789.5H79.1" stroke="#5a5a5a" stroke-width="1.8" stroke-dasharray="6.2,2.7"/>
<text x="90.6" y="744" fill="#fa8e14" font-size="13.5">CMIP6</text>
<text x="90.6" y="760.6" fill="#666666" font-size="13.5">CESM1 LES</text>
<text x="90.6" y="777.6" fill="#fa8e14" font-size="13.5">R = -0.27</text>
<text x="90.6" y="794.8" fill="#666666" font-size="13.5">R = -0.31*</text>
<text x="-1.2" y="596.4" font-size="19.5" font-weight="bold">c</text>
<line x1="369.3" y1="619.7" x2="621.4" y2="705.1" stroke="#ff8c00" stroke-width="1.8" stroke-dasharray="6.2,2.7"/>
<line x1="365.3" y1="677.1" x2="617.4" y2="742.7" stroke="#5a5a5a" stroke-width="1.8" stroke-dasharray="6.2,2.7"/>
<g fill="#ff8c00" fill-opacity="0.78">
<circle cx="369" cy="629.6" r="4.15"/>
<circle cx="374.5" cy="621.5" r="4.15"/>
<circle cx="449.6" cy="653.7" r="4.15"/>
<circle cx="474.8" cy="625.6" r="4.15"/>
<circle cx="493.4" cy="633.3" r="4.15"/>
<circle cx="509.5" cy="664.9" r="4.15"/>
<circle cx="510.9" cy="672.3" r="4.15"/>
<circle cx="514" cy="683" r="4.15"/>
<circle cx="514.7" cy="706.6" r="4.15"/>
<circle cx="516.3" cy="628.9" r="4.15"/>
<circle cx="521.8" cy="663.3" r="4.15"/>
<circle cx="527.9" cy="647.3" r="4.15"/>
<circle cx="536" cy="668.8" r="4.15"/>
<circle cx="538.2" cy="653.7" r="4.15"/>
<circle cx="539.8" cy="660.9" r="4.15"/>
<circle cx="542.6" cy="775" r="4.15"/>
<circle cx="548.8" cy="700" r="4.15"/>
<circle cx="549" cy="729.2" r="4.15"/>
<circle cx="552" cy="655.4" r="4.15"/>
<circle cx="553.2" cy="685.8" r="4.15"/>
<circle cx="578" cy="674" r="4.15"/>
<circle cx="581.3" cy="683.4" r="4.15"/>
<circle cx="613.7" cy="728" r="4.15"/>
<circle cx="620.7" cy="701.5" r="4.15"/>
<circle cx="621.4" cy="681" r="4.15"/>
</g>
<g fill="#808080" fill-opacity="0.8">
<circle cx="364.9" cy="681" r="4.15"/>
<circle cx="399.9" cy="682.5" r="4.15"/>
<circle cx="447.5" cy="708.7" r="4.15"/>
<circle cx="449" cy="657.7" r="4.15"/>
<circle cx="451.7" cy="689.1" r="4.15"/>
<circle cx="454.1" cy="679.9" r="4.15"/>
<circle cx="454.7" cy="690.5" r="4.15"/>
<circle cx="454.5" cy="707.5" r="4.15"/>
<circle cx="454.5" cy="713.4" r="4.15"/>
<circle cx="454.2" cy="733.5" r="4.15"/>
<circle cx="461.3" cy="686.1" r="4.15"/>
<circle cx="461.8" cy="696.8" r="4.15"/>
<circle cx="461.8" cy="754.4" r="4.15"/>
<circle cx="466.7" cy="711" r="4.15"/>
<circle cx="467" cy="728.7" r="4.15"/>
<circle cx="467" cy="732.7" r="4.15"/>
<circle cx="495" cy="672.5" r="4.15"/>
<circle cx="495.5" cy="695" r="4.15"/>
<circle cx="495.5" cy="719.7" r="4.15"/>
<circle cx="502.1" cy="684.5" r="4.15"/>
<circle cx="502.7" cy="726.6" r="4.15"/>
<circle cx="502.1" cy="752" r="4.15"/>
<circle cx="505.8" cy="715" r="4.15"/>
<circle cx="505.8" cy="733.5" r="4.15"/>
<circle cx="517" cy="667.7" r="4.15"/>
<circle cx="518.6" cy="642.3" r="4.15"/>
<circle cx="536.1" cy="676" r="4.15"/>
<circle cx="553.7" cy="682.3" r="4.15"/>
<circle cx="553.7" cy="725.8" r="4.15"/>
<circle cx="553.7" cy="734" r="4.15"/>
<circle cx="553.7" cy="749.3" r="4.15"/>
<circle cx="549.2" cy="756.9" r="4.15"/>
<circle cx="553.5" cy="787.6" r="4.15"/>
<circle cx="584.6" cy="714.9" r="4.15"/>
<circle cx="584.6" cy="750.4" r="4.15"/>
<circle cx="610.4" cy="753.2" r="4.15"/>
<circle cx="611.5" cy="694.2" r="4.15"/>
<circle cx="617.4" cy="793.7" r="4.15"/>
</g>
<path d="M356.5 610.5H634.5" stroke="#666" stroke-width="1.1" fill="none"/>
<path d="M356.5 610V803 M634.5 610V803" stroke="#000" stroke-width="1.1" fill="none"/>
<path d="M356 802.5H635" stroke="#ff8c00" stroke-width="1.1" fill="none"/>
<text x="639.5" y="643.16">0.6</text>
<text x="639.5" y="678.94">0.4</text>
<text x="639.5" y="714.72">0.2</text>
<text x="639.5" y="750.5">0.0</text>
<text x="639.5" y="786.28">-0.2</text>
<path d="M634.5 637.86h-3.6M634.5 673.64h-3.6M634.5 709.42h-3.6M634.5 745.2h-3.6M634.5 780.98h-3.6" stroke="#000" stroke-width="1" fill="none"/>
<text x="364.3" y="817.7" text-anchor="middle" fill="#fa8e14">-30</text>
<text x="427.5" y="817.7" text-anchor="middle" fill="#fa8e14">-20</text>
<text x="490.7" y="817.7" text-anchor="middle" fill="#fa8e14">-10</text>
<text x="553.9" y="817.7" text-anchor="middle" fill="#fa8e14">0</text>
<text x="617.1" y="817.7" text-anchor="middle" fill="#fa8e14">10</text>
<path d="M364.3 802.5v-3.6M427.5 802.5v-3.6M490.7 802.5v-3.6M553.9 802.5v-3.6M617.1 802.5v-3.6" stroke="#ff8c00" stroke-width="1" fill="none"/>
<text x="372.7" y="603.3" text-anchor="middle" fill="#666666">-20</text>
<text x="457.2" y="603.3" text-anchor="middle" fill="#666666">-10</text>
<text x="541.7" y="603.3" text-anchor="middle" fill="#666666">0</text>
<text x="626.2" y="603.3" text-anchor="middle" fill="#666666">10</text>
<path d="M372.7 610.5v3.6M457.2 610.5v3.6M541.7 610.5v3.6M626.2 610.5v3.6" stroke="#666" stroke-width="1" fill="none"/>
<text transform="translate(681,707.5) rotate(-90)" text-anchor="middle">R (SHWL, ITCZ)</text>
<text x="495.5" y="843.5" text-anchor="middle">ITCZ area trend (10<tspan font-size="10.5" dx="0.8" dy="-7">4</tspan><tspan dx="0.8" dy="7"> km</tspan><tspan font-size="10.5" dx="0.8" dy="-7">2</tspan><tspan dx="0.8" dy="7">·year</tspan><tspan font-size="10.5" dx="0.8" dy="-7">−1</tspan><tspan dx="0.8" dy="7">)</tspan></text>
<circle cx="371.2" cy="738.9" r="4.15" fill="#ff8c00" fill-opacity="0.78"/>
<circle cx="371.2" cy="755.5" r="4.15" fill="#808080" fill-opacity="0.8"/>
<path d="M357.7 772.4H385" stroke="#ff8c00" stroke-width="1.8" stroke-dasharray="6.2,2.7"/>
<path d="M357.7 789.5H385" stroke="#5a5a5a" stroke-width="1.8" stroke-dasharray="6.2,2.7"/>
<text x="396.4" y="744" fill="#fa8e14" font-size="13.5">CMIP6</text>
<text x="396.4" y="760.6" fill="#666666" font-size="13.5">CESM1 LES</text>
<text x="396.4" y="777.6" fill="#fa8e14" font-size="13.5">R = -0.58*</text>
<text x="396.4" y="794.8" fill="#666666" font-size="13.5">R = -0.31*</text>
<text x="337.4" y="596.4" font-size="19.5" font-weight="bold">d</text>
</svg>
</body></html>
